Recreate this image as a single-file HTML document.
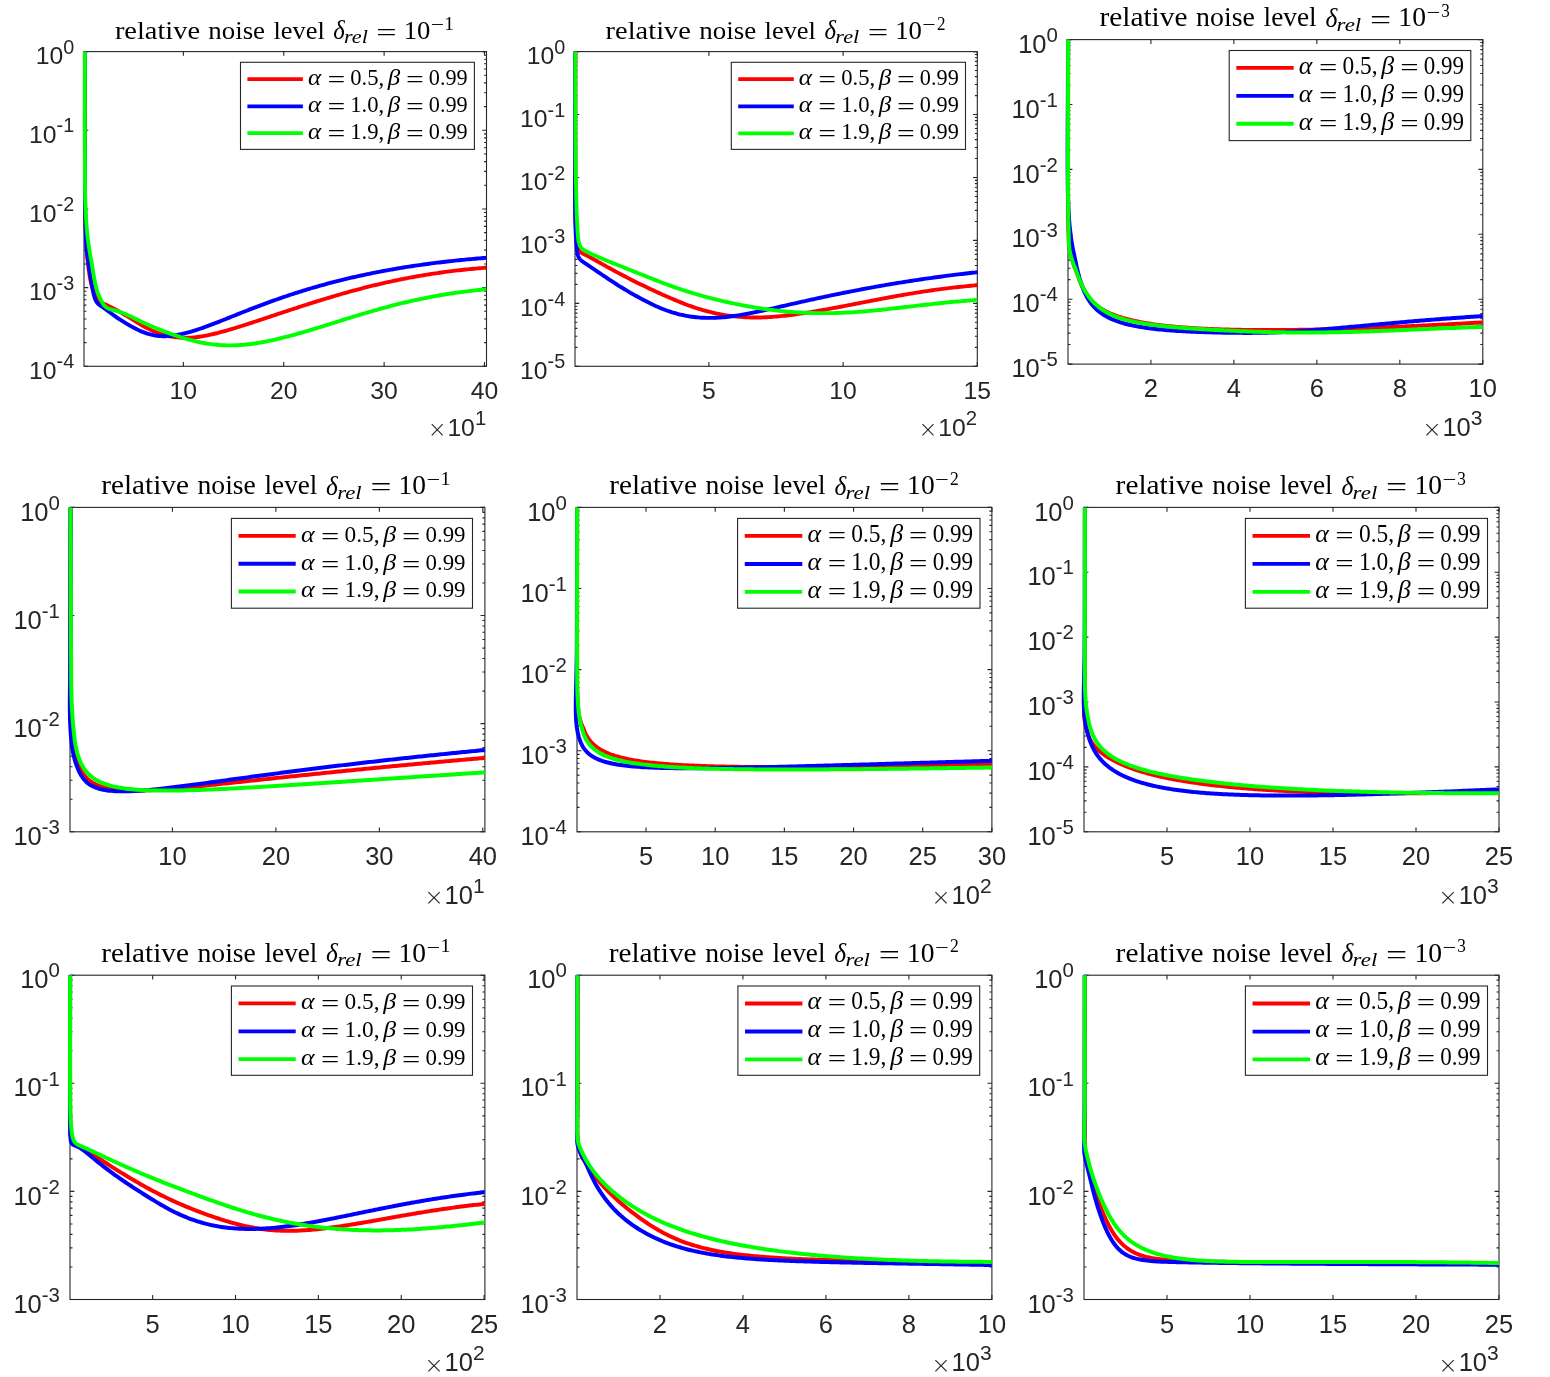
<!DOCTYPE html><html><head><meta charset="utf-8"><style>html,body{margin:0;padding:0;background:#fff;width:1550px;height:1377px;overflow:hidden}svg{display:block}.tk{font-family:"Liberation Sans",sans-serif;fill:#262626}.tt{font-family:"Liberation Serif",serif;fill:#000}.it{font-style:italic}.tx{font-family:"DejaVu Sans",sans-serif;font-weight:200}</style></head><body>
<svg width="1550" height="1377" viewBox="0 0 1550 1377">
<rect width="1550" height="1377" fill="#fff"/>
<g><rect x="84" y="51.6" width="402.5" height="314.7" fill="none" stroke="#262626" stroke-width="1.1"/><path d="M183.37 366.3v-4.27M183.37 51.6v4.27M283.74 366.3v-4.27M283.74 51.6v4.27M384.12 366.3v-4.27M384.12 51.6v4.27M484.49 366.3v-4.27M484.49 51.6v4.27M84 51.6h4.27M486.5 51.6h-4.27M84 106.59h2.42M486.5 106.59h-2.42M84 92.74h2.42M486.5 92.74h-2.42M84 82.91h2.42M486.5 82.91h-2.42M84 75.28h2.42M486.5 75.28h-2.42M84 69.05h2.42M486.5 69.05h-2.42M84 63.79h2.42M486.5 63.79h-2.42M84 59.22h2.42M486.5 59.22h-2.42M84 55.2h2.42M486.5 55.2h-2.42M84 130.28h4.27M486.5 130.28h-4.27M84 185.27h2.42M486.5 185.27h-2.42M84 171.41h2.42M486.5 171.41h-2.42M84 161.58h2.42M486.5 161.58h-2.42M84 153.96h2.42M486.5 153.96h-2.42M84 147.73h2.42M486.5 147.73h-2.42M84 142.46h2.42M486.5 142.46h-2.42M84 137.9h2.42M486.5 137.9h-2.42M84 133.87h2.42M486.5 133.87h-2.42M84 208.95h4.27M486.5 208.95h-4.27M84 263.94h2.42M486.5 263.94h-2.42M84 250.09h2.42M486.5 250.09h-2.42M84 240.26h2.42M486.5 240.26h-2.42M84 232.63h2.42M486.5 232.63h-2.42M84 226.4h2.42M486.5 226.4h-2.42M84 221.14h2.42M486.5 221.14h-2.42M84 216.57h2.42M486.5 216.57h-2.42M84 212.55h2.42M486.5 212.55h-2.42M84 287.62h4.27M486.5 287.62h-4.27M84 342.62h2.42M486.5 342.62h-2.42M84 328.76h2.42M486.5 328.76h-2.42M84 318.93h2.42M486.5 318.93h-2.42M84 311.31h2.42M486.5 311.31h-2.42M84 305.08h2.42M486.5 305.08h-2.42M84 299.81h2.42M486.5 299.81h-2.42M84 295.25h2.42M486.5 295.25h-2.42M84 291.22h2.42M486.5 291.22h-2.42M84 366.3h4.27M486.5 366.3h-4.27" stroke="#262626" stroke-width="1.1" fill="none"/><path d="M84.9 51.6L84.9 55.72L84.9 59.88L84.9 64.07L84.9 68.28L84.89 72.52L84.89 76.77L84.89 81.03L84.88 85.3L84.88 89.56L84.88 93.83L84.88 98.08L84.87 102.31L84.87 106.53L84.87 110.72L84.87 114.87L84.87 118.99L84.87 123.07L84.87 127.1L84.87 131.08L84.88 135L84.88 138.86L84.88 142.65L84.89 146.36L84.9 150L84.91 154.46L84.91 158.86L84.92 163.2L84.92 167.48L84.92 171.69L84.92 175.84L84.93 179.91L84.94 183.93L84.95 187.87L84.97 191.74L85 195.54L85.03 199.27L85.08 202.92L85.13 206.5L85.2 210L85.31 214.87L85.43 219.58L85.56 224.14L85.71 228.55L85.88 232.83L86.06 236.99L86.27 241.04L86.5 245L86.82 249.97L87.16 254.72L87.55 259.29L87.99 263.71L88.5 268L89.13 272.55L89.82 276.96L90.61 281.15L91.5 285L92 286.49L92.5 288.09L93 289.67L93.5 291.17L94 292.57L94.5 293.85L95 295.03L95.5 296.08L96 297.04L96.5 297.89L97 298.65L97.5 299.32L98 299.91L98.5 300.43L99 300.87L99.5 301.27L100 301.62L100.5 301.94L101 302.23L101.5 302.5L102 302.77L102.5 303.02L103 303.27L103.5 303.51L104 303.75L104.5 303.99L105 304.23L105.5 304.47L106 304.71L106.5 304.95L107 305.19L107.5 305.43L108 305.67L108.5 305.91L109 306.16L109.5 306.4L110 306.65L110.5 306.9L111 307.15L111.5 307.41L113.5 308.44L115.5 309.51L117.5 310.6L119.5 311.73L121.5 312.87L123.5 314.04L125.5 315.23L127.5 316.44L129.5 317.66L131.5 318.89L133.5 320.14L135.5 321.39L137.5 322.64L139.5 323.86L141.5 325.05L143.5 326.21L145.5 327.32L147.5 328.38L149.5 329.38L151.5 330.34L153.5 331.23L155.5 332.06L157.5 332.84L159.5 333.55L161.5 334.21L163.5 334.81L165.5 335.35L167.5 335.83L169.5 336.26L171.5 336.63L173.5 336.95L175.5 337.21L177.5 337.43L179.5 337.59L181.5 337.7L183.5 337.77L185.5 337.79L187.5 337.76L189.5 337.69L191.5 337.58L193.5 337.42L195.5 337.23L197.5 336.99L199.5 336.72L201.5 336.41L203.5 336.07L205.5 335.71L207.5 335.31L209.5 334.89L211.5 334.45L213.5 333.99L215.5 333.51L217.5 333.01L219.5 332.49L221.5 331.96L223.5 331.41L225.5 330.85L227.5 330.28L229.5 329.69L231.5 329.1L233.5 328.5L235.5 327.89L237.5 327.27L239.5 326.65L241.5 326.02L243.5 325.38L245.5 324.74L247.5 324.09L249.5 323.44L251.5 322.79L253.5 322.13L255.5 321.47L257.5 320.81L259.5 320.15L261.5 319.48L263.5 318.82L265.5 318.15L267.5 317.49L269.5 316.82L271.5 316.15L273.5 315.48L275.5 314.82L277.5 314.15L279.5 313.49L281.5 312.82L283.5 312.16L285.5 311.5L287.5 310.84L289.5 310.18L291.5 309.52L293.5 308.87L295.5 308.22L297.5 307.57L299.5 306.92L301.5 306.27L303.5 305.63L305.5 304.99L307.5 304.35L309.5 303.72L311.5 303.08L313.5 302.45L315.5 301.83L317.5 301.2L319.5 300.58L321.5 299.96L323.5 299.35L325.5 298.74L327.5 298.13L329.5 297.53L331.5 296.93L333.5 296.33L335.5 295.74L337.5 295.16L339.5 294.58L341.5 294L343.5 293.43L345.5 292.86L347.5 292.3L349.5 291.74L351.5 291.19L353.5 290.64L355.5 290.1L357.5 289.56L359.5 289.03L361.5 288.51L363.5 287.99L365.5 287.48L367.5 286.97L369.5 286.47L371.5 285.97L373.5 285.48L375.5 285L377.5 284.52L379.5 284.05L381.5 283.59L383.5 283.13L385.5 282.67L387.5 282.23L389.5 281.79L391.5 281.35L393.5 280.92L395.5 280.5L397.5 280.08L399.5 279.67L401.5 279.27L403.5 278.87L405.5 278.48L407.5 278.09L409.5 277.71L411.5 277.34L413.5 276.97L415.5 276.61L417.5 276.26L419.5 275.91L421.5 275.57L423.5 275.23L425.5 274.9L427.5 274.58L429.5 274.26L431.5 273.95L433.5 273.64L435.5 273.34L437.5 273.05L439.5 272.76L441.5 272.48L443.5 272.2L445.5 271.93L447.5 271.67L449.5 271.41L451.5 271.16L453.5 270.91L455.5 270.67L457.5 270.44L459.5 270.21L461.5 269.98L463.5 269.77L465.5 269.55L467.5 269.35L469.5 269.15L471.5 268.95L473.5 268.76L475.5 268.58L477.5 268.4L479.5 268.23L481.5 268.06L483.5 267.9L485.5 267.74L486.3 267.68" fill="none" stroke="#ff0000" stroke-width="3.88" stroke-linejoin="round"/><path d="M84.9 51.6L84.9 55.73L84.9 59.91L84.9 64.13L84.9 68.38L84.9 72.67L84.9 76.97L84.9 81.29L84.89 85.62L84.89 89.95L84.89 94.27L84.89 98.58L84.89 102.86L84.89 107.12L84.89 111.34L84.89 115.52L84.89 119.64L84.89 123.71L84.89 127.72L84.89 131.65L84.89 135.51L84.89 139.28L84.89 142.96L84.9 146.53L84.9 150L84.9 154.79L84.9 159.45L84.9 163.98L84.9 168.38L84.9 172.67L84.9 176.84L84.9 180.92L84.91 184.9L84.92 188.79L84.94 192.6L84.96 196.33L85 200L85.06 204.75L85.12 209.35L85.19 213.79L85.27 218.08L85.37 222.21L85.48 226.18L85.6 230L85.76 234.78L85.93 239.18L86.16 243.49L86.5 248L86.92 252.25L87.44 256.62L88.02 261.05L88.65 265.49L89.3 269.9L89.8 272.06L90.3 275.07L90.8 278.36L91.3 281.65L91.8 284.79L92.3 287.7L92.8 290.35L93.3 292.72L93.8 294.81L94.3 296.64L94.8 298.2L95.3 299.53L95.8 300.63L96.3 301.54L96.8 302.3L97.3 302.95L97.8 303.51L98.3 304L98.8 304.44L99.3 304.83L99.8 305.2L100.3 305.56L100.8 305.9L101.3 306.23L101.8 306.56L102.3 306.9L102.8 307.24L103.3 307.59L103.8 307.95L104.3 308.31L104.8 308.67L105.3 309.04L105.8 309.41L106.3 309.79L106.8 310.16L107.3 310.54L107.8 310.91L108.3 311.29L108.8 311.66L109.3 312.04L111.3 313.52L113.3 314.99L115.3 316.41L117.3 317.8L119.3 319.15L121.3 320.46L123.3 321.73L125.3 322.95L127.3 324.14L129.3 325.29L131.3 326.41L133.3 327.48L135.3 328.53L137.3 329.53L139.3 330.47L141.3 331.35L143.3 332.17L145.3 332.91L147.3 333.58L149.3 334.17L151.3 334.69L153.3 335.13L155.3 335.49L157.3 335.78L159.3 335.99L161.3 336.13L163.3 336.19L165.3 336.19L167.3 336.11L169.3 335.98L171.3 335.79L173.3 335.54L175.3 335.25L177.3 334.91L179.3 334.52L181.3 334.1L183.3 333.65L185.3 333.16L187.3 332.64L189.3 332.09L191.3 331.52L193.3 330.92L195.3 330.29L197.3 329.65L199.3 328.99L201.3 328.31L203.3 327.61L205.3 326.9L207.3 326.17L209.3 325.43L211.3 324.68L213.3 323.92L215.3 323.15L217.3 322.37L219.3 321.59L221.3 320.8L223.3 320L225.3 319.21L227.3 318.41L229.3 317.61L231.3 316.81L233.3 316.01L235.3 315.21L237.3 314.41L239.3 313.62L241.3 312.82L243.3 312.03L245.3 311.24L247.3 310.45L249.3 309.67L251.3 308.89L253.3 308.12L255.3 307.35L257.3 306.59L259.3 305.83L261.3 305.07L263.3 304.33L265.3 303.58L267.3 302.85L269.3 302.11L271.3 301.39L273.3 300.67L275.3 299.96L277.3 299.25L279.3 298.55L281.3 297.86L283.3 297.17L285.3 296.49L287.3 295.82L289.3 295.15L291.3 294.49L293.3 293.84L295.3 293.19L297.3 292.55L299.3 291.91L301.3 291.29L303.3 290.67L305.3 290.05L307.3 289.45L309.3 288.84L311.3 288.25L313.3 287.66L315.3 287.08L317.3 286.51L319.3 285.94L321.3 285.38L323.3 284.82L325.3 284.28L327.3 283.73L329.3 283.2L331.3 282.67L333.3 282.15L335.3 281.63L337.3 281.12L339.3 280.62L341.3 280.12L343.3 279.63L345.3 279.14L347.3 278.66L349.3 278.19L351.3 277.72L353.3 277.26L355.3 276.81L357.3 276.36L359.3 275.91L361.3 275.48L363.3 275.04L365.3 274.62L367.3 274.2L369.3 273.78L371.3 273.37L373.3 272.97L375.3 272.57L377.3 272.18L379.3 271.79L381.3 271.4L383.3 271.03L385.3 270.66L387.3 270.29L389.3 269.93L391.3 269.57L393.3 269.22L395.3 268.87L397.3 268.53L399.3 268.19L401.3 267.86L403.3 267.54L405.3 267.21L407.3 266.9L409.3 266.59L411.3 266.28L413.3 265.97L415.3 265.68L417.3 265.38L419.3 265.09L421.3 264.81L423.3 264.53L425.3 264.25L427.3 263.98L429.3 263.72L431.3 263.45L433.3 263.19L435.3 262.94L437.3 262.69L439.3 262.45L441.3 262.2L443.3 261.97L445.3 261.73L447.3 261.5L449.3 261.28L451.3 261.06L453.3 260.84L455.3 260.63L457.3 260.42L459.3 260.21L461.3 260.01L463.3 259.81L465.3 259.62L467.3 259.43L469.3 259.24L471.3 259.06L473.3 258.88L475.3 258.7L477.3 258.53L479.3 258.36L481.3 258.2L483.3 258.03L485.3 257.88L486.3 257.8" fill="none" stroke="#0000ff" stroke-width="3.88" stroke-linejoin="round"/><path d="M84.9 51.6L84.9 55.72L84.9 59.89L84.89 64.1L84.89 68.33L84.89 72.6L84.88 76.88L84.88 81.17L84.87 85.47L84.87 89.77L84.86 94.06L84.86 98.34L84.85 102.6L84.85 106.84L84.85 111.05L84.84 115.21L84.84 119.34L84.84 123.41L84.85 127.43L84.85 131.38L84.86 135.27L84.86 139.08L84.87 142.81L84.89 146.45L84.9 150L84.92 154.75L84.93 159.4L84.93 163.95L84.94 168.4L84.94 172.76L84.95 177.02L84.97 181.19L85 185.28L85.04 189.28L85.1 193.2L85.17 197.04L85.27 200.81L85.4 204.5L85.59 209.03L85.79 213.42L86.02 217.67L86.28 221.79L86.56 225.8L86.87 229.69L87.22 233.49L87.6 237.2L88.17 241.85L88.8 246.25L89.48 250.5L90.19 254.71L90.9 259L91.4 261.27L91.9 264.2L92.4 267.36L92.9 270.54L93.4 273.63L93.9 276.55L94.4 279.28L94.9 281.81L95.4 284.14L95.9 286.27L96.4 288.21L96.9 289.97L97.4 291.56L97.9 292.98L98.4 294.29L98.9 295.5L99.4 296.65L99.9 297.76L100.4 298.85L100.9 299.92L101.4 300.94L101.9 301.9L102.4 302.8L102.9 303.63L103.4 304.38L103.9 305.05L104.4 305.65L104.9 306.17L105.4 306.63L105.9 307.04L106.4 307.41L106.9 307.73L107.4 308.02L107.9 308.29L108.4 308.52L108.9 308.74L109.4 308.93L109.9 309.11L110.4 309.28L110.9 309.44L112.9 309.99L114.9 310.49L116.9 311L118.9 311.57L120.9 312.21L122.9 312.95L124.9 313.78L126.9 314.68L128.9 315.63L130.9 316.61L132.9 317.59L134.9 318.57L136.9 319.54L138.9 320.5L140.9 321.45L142.9 322.39L144.9 323.31L146.9 324.21L148.9 325.1L150.9 325.97L152.9 326.83L154.9 327.68L156.9 328.5L158.9 329.31L160.9 330.11L162.9 330.89L164.9 331.66L166.9 332.41L168.9 333.14L170.9 333.87L172.9 334.58L174.9 335.27L176.9 335.95L178.9 336.62L180.9 337.27L182.9 337.89L184.9 338.5L186.9 339.09L188.9 339.65L190.9 340.19L192.9 340.7L194.9 341.19L196.9 341.65L198.9 342.08L200.9 342.49L202.9 342.87L204.9 343.23L206.9 343.56L208.9 343.86L210.9 344.13L212.9 344.38L214.9 344.6L216.9 344.79L218.9 344.96L220.9 345.09L222.9 345.2L224.9 345.29L226.9 345.34L228.9 345.37L230.9 345.38L232.9 345.35L234.9 345.31L236.9 345.23L238.9 345.13L240.9 345.01L242.9 344.86L244.9 344.68L246.9 344.49L248.9 344.26L250.9 344.02L252.9 343.75L254.9 343.46L256.9 343.15L258.9 342.83L260.9 342.48L262.9 342.12L264.9 341.74L266.9 341.34L268.9 340.93L270.9 340.51L272.9 340.07L274.9 339.62L276.9 339.16L278.9 338.69L280.9 338.2L282.9 337.71L284.9 337.2L286.9 336.69L288.9 336.16L290.9 335.63L292.9 335.09L294.9 334.54L296.9 333.98L298.9 333.42L300.9 332.85L302.9 332.28L304.9 331.7L306.9 331.11L308.9 330.52L310.9 329.92L312.9 329.32L314.9 328.71L316.9 328.1L318.9 327.49L320.9 326.87L322.9 326.25L324.9 325.63L326.9 325L328.9 324.37L330.9 323.74L332.9 323.12L334.9 322.49L336.9 321.86L338.9 321.23L340.9 320.6L342.9 319.97L344.9 319.34L346.9 318.72L348.9 318.1L350.9 317.48L352.9 316.86L354.9 316.25L356.9 315.64L358.9 315.04L360.9 314.43L362.9 313.84L364.9 313.24L366.9 312.65L368.9 312.07L370.9 311.49L372.9 310.91L374.9 310.34L376.9 309.78L378.9 309.22L380.9 308.67L382.9 308.12L384.9 307.58L386.9 307.04L388.9 306.51L390.9 305.99L392.9 305.47L394.9 304.96L396.9 304.46L398.9 303.96L400.9 303.47L402.9 302.98L404.9 302.51L406.9 302.04L408.9 301.57L410.9 301.12L412.9 300.67L414.9 300.23L416.9 299.79L418.9 299.36L420.9 298.94L422.9 298.53L424.9 298.12L426.9 297.73L428.9 297.33L430.9 296.95L432.9 296.57L434.9 296.2L436.9 295.84L438.9 295.49L440.9 295.14L442.9 294.8L444.9 294.47L446.9 294.15L448.9 293.83L450.9 293.52L452.9 293.22L454.9 292.93L456.9 292.64L458.9 292.36L460.9 292.09L462.9 291.83L464.9 291.57L466.9 291.32L468.9 291.08L470.9 290.85L472.9 290.62L474.9 290.4L476.9 290.19L478.9 289.99L480.9 289.79L482.9 289.6L484.9 289.42L486.3 289.3" fill="none" stroke="#00ff00" stroke-width="3.88" stroke-linejoin="round"/><text class="tk" x="183.37" y="398.6" font-size="24.73" text-anchor="middle">10</text><text class="tk" x="283.74" y="398.6" font-size="24.73" text-anchor="middle">20</text><text class="tk" x="384.12" y="398.6" font-size="24.73" text-anchor="middle">30</text><text class="tk" x="484.49" y="398.6" font-size="24.73" text-anchor="middle">40</text><text class="tk" x="74.2" y="64.31" font-size="24.73" text-anchor="end">10<tspan font-size="19.79" dy="-10.57">0</tspan></text><text class="tk" x="74.2" y="142.98" font-size="24.73" text-anchor="end">10<tspan font-size="19.79" dy="-10.57">-1</tspan></text><text class="tk" x="74.2" y="221.66" font-size="24.73" text-anchor="end">10<tspan font-size="19.79" dy="-10.57">-2</tspan></text><text class="tk" x="74.2" y="300.33" font-size="24.73" text-anchor="end">10<tspan font-size="19.79" dy="-10.57">-3</tspan></text><text class="tk" x="74.2" y="379.01" font-size="24.73" text-anchor="end">10<tspan font-size="19.79" dy="-10.57">-4</tspan></text><text class="tk tx" x="427.69" y="437.21" font-size="22.7" textLength="18.97" lengthAdjust="spacingAndGlyphs">×</text><text class="tk" x="486.21" y="436.04" font-size="24.73" text-anchor="end">10<tspan font-size="20.37" dy="-10.67">1</tspan></text><text class="tt" x="114.93" y="38.8" font-size="25.8" textLength="85.05" lengthAdjust="spacingAndGlyphs">relative</text><text class="tt" x="208.36" y="38.8" font-size="25.8" textLength="56.67" lengthAdjust="spacingAndGlyphs">noise</text><text class="tt" x="273.47" y="38.8" font-size="25.8" textLength="51.25" lengthAdjust="spacingAndGlyphs">level</text><text class="tt it" x="333.26" y="39.4" font-size="26.5" textLength="11.47" lengthAdjust="spacingAndGlyphs">δ</text><text class="tt it" x="344.01" y="43.2" font-size="18.8" textLength="23.81" lengthAdjust="spacingAndGlyphs">rel</text><text class="tt" x="376.39" y="41" font-size="25.8" textLength="20.4" lengthAdjust="spacingAndGlyphs">=</text><text class="tt" x="403.7" y="38.8" font-size="25.8" textLength="26.67" lengthAdjust="spacingAndGlyphs">10</text><text class="tt" x="430.82" y="31.3" font-size="19.1" textLength="13.32" lengthAdjust="spacingAndGlyphs">−</text><text class="tt" x="444.25" y="29.8" font-size="19.1" textLength="9.71" lengthAdjust="spacingAndGlyphs">1</text><rect x="240.5" y="62.3" width="233.9" height="87.1" fill="#fff" stroke="#262626" stroke-width="1.1"/><path d="M247.4 79.2H302.9" stroke="#ff0000" stroke-width="3.7"/><text class="tt it" x="307.95" y="84.9" font-size="23.4" textLength="13.18" lengthAdjust="spacingAndGlyphs">α</text><text class="tt" x="327.43" y="86.9" font-size="23.4" textLength="17.76" lengthAdjust="spacingAndGlyphs">=</text><text class="tt" x="350.19" y="84.9" font-size="23.4" textLength="33.96" lengthAdjust="spacingAndGlyphs">0.5,</text><text class="tt it" x="387.8" y="84.9" font-size="23.4" textLength="12.45" lengthAdjust="spacingAndGlyphs">β</text><text class="tt" x="406.03" y="86.9" font-size="23.4" textLength="17.76" lengthAdjust="spacingAndGlyphs">=</text><text class="tt" x="428.81" y="84.9" font-size="23.4" textLength="38.88" lengthAdjust="spacingAndGlyphs">0.99</text><path d="M247.4 106.3H302.9" stroke="#0000ff" stroke-width="3.7"/><text class="tt it" x="307.95" y="112" font-size="23.4" textLength="13.18" lengthAdjust="spacingAndGlyphs">α</text><text class="tt" x="327.43" y="114" font-size="23.4" textLength="17.76" lengthAdjust="spacingAndGlyphs">=</text><text class="tt" x="350.19" y="112" font-size="23.4" textLength="33.96" lengthAdjust="spacingAndGlyphs">1.0,</text><text class="tt it" x="387.8" y="112" font-size="23.4" textLength="12.45" lengthAdjust="spacingAndGlyphs">β</text><text class="tt" x="406.03" y="114" font-size="23.4" textLength="17.76" lengthAdjust="spacingAndGlyphs">=</text><text class="tt" x="428.81" y="112" font-size="23.4" textLength="38.88" lengthAdjust="spacingAndGlyphs">0.99</text><path d="M247.4 133.2H302.9" stroke="#00ff00" stroke-width="3.7"/><text class="tt it" x="307.95" y="138.9" font-size="23.4" textLength="13.18" lengthAdjust="spacingAndGlyphs">α</text><text class="tt" x="327.43" y="140.9" font-size="23.4" textLength="17.76" lengthAdjust="spacingAndGlyphs">=</text><text class="tt" x="350.19" y="138.9" font-size="23.4" textLength="33.96" lengthAdjust="spacingAndGlyphs">1.9,</text><text class="tt it" x="387.8" y="138.9" font-size="23.4" textLength="12.45" lengthAdjust="spacingAndGlyphs">β</text><text class="tt" x="406.03" y="140.9" font-size="23.4" textLength="17.76" lengthAdjust="spacingAndGlyphs">=</text><text class="tt" x="428.81" y="138.9" font-size="23.4" textLength="38.88" lengthAdjust="spacingAndGlyphs">0.99</text></g>
<g><rect x="575" y="51.6" width="402.3" height="314.7" fill="none" stroke="#262626" stroke-width="1.1"/><path d="M708.92 366.3v-4.27M708.92 51.6v4.27M843.11 366.3v-4.27M843.11 51.6v4.27M977.3 366.3v-4.27M977.3 51.6v4.27M575 51.6h4.27M977.3 51.6h-4.27M575 95.59h2.42M977.3 95.59h-2.42M575 84.51h2.42M977.3 84.51h-2.42M575 76.65h2.42M977.3 76.65h-2.42M575 70.55h2.42M977.3 70.55h-2.42M575 65.56h2.42M977.3 65.56h-2.42M575 61.35h2.42M977.3 61.35h-2.42M575 57.7h2.42M977.3 57.7h-2.42M575 54.48h2.42M977.3 54.48h-2.42M575 114.54h4.27M977.3 114.54h-4.27M575 158.53h2.42M977.3 158.53h-2.42M575 147.45h2.42M977.3 147.45h-2.42M575 139.59h2.42M977.3 139.59h-2.42M575 133.49h2.42M977.3 133.49h-2.42M575 128.5h2.42M977.3 128.5h-2.42M575 124.29h2.42M977.3 124.29h-2.42M575 120.64h2.42M977.3 120.64h-2.42M575 117.42h2.42M977.3 117.42h-2.42M575 177.48h4.27M977.3 177.48h-4.27M575 221.47h2.42M977.3 221.47h-2.42M575 210.39h2.42M977.3 210.39h-2.42M575 202.53h2.42M977.3 202.53h-2.42M575 196.43h2.42M977.3 196.43h-2.42M575 191.44h2.42M977.3 191.44h-2.42M575 187.23h2.42M977.3 187.23h-2.42M575 183.58h2.42M977.3 183.58h-2.42M575 180.36h2.42M977.3 180.36h-2.42M575 240.42h4.27M977.3 240.42h-4.27M575 284.41h2.42M977.3 284.41h-2.42M575 273.33h2.42M977.3 273.33h-2.42M575 265.47h2.42M977.3 265.47h-2.42M575 259.37h2.42M977.3 259.37h-2.42M575 254.38h2.42M977.3 254.38h-2.42M575 250.17h2.42M977.3 250.17h-2.42M575 246.52h2.42M977.3 246.52h-2.42M575 243.3h2.42M977.3 243.3h-2.42M575 303.36h4.27M977.3 303.36h-4.27M575 347.35h2.42M977.3 347.35h-2.42M575 336.27h2.42M977.3 336.27h-2.42M575 328.41h2.42M977.3 328.41h-2.42M575 322.31h2.42M977.3 322.31h-2.42M575 317.32h2.42M977.3 317.32h-2.42M575 313.11h2.42M977.3 313.11h-2.42M575 309.46h2.42M977.3 309.46h-2.42M575 306.24h2.42M977.3 306.24h-2.42M575 366.3h4.27M977.3 366.3h-4.27" stroke="#262626" stroke-width="1.1" fill="none"/><path d="M575.3 51.6L575.3 55.72L575.3 59.88L575.3 64.07L575.3 68.28L575.29 72.52L575.29 76.77L575.29 81.03L575.28 85.3L575.28 89.56L575.28 93.83L575.28 98.08L575.27 102.31L575.27 106.53L575.27 110.72L575.27 114.87L575.27 118.99L575.27 123.07L575.27 127.1L575.27 131.08L575.28 135L575.28 138.86L575.28 142.65L575.29 146.36L575.3 150L575.31 154.48L575.32 158.91L575.32 163.31L575.33 167.65L575.33 171.93L575.33 176.15L575.34 180.29L575.35 184.36L575.37 188.34L575.39 192.22L575.41 196.01L575.45 199.68L575.49 203.25L575.54 206.69L575.6 210L575.69 214.66L575.76 219.11L575.85 223.35L575.96 227.36L576.11 231.15L576.32 234.7L576.6 238L576.93 242.67L577.39 246.78L578.7 250.2L579.2 250.95L579.7 251.51L580.2 251.97L580.7 252.35L581.2 252.68L581.7 252.98L582.2 253.27L582.7 253.54L583.2 253.8L583.7 254.06L584.2 254.31L584.7 254.57L585.2 254.82L585.7 255.07L586.2 255.33L586.7 255.59L587.2 255.84L587.7 256.1L588.2 256.36L588.7 256.63L589.2 256.89L589.7 257.15L590.2 257.42L590.7 257.69L591.2 257.96L591.7 258.23L592.2 258.5L592.7 258.78L593.2 259.05L593.7 259.33L594.2 259.6L594.7 259.88L595.2 260.16L595.7 260.43L596.2 260.71L596.7 260.99L597.2 261.27L597.7 261.55L598.2 261.83L598.7 262.11L600.7 263.23L602.7 264.35L604.7 265.47L606.7 266.59L608.7 267.7L610.7 268.8L612.7 269.9L614.7 270.99L616.7 272.08L618.7 273.15L620.7 274.22L622.7 275.27L624.7 276.32L626.7 277.36L628.7 278.39L630.7 279.42L632.7 280.43L634.7 281.43L636.7 282.43L638.7 283.42L640.7 284.4L642.7 285.37L644.7 286.33L646.7 287.29L648.7 288.24L650.7 289.18L652.7 290.11L654.7 291.03L656.7 291.95L658.7 292.86L660.7 293.76L662.7 294.66L664.7 295.54L666.7 296.43L668.7 297.3L670.7 298.17L672.7 299.03L674.7 299.88L676.7 300.72L678.7 301.55L680.7 302.37L682.7 303.17L684.7 303.95L686.7 304.71L688.7 305.45L690.7 306.18L692.7 306.88L694.7 307.56L696.7 308.22L698.7 308.86L700.7 309.47L702.7 310.07L704.7 310.63L706.7 311.18L708.7 311.7L710.7 312.2L712.7 312.68L714.7 313.13L716.7 313.56L718.7 313.96L720.7 314.35L722.7 314.71L724.7 315.04L726.7 315.36L728.7 315.65L730.7 315.92L732.7 316.17L734.7 316.39L736.7 316.6L738.7 316.78L740.7 316.94L742.7 317.08L744.7 317.2L746.7 317.3L748.7 317.38L750.7 317.44L752.7 317.48L754.7 317.49L756.7 317.49L758.7 317.47L760.7 317.44L762.7 317.38L764.7 317.3L766.7 317.21L768.7 317.1L770.7 316.98L772.7 316.84L774.7 316.68L776.7 316.51L778.7 316.33L780.7 316.14L782.7 315.93L784.7 315.71L786.7 315.48L788.7 315.24L790.7 314.99L792.7 314.74L794.7 314.47L796.7 314.19L798.7 313.91L800.7 313.62L802.7 313.32L804.7 313.02L806.7 312.71L808.7 312.39L810.7 312.07L812.7 311.74L814.7 311.4L816.7 311.06L818.7 310.72L820.7 310.37L822.7 310.02L824.7 309.67L826.7 309.31L828.7 308.95L830.7 308.58L832.7 308.21L834.7 307.84L836.7 307.47L838.7 307.09L840.7 306.72L842.7 306.34L844.7 305.96L846.7 305.57L848.7 305.19L850.7 304.8L852.7 304.41L854.7 304.03L856.7 303.64L858.7 303.25L860.7 302.86L862.7 302.47L864.7 302.08L866.7 301.69L868.7 301.3L870.7 300.91L872.7 300.52L874.7 300.14L876.7 299.75L878.7 299.37L880.7 298.99L882.7 298.61L884.7 298.23L886.7 297.86L888.7 297.49L890.7 297.12L892.7 296.75L894.7 296.39L896.7 296.03L898.7 295.68L900.7 295.32L902.7 294.97L904.7 294.63L906.7 294.29L908.7 293.95L910.7 293.62L912.7 293.29L914.7 292.96L916.7 292.64L918.7 292.32L920.7 292.01L922.7 291.7L924.7 291.4L926.7 291.1L928.7 290.8L930.7 290.51L932.7 290.23L934.7 289.95L936.7 289.67L938.7 289.4L940.7 289.14L942.7 288.88L944.7 288.62L946.7 288.37L948.7 288.13L950.7 287.89L952.7 287.66L954.7 287.43L956.7 287.2L958.7 286.98L960.7 286.77L962.7 286.56L964.7 286.36L966.7 286.16L968.7 285.97L970.7 285.79L972.7 285.61L974.7 285.43L976.7 285.26L977.5 285.19" fill="none" stroke="#ff0000" stroke-width="3.88" stroke-linejoin="round"/><path d="M575.2 51.6L575.2 55.71L575.2 59.85L575.2 64.01L575.2 68.19L575.2 72.39L575.2 76.59L575.2 80.8L575.2 85.02L575.2 89.23L575.2 93.45L575.2 97.65L575.2 101.84L575.2 106.02L575.2 110.18L575.2 114.32L575.2 118.44L575.2 122.52L575.2 126.58L575.2 130.59L575.2 134.57L575.2 138.5L575.2 142.39L575.2 146.22L575.2 150L575.2 154.49L575.18 159.01L575.17 163.55L575.14 168.09L575.12 172.61L575.09 177.1L575.07 181.55L575.05 185.94L575.03 190.24L575.01 194.46L575 198.56L575.01 202.54L575.02 206.38L575.04 210.06L575.08 213.56L575.13 216.88L575.2 220L575.36 225.55L575.56 230.51L575.79 235.02L576.07 239.2L576.4 243.2L576.76 248.01L577.2 252.39L578.1 256L578.6 257.15L579.1 258.02L579.6 258.73L580.1 259.32L580.6 259.83L581.1 260.29L581.6 260.72L582.1 261.12L582.6 261.5L583.1 261.87L583.6 262.22L584.1 262.57L584.6 262.92L585.1 263.26L585.6 263.6L586.1 263.94L586.6 264.27L587.1 264.61L587.6 264.95L588.1 265.28L588.6 265.62L589.1 265.95L589.6 266.29L590.1 266.63L590.6 266.96L591.1 267.3L591.6 267.64L592.1 267.98L592.6 268.32L593.1 268.66L593.6 268.99L594.1 269.33L594.6 269.67L595.1 270.01L595.6 270.35L596.1 270.69L596.6 271.03L597.1 271.37L597.6 271.71L598.1 272.05L600.1 273.41L602.1 274.76L604.1 276.11L606.1 277.45L608.1 278.78L610.1 280.1L612.1 281.41L614.1 282.71L616.1 284L618.1 285.27L620.1 286.53L622.1 287.76L624.1 288.99L626.1 290.19L628.1 291.38L630.1 292.55L632.1 293.7L634.1 294.83L636.1 295.95L638.1 297.06L640.1 298.14L642.1 299.21L644.1 300.27L646.1 301.31L648.1 302.33L650.1 303.33L652.1 304.31L654.1 305.26L656.1 306.18L658.1 307.07L660.1 307.92L662.1 308.74L664.1 309.53L666.1 310.28L668.1 310.99L670.1 311.67L672.1 312.32L674.1 312.92L676.1 313.49L678.1 314.02L680.1 314.52L682.1 314.98L684.1 315.41L686.1 315.8L688.1 316.15L690.1 316.48L692.1 316.76L694.1 317.02L696.1 317.24L698.1 317.43L700.1 317.59L702.1 317.72L704.1 317.81L706.1 317.88L708.1 317.92L710.1 317.93L712.1 317.9L714.1 317.86L716.1 317.78L718.1 317.68L720.1 317.55L722.1 317.39L724.1 317.21L726.1 317.01L728.1 316.78L730.1 316.54L732.1 316.27L734.1 315.99L736.1 315.69L738.1 315.37L740.1 315.04L742.1 314.7L744.1 314.34L746.1 313.98L748.1 313.6L750.1 313.21L752.1 312.82L754.1 312.41L756.1 312L758.1 311.59L760.1 311.16L762.1 310.73L764.1 310.3L766.1 309.86L768.1 309.42L770.1 308.98L772.1 308.53L774.1 308.08L776.1 307.63L778.1 307.18L780.1 306.72L782.1 306.26L784.1 305.81L786.1 305.35L788.1 304.89L790.1 304.44L792.1 303.98L794.1 303.53L796.1 303.07L798.1 302.62L800.1 302.17L802.1 301.72L804.1 301.27L806.1 300.83L808.1 300.38L810.1 299.94L812.1 299.5L814.1 299.06L816.1 298.63L818.1 298.19L820.1 297.76L822.1 297.33L824.1 296.9L826.1 296.48L828.1 296.06L830.1 295.64L832.1 295.22L834.1 294.81L836.1 294.4L838.1 293.99L840.1 293.58L842.1 293.17L844.1 292.77L846.1 292.37L848.1 291.98L850.1 291.58L852.1 291.19L854.1 290.8L856.1 290.42L858.1 290.03L860.1 289.65L862.1 289.28L864.1 288.9L866.1 288.53L868.1 288.16L870.1 287.79L872.1 287.43L874.1 287.06L876.1 286.71L878.1 286.35L880.1 286L882.1 285.65L884.1 285.3L886.1 284.96L888.1 284.61L890.1 284.27L892.1 283.94L894.1 283.61L896.1 283.28L898.1 282.95L900.1 282.62L902.1 282.3L904.1 281.98L906.1 281.67L908.1 281.35L910.1 281.04L912.1 280.74L914.1 280.43L916.1 280.13L918.1 279.83L920.1 279.53L922.1 279.24L924.1 278.95L926.1 278.66L928.1 278.38L930.1 278.09L932.1 277.81L934.1 277.54L936.1 277.26L938.1 276.99L940.1 276.72L942.1 276.46L944.1 276.2L946.1 275.93L948.1 275.68L950.1 275.42L952.1 275.17L954.1 274.92L956.1 274.67L958.1 274.43L960.1 274.19L962.1 273.95L964.1 273.71L966.1 273.48L968.1 273.25L970.1 273.02L972.1 272.79L974.1 272.57L976.1 272.35L977.5 272.2" fill="none" stroke="#0000ff" stroke-width="3.88" stroke-linejoin="round"/><path d="M575.3 51.6L575.31 55.73L575.32 59.91L575.33 64.13L575.34 68.38L575.35 72.67L575.36 76.97L575.36 81.29L575.37 85.62L575.38 89.95L575.38 94.27L575.39 98.58L575.4 102.86L575.41 107.12L575.42 111.34L575.43 115.52L575.44 119.64L575.45 123.71L575.47 127.72L575.49 131.65L575.5 135.51L575.52 139.28L575.55 142.96L575.57 146.53L575.6 150L575.64 154.83L575.69 159.56L575.73 164.21L575.78 168.74L575.84 173.16L575.89 177.46L575.95 181.61L576.01 185.62L576.08 189.48L576.15 193.16L576.22 196.68L576.3 200L576.42 204.6L576.54 208.72L576.67 212.53L576.83 216.23L577 220L577.21 224.6L577.44 229.23L577.72 233.58L578.1 237.4L578.62 241.56L579.6 245L580.1 246.06L580.6 246.88L581.1 247.55L581.6 248.11L582.1 248.6L582.6 249.03L583.1 249.42L583.6 249.78L584.1 250.12L584.6 250.43L585.1 250.73L585.6 251.02L586.1 251.3L586.6 251.57L587.1 251.83L587.6 252.09L588.1 252.34L588.6 252.59L589.1 252.83L589.6 253.07L590.1 253.31L590.6 253.55L591.1 253.79L591.6 254.02L592.1 254.25L592.6 254.48L593.1 254.71L593.6 254.93L594.1 255.16L594.6 255.38L595.1 255.61L595.6 255.83L596.1 256.05L596.6 256.27L597.1 256.49L597.6 256.71L598.1 256.93L598.6 257.15L599.1 257.37L599.6 257.58L601.6 258.44L603.6 259.29L605.6 260.13L607.6 260.95L609.6 261.77L611.6 262.58L613.6 263.39L615.6 264.19L617.6 264.98L619.6 265.77L621.6 266.57L623.6 267.36L625.6 268.16L627.6 268.95L629.6 269.75L631.6 270.54L633.6 271.34L635.6 272.14L637.6 272.94L639.6 273.74L641.6 274.55L643.6 275.35L645.6 276.15L647.6 276.96L649.6 277.76L651.6 278.56L653.6 279.35L655.6 280.14L657.6 280.92L659.6 281.69L661.6 282.46L663.6 283.22L665.6 283.96L667.6 284.7L669.6 285.43L671.6 286.15L673.6 286.86L675.6 287.56L677.6 288.25L679.6 288.92L681.6 289.59L683.6 290.25L685.6 290.89L687.6 291.53L689.6 292.15L691.6 292.77L693.6 293.37L695.6 293.97L697.6 294.55L699.6 295.13L701.6 295.69L703.6 296.25L705.6 296.79L707.6 297.33L709.6 297.85L711.6 298.37L713.6 298.88L715.6 299.37L717.6 299.86L719.6 300.34L721.6 300.82L723.6 301.28L725.6 301.74L727.6 302.18L729.6 302.62L731.6 303.05L733.6 303.47L735.6 303.89L737.6 304.3L739.6 304.7L741.6 305.09L743.6 305.47L745.6 305.85L747.6 306.22L749.6 306.58L751.6 306.93L753.6 307.27L755.6 307.6L757.6 307.93L759.6 308.24L761.6 308.55L763.6 308.85L765.6 309.13L767.6 309.41L769.6 309.68L771.6 309.93L773.6 310.18L775.6 310.42L777.6 310.65L779.6 310.86L781.6 311.07L783.6 311.27L785.6 311.46L787.6 311.63L789.6 311.8L791.6 311.96L793.6 312.11L795.6 312.25L797.6 312.38L799.6 312.49L801.6 312.6L803.6 312.7L805.6 312.79L807.6 312.87L809.6 312.94L811.6 313L813.6 313.06L815.6 313.1L817.6 313.13L819.6 313.16L821.6 313.17L823.6 313.18L825.6 313.17L827.6 313.16L829.6 313.14L831.6 313.11L833.6 313.07L835.6 313.02L837.6 312.96L839.6 312.9L841.6 312.82L843.6 312.74L845.6 312.65L847.6 312.55L849.6 312.44L851.6 312.33L853.6 312.21L855.6 312.07L857.6 311.93L859.6 311.79L861.6 311.63L863.6 311.47L865.6 311.3L867.6 311.12L869.6 310.94L871.6 310.75L873.6 310.56L875.6 310.36L877.6 310.16L879.6 309.95L881.6 309.74L883.6 309.53L885.6 309.31L887.6 309.1L889.6 308.87L891.6 308.65L893.6 308.42L895.6 308.2L897.6 307.97L899.6 307.74L901.6 307.51L903.6 307.28L905.6 307.05L907.6 306.81L909.6 306.58L911.6 306.35L913.6 306.12L915.6 305.89L917.6 305.66L919.6 305.44L921.6 305.21L923.6 304.98L925.6 304.76L927.6 304.54L929.6 304.32L931.6 304.1L933.6 303.88L935.6 303.67L937.6 303.46L939.6 303.25L941.6 303.04L943.6 302.84L945.6 302.64L947.6 302.44L949.6 302.24L951.6 302.05L953.6 301.86L955.6 301.68L957.6 301.5L959.6 301.32L961.6 301.15L963.6 300.98L965.6 300.81L967.6 300.65L969.6 300.49L971.6 300.33L973.6 300.18L975.6 300.03L977.5 299.9" fill="none" stroke="#00ff00" stroke-width="3.88" stroke-linejoin="round"/><text class="tk" x="708.92" y="398.6" font-size="24.73" text-anchor="middle">5</text><text class="tk" x="843.11" y="398.6" font-size="24.73" text-anchor="middle">10</text><text class="tk" x="977.3" y="398.6" font-size="24.73" text-anchor="middle">15</text><text class="tk" x="565.2" y="64.31" font-size="24.73" text-anchor="end">10<tspan font-size="19.79" dy="-10.57">0</tspan></text><text class="tk" x="565.2" y="127.25" font-size="24.73" text-anchor="end">10<tspan font-size="19.79" dy="-10.57">-1</tspan></text><text class="tk" x="565.2" y="190.19" font-size="24.73" text-anchor="end">10<tspan font-size="19.79" dy="-10.57">-2</tspan></text><text class="tk" x="565.2" y="253.13" font-size="24.73" text-anchor="end">10<tspan font-size="19.79" dy="-10.57">-3</tspan></text><text class="tk" x="565.2" y="316.07" font-size="24.73" text-anchor="end">10<tspan font-size="19.79" dy="-10.57">-4</tspan></text><text class="tk" x="565.2" y="379.01" font-size="24.73" text-anchor="end">10<tspan font-size="19.79" dy="-10.57">-5</tspan></text><text class="tk tx" x="918.49" y="437.21" font-size="22.7" textLength="18.97" lengthAdjust="spacingAndGlyphs">×</text><text class="tk" x="977.01" y="436.04" font-size="24.73" text-anchor="end">10<tspan font-size="20.37" dy="-10.67">2</tspan></text><text class="tt" x="605.63" y="38.8" font-size="25.87" textLength="85.28" lengthAdjust="spacingAndGlyphs">relative</text><text class="tt" x="699.31" y="38.8" font-size="25.87" textLength="56.82" lengthAdjust="spacingAndGlyphs">noise</text><text class="tt" x="764.59" y="38.8" font-size="25.87" textLength="51.38" lengthAdjust="spacingAndGlyphs">level</text><text class="tt it" x="824.54" y="39.4" font-size="26.57" textLength="11.5" lengthAdjust="spacingAndGlyphs">δ</text><text class="tt it" x="835.32" y="43.21" font-size="18.85" textLength="23.88" lengthAdjust="spacingAndGlyphs">rel</text><text class="tt" x="867.79" y="41.01" font-size="25.87" textLength="20.46" lengthAdjust="spacingAndGlyphs">=</text><text class="tt" x="895.17" y="38.8" font-size="25.87" textLength="26.74" lengthAdjust="spacingAndGlyphs">10</text><text class="tt" x="922.36" y="31.28" font-size="19.15" textLength="13.36" lengthAdjust="spacingAndGlyphs">−</text><text class="tt" x="936.9" y="29.78" font-size="19.15" textLength="8.52" lengthAdjust="spacingAndGlyphs">2</text><rect x="731.3" y="62.3" width="234.2" height="87.1" fill="#fff" stroke="#262626" stroke-width="1.1"/><path d="M738.21 79.22H793.78" stroke="#ff0000" stroke-width="3.7"/><text class="tt it" x="798.83" y="84.93" font-size="23.43" textLength="13.19" lengthAdjust="spacingAndGlyphs">α</text><text class="tt" x="818.34" y="86.93" font-size="23.43" textLength="17.78" lengthAdjust="spacingAndGlyphs">=</text><text class="tt" x="841.13" y="84.93" font-size="23.43" textLength="34.01" lengthAdjust="spacingAndGlyphs">0.5,</text><text class="tt it" x="878.79" y="84.93" font-size="23.43" textLength="12.47" lengthAdjust="spacingAndGlyphs">β</text><text class="tt" x="897.04" y="86.93" font-size="23.43" textLength="17.78" lengthAdjust="spacingAndGlyphs">=</text><text class="tt" x="919.85" y="84.93" font-size="23.43" textLength="38.93" lengthAdjust="spacingAndGlyphs">0.99</text><path d="M738.21 106.36H793.78" stroke="#0000ff" stroke-width="3.7"/><text class="tt it" x="798.83" y="112.06" font-size="23.43" textLength="13.19" lengthAdjust="spacingAndGlyphs">α</text><text class="tt" x="818.34" y="114.07" font-size="23.43" textLength="17.78" lengthAdjust="spacingAndGlyphs">=</text><text class="tt" x="841.13" y="112.06" font-size="23.43" textLength="34.01" lengthAdjust="spacingAndGlyphs">1.0,</text><text class="tt it" x="878.79" y="112.06" font-size="23.43" textLength="12.47" lengthAdjust="spacingAndGlyphs">β</text><text class="tt" x="897.04" y="114.07" font-size="23.43" textLength="17.78" lengthAdjust="spacingAndGlyphs">=</text><text class="tt" x="919.85" y="112.06" font-size="23.43" textLength="38.93" lengthAdjust="spacingAndGlyphs">0.99</text><path d="M738.21 133.29H793.78" stroke="#00ff00" stroke-width="3.7"/><text class="tt it" x="798.83" y="139" font-size="23.43" textLength="13.19" lengthAdjust="spacingAndGlyphs">α</text><text class="tt" x="818.34" y="141" font-size="23.43" textLength="17.78" lengthAdjust="spacingAndGlyphs">=</text><text class="tt" x="841.13" y="139" font-size="23.43" textLength="34.01" lengthAdjust="spacingAndGlyphs">1.9,</text><text class="tt it" x="878.79" y="139" font-size="23.43" textLength="12.47" lengthAdjust="spacingAndGlyphs">β</text><text class="tt" x="897.04" y="141" font-size="23.43" textLength="17.78" lengthAdjust="spacingAndGlyphs">=</text><text class="tt" x="919.85" y="139" font-size="23.43" textLength="38.93" lengthAdjust="spacingAndGlyphs">0.99</text></g>
<g><rect x="1068" y="39.6" width="414.8" height="324.5" fill="none" stroke="#262626" stroke-width="1.1"/><path d="M1150.93 364.1v-4.4M1150.93 39.6v4.4M1233.9 364.1v-4.4M1233.9 39.6v4.4M1316.86 364.1v-4.4M1316.86 39.6v4.4M1399.83 364.1v-4.4M1399.83 39.6v4.4M1482.8 364.1v-4.4M1482.8 39.6v4.4M1068 39.6h4.4M1482.8 39.6h-4.4M1068 84.96h2.5M1482.8 84.96h-2.5M1068 73.53h2.5M1482.8 73.53h-2.5M1068 65.43h2.5M1482.8 65.43h-2.5M1068 59.14h2.5M1482.8 59.14h-2.5M1068 54h2.5M1482.8 54h-2.5M1068 49.65h2.5M1482.8 49.65h-2.5M1068 45.89h2.5M1482.8 45.89h-2.5M1068 42.57h2.5M1482.8 42.57h-2.5M1068 104.5h4.4M1482.8 104.5h-4.4M1068 149.86h2.5M1482.8 149.86h-2.5M1068 138.43h2.5M1482.8 138.43h-2.5M1068 130.33h2.5M1482.8 130.33h-2.5M1068 124.04h2.5M1482.8 124.04h-2.5M1068 118.9h2.5M1482.8 118.9h-2.5M1068 114.55h2.5M1482.8 114.55h-2.5M1068 110.79h2.5M1482.8 110.79h-2.5M1068 107.47h2.5M1482.8 107.47h-2.5M1068 169.4h4.4M1482.8 169.4h-4.4M1068 214.76h2.5M1482.8 214.76h-2.5M1068 203.33h2.5M1482.8 203.33h-2.5M1068 195.23h2.5M1482.8 195.23h-2.5M1068 188.94h2.5M1482.8 188.94h-2.5M1068 183.8h2.5M1482.8 183.8h-2.5M1068 179.45h2.5M1482.8 179.45h-2.5M1068 175.69h2.5M1482.8 175.69h-2.5M1068 172.37h2.5M1482.8 172.37h-2.5M1068 234.3h4.4M1482.8 234.3h-4.4M1068 279.66h2.5M1482.8 279.66h-2.5M1068 268.23h2.5M1482.8 268.23h-2.5M1068 260.13h2.5M1482.8 260.13h-2.5M1068 253.84h2.5M1482.8 253.84h-2.5M1068 248.7h2.5M1482.8 248.7h-2.5M1068 244.35h2.5M1482.8 244.35h-2.5M1068 240.59h2.5M1482.8 240.59h-2.5M1068 237.27h2.5M1482.8 237.27h-2.5M1068 299.2h4.4M1482.8 299.2h-4.4M1068 344.56h2.5M1482.8 344.56h-2.5M1068 333.13h2.5M1482.8 333.13h-2.5M1068 325.03h2.5M1482.8 325.03h-2.5M1068 318.74h2.5M1482.8 318.74h-2.5M1068 313.6h2.5M1482.8 313.6h-2.5M1068 309.25h2.5M1482.8 309.25h-2.5M1068 305.49h2.5M1482.8 305.49h-2.5M1068 302.17h2.5M1482.8 302.17h-2.5M1068 364.1h4.4M1482.8 364.1h-4.4" stroke="#262626" stroke-width="1.1" fill="none"/><path d="M1068.1 39.6L1068.1 43.65L1068.1 47.77L1068.1 51.95L1068.09 56.19L1068.09 60.49L1068.09 64.83L1068.08 69.22L1068.08 73.64L1068.08 78.1L1068.07 82.58L1068.07 87.07L1068.06 91.59L1068.06 96.1L1068.05 100.63L1068.05 105.14L1068.04 109.65L1068.04 114.14L1068.03 118.61L1068.03 123.06L1068.02 127.47L1068.02 131.84L1068.02 136.17L1068.01 140.45L1068.01 144.67L1068.01 148.84L1068.01 152.93L1068.01 156.96L1068.01 160.9L1068.01 164.76L1068.01 168.53L1068.02 172.2L1068.02 175.77L1068.03 179.24L1068.03 182.59L1068.04 185.82L1068.05 188.93L1068.06 191.91L1068.07 194.75L1068.09 197.45L1068.1 200L1068.13 205.22L1068.14 209.9L1068.16 214.12L1068.18 218L1068.22 221.63L1068.28 225.1L1068.37 228.53L1068.5 232L1068.67 236.35L1068.84 240.49L1069.08 244.46L1069.44 248.28L1070 252L1071.25 257.23L1072.83 262.19L1074.5 267L1075 267.97L1075.5 269.19L1076 270.52L1076.5 271.91L1077 273.31L1077.5 274.69L1078 276.06L1078.5 277.39L1079 278.69L1079.5 279.95L1080 281.17L1080.5 282.35L1081 283.49L1081.5 284.6L1082 285.66L1082.5 286.7L1083 287.7L1083.5 288.66L1084 289.6L1084.5 290.51L1085 291.39L1085.5 292.24L1086 293.07L1086.5 293.87L1087 294.64L1087.5 295.39L1088 296.12L1088.5 296.82L1089 297.5L1089.5 298.16L1090 298.79L1090.5 299.4L1091 300L1091.5 300.57L1092 301.12L1092.5 301.65L1093 302.17L1093.5 302.66L1094 303.14L1094.5 303.61L1096.5 305.33L1098.5 306.86L1100.5 308.23L1102.5 309.47L1104.5 310.6L1106.5 311.64L1108.5 312.6L1110.5 313.49L1112.5 314.32L1114.5 315.1L1116.5 315.83L1118.5 316.52L1120.5 317.17L1122.5 317.79L1124.5 318.37L1126.5 318.92L1128.5 319.45L1130.5 319.95L1132.5 320.43L1134.5 320.88L1136.5 321.32L1138.5 321.73L1140.5 322.12L1142.5 322.5L1144.5 322.86L1146.5 323.2L1148.5 323.53L1150.5 323.84L1152.5 324.14L1154.5 324.43L1156.5 324.71L1158.5 324.97L1160.5 325.22L1162.5 325.46L1164.5 325.69L1166.5 325.92L1168.5 326.13L1170.5 326.33L1172.5 326.53L1174.5 326.72L1176.5 326.9L1178.5 327.07L1180.5 327.23L1182.5 327.39L1184.5 327.54L1186.5 327.69L1188.5 327.83L1190.5 327.96L1192.5 328.09L1194.5 328.21L1196.5 328.33L1198.5 328.44L1200.5 328.55L1202.5 328.65L1204.5 328.75L1206.5 328.84L1208.5 328.93L1210.5 329.01L1212.5 329.1L1214.5 329.17L1216.5 329.25L1218.5 329.32L1220.5 329.38L1222.5 329.44L1224.5 329.5L1226.5 329.56L1228.5 329.61L1230.5 329.66L1232.5 329.71L1234.5 329.75L1236.5 329.8L1238.5 329.83L1240.5 329.87L1242.5 329.9L1244.5 329.93L1246.5 329.96L1248.5 329.99L1250.5 330.01L1252.5 330.03L1254.5 330.05L1256.5 330.06L1258.5 330.07L1260.5 330.08L1262.5 330.09L1264.5 330.1L1266.5 330.1L1268.5 330.1L1270.5 330.1L1272.5 330.1L1274.5 330.09L1276.5 330.08L1278.5 330.08L1280.5 330.06L1282.5 330.05L1284.5 330.03L1286.5 330.02L1288.5 330L1290.5 329.98L1292.5 329.95L1294.5 329.93L1296.5 329.9L1298.5 329.87L1300.5 329.84L1302.5 329.81L1304.5 329.78L1306.5 329.74L1308.5 329.71L1310.5 329.67L1312.5 329.63L1314.5 329.59L1316.5 329.55L1318.5 329.5L1320.5 329.46L1322.5 329.41L1324.5 329.36L1326.5 329.31L1328.5 329.26L1330.5 329.21L1332.5 329.15L1334.5 329.1L1336.5 329.04L1338.5 328.98L1340.5 328.92L1342.5 328.86L1344.5 328.8L1346.5 328.74L1348.5 328.67L1350.5 328.61L1352.5 328.54L1354.5 328.47L1356.5 328.41L1358.5 328.34L1360.5 328.27L1362.5 328.19L1364.5 328.12L1366.5 328.05L1368.5 327.97L1370.5 327.9L1372.5 327.82L1374.5 327.74L1376.5 327.66L1378.5 327.58L1380.5 327.5L1382.5 327.42L1384.5 327.34L1386.5 327.25L1388.5 327.17L1390.5 327.09L1392.5 327L1394.5 326.91L1396.5 326.82L1398.5 326.74L1400.5 326.65L1402.5 326.56L1404.5 326.47L1406.5 326.37L1408.5 326.28L1410.5 326.19L1412.5 326.09L1414.5 326L1416.5 325.9L1418.5 325.81L1420.5 325.71L1422.5 325.61L1424.5 325.52L1426.5 325.42L1428.5 325.32L1430.5 325.22L1432.5 325.12L1434.5 325.01L1436.5 324.91L1438.5 324.81L1440.5 324.71L1442.5 324.6L1444.5 324.5L1446.5 324.39L1448.5 324.29L1450.5 324.18L1452.5 324.07L1454.5 323.97L1456.5 323.86L1458.5 323.75L1460.5 323.64L1462.5 323.53L1464.5 323.42L1466.5 323.31L1468.5 323.2L1470.5 323.09L1472.5 322.98L1474.5 322.86L1476.5 322.75L1478.5 322.64L1480.5 322.52L1482.5 322.41L1482.7 322.4" fill="none" stroke="#ff0000" stroke-width="4" stroke-linejoin="round"/><path d="M1068.1 39.6L1068.1 43.65L1068.09 47.77L1068.08 51.96L1068.07 56.21L1068.06 60.51L1068.04 64.87L1068.02 69.26L1068 73.7L1067.97 78.16L1067.95 82.65L1067.93 87.17L1067.9 91.69L1067.87 96.22L1067.85 100.76L1067.82 105.29L1067.79 109.81L1067.77 114.32L1067.74 118.8L1067.72 123.25L1067.7 127.68L1067.68 132.06L1067.67 136.4L1067.65 140.69L1067.64 144.91L1067.63 149.08L1067.63 153.18L1067.63 157.2L1067.63 161.14L1067.64 165L1067.65 168.76L1067.67 172.43L1067.69 175.99L1067.72 179.44L1067.75 182.77L1067.79 185.98L1067.84 189.06L1067.9 192.01L1067.96 194.82L1068.02 197.49L1068.1 200L1068.3 205.67L1068.53 210.65L1068.77 215.08L1069.04 219.13L1069.35 222.95L1069.7 226.68L1070.1 230.5L1070.62 234.85L1071.19 238.98L1071.82 242.97L1072.49 246.88L1073.2 250.8L1073.7 252.68L1074.2 254.93L1074.7 257.33L1075.2 259.76L1075.7 262.18L1076.2 264.54L1076.7 266.82L1077.2 269.02L1077.7 271.13L1078.2 273.15L1078.7 275.08L1079.2 276.92L1079.7 278.68L1080.2 280.36L1080.7 281.96L1081.2 283.49L1081.7 284.96L1082.2 286.36L1082.7 287.7L1083.2 288.98L1083.7 290.2L1084.2 291.37L1084.7 292.5L1085.2 293.57L1085.7 294.6L1086.2 295.59L1086.7 296.54L1087.2 297.45L1087.7 298.32L1088.2 299.16L1088.7 299.96L1089.2 300.73L1089.7 301.48L1090.2 302.19L1090.7 302.88L1091.2 303.54L1091.7 304.18L1092.2 304.8L1092.7 305.4L1093.2 305.98L1095.2 308.11L1097.2 309.99L1099.2 311.66L1101.2 313.17L1103.2 314.52L1105.2 315.75L1107.2 316.87L1109.2 317.89L1111.2 318.83L1113.2 319.7L1115.2 320.49L1117.2 321.23L1119.2 321.92L1121.2 322.56L1123.2 323.15L1125.2 323.71L1127.2 324.23L1129.2 324.71L1131.2 325.17L1133.2 325.6L1135.2 326L1137.2 326.38L1139.2 326.74L1141.2 327.08L1143.2 327.4L1145.2 327.7L1147.2 327.99L1149.2 328.26L1151.2 328.51L1153.2 328.76L1155.2 328.99L1157.2 329.21L1159.2 329.41L1161.2 329.61L1163.2 329.8L1165.2 329.98L1167.2 330.15L1169.2 330.31L1171.2 330.46L1173.2 330.61L1175.2 330.75L1177.2 330.88L1179.2 331L1181.2 331.12L1183.2 331.24L1185.2 331.35L1187.2 331.45L1189.2 331.55L1191.2 331.64L1193.2 331.73L1195.2 331.81L1197.2 331.89L1199.2 331.97L1201.2 332.04L1203.2 332.11L1205.2 332.18L1207.2 332.24L1209.2 332.3L1211.2 332.35L1213.2 332.41L1215.2 332.46L1217.2 332.5L1219.2 332.55L1221.2 332.59L1223.2 332.63L1225.2 332.67L1227.2 332.7L1229.2 332.74L1231.2 332.77L1233.2 332.8L1235.2 332.82L1237.2 332.84L1239.2 332.86L1241.2 332.87L1243.2 332.88L1245.2 332.89L1247.2 332.89L1249.2 332.89L1251.2 332.88L1253.2 332.87L1255.2 332.85L1257.2 332.83L1259.2 332.8L1261.2 332.77L1263.2 332.73L1265.2 332.69L1267.2 332.64L1269.2 332.59L1271.2 332.53L1273.2 332.47L1275.2 332.4L1277.2 332.32L1279.2 332.24L1281.2 332.15L1283.2 332.06L1285.2 331.96L1287.2 331.86L1289.2 331.75L1291.2 331.64L1293.2 331.52L1295.2 331.4L1297.2 331.27L1299.2 331.14L1301.2 331.01L1303.2 330.87L1305.2 330.73L1307.2 330.58L1309.2 330.44L1311.2 330.29L1313.2 330.13L1315.2 329.98L1317.2 329.82L1319.2 329.66L1321.2 329.49L1323.2 329.33L1325.2 329.16L1327.2 328.99L1329.2 328.82L1331.2 328.65L1333.2 328.47L1335.2 328.3L1337.2 328.12L1339.2 327.94L1341.2 327.76L1343.2 327.58L1345.2 327.4L1347.2 327.22L1349.2 327.04L1351.2 326.86L1353.2 326.67L1355.2 326.49L1357.2 326.31L1359.2 326.12L1361.2 325.94L1363.2 325.75L1365.2 325.57L1367.2 325.39L1369.2 325.2L1371.2 325.02L1373.2 324.83L1375.2 324.65L1377.2 324.47L1379.2 324.28L1381.2 324.1L1383.2 323.92L1385.2 323.73L1387.2 323.55L1389.2 323.37L1391.2 323.19L1393.2 323.01L1395.2 322.83L1397.2 322.66L1399.2 322.48L1401.2 322.3L1403.2 322.13L1405.2 321.95L1407.2 321.78L1409.2 321.61L1411.2 321.43L1413.2 321.26L1415.2 321.09L1417.2 320.93L1419.2 320.76L1421.2 320.59L1423.2 320.43L1425.2 320.26L1427.2 320.1L1429.2 319.94L1431.2 319.78L1433.2 319.62L1435.2 319.46L1437.2 319.3L1439.2 319.15L1441.2 318.99L1443.2 318.84L1445.2 318.69L1447.2 318.54L1449.2 318.39L1451.2 318.24L1453.2 318.09L1455.2 317.95L1457.2 317.81L1459.2 317.66L1461.2 317.52L1463.2 317.38L1465.2 317.25L1467.2 317.11L1469.2 316.97L1471.2 316.84L1473.2 316.71L1475.2 316.58L1477.2 316.45L1479.2 316.32L1481.2 316.19L1482.7 316.1" fill="none" stroke="#0000ff" stroke-width="4" stroke-linejoin="round"/><path d="M1068.1 39.6L1068.1 43.62L1068.1 47.64L1068.1 51.66L1068.1 55.68L1068.1 59.7L1068.1 63.73L1068.1 67.75L1068.1 71.77L1068.1 75.79L1068.1 79.81L1068.1 83.83L1068.1 87.85L1068.1 91.87L1068.1 95.89L1068.1 99.91L1068.1 103.93L1068.1 107.95L1068.1 111.97L1068.1 115.98L1068.1 120L1068.1 124.05L1068.1 128.18L1068.09 132.37L1068.08 136.62L1068.08 140.9L1068.07 145.21L1068.06 149.52L1068.05 153.83L1068.04 158.12L1068.04 162.38L1068.03 166.59L1068.03 170.73L1068.03 174.81L1068.03 178.79L1068.03 182.67L1068.04 186.43L1068.05 190.05L1068.06 193.53L1068.08 196.85L1068.1 200L1068.14 205.17L1068.19 209.95L1068.25 214.41L1068.31 218.62L1068.39 222.66L1068.48 226.59L1068.6 230.5L1068.69 234.88L1068.75 239.07L1068.85 243.11L1069.11 247.01L1069.6 250.8L1070.84 256.14L1072.47 261.19L1074.2 266.1L1074.7 267.03L1075.2 268.23L1075.7 269.56L1076.2 270.95L1076.7 272.36L1077.2 273.76L1077.7 275.13L1078.2 276.48L1078.7 277.79L1079.2 279.05L1079.7 280.28L1080.2 281.47L1080.7 282.62L1081.2 283.73L1081.7 284.8L1082.2 285.83L1082.7 286.83L1083.2 287.8L1083.7 288.73L1084.2 289.63L1084.7 290.51L1085.2 291.35L1085.7 292.17L1086.2 292.96L1086.7 293.73L1087.2 294.48L1087.7 295.2L1088.2 295.9L1088.7 296.59L1089.2 297.25L1089.7 297.89L1090.2 298.51L1090.7 299.12L1091.2 299.71L1091.7 300.29L1092.2 300.85L1092.7 301.39L1093.2 301.92L1093.7 302.44L1094.2 302.94L1096.2 304.83L1098.2 306.55L1100.2 308.11L1102.2 309.53L1104.2 310.83L1106.2 312.02L1108.2 313.12L1110.2 314.13L1112.2 315.06L1114.2 315.92L1116.2 316.71L1118.2 317.45L1120.2 318.13L1122.2 318.77L1124.2 319.36L1126.2 319.91L1128.2 320.42L1130.2 320.91L1132.2 321.37L1134.2 321.8L1136.2 322.2L1138.2 322.59L1140.2 322.95L1142.2 323.3L1144.2 323.63L1146.2 323.94L1148.2 324.24L1150.2 324.52L1152.2 324.8L1154.2 325.06L1156.2 325.31L1158.2 325.55L1160.2 325.78L1162.2 326L1164.2 326.22L1166.2 326.42L1168.2 326.62L1170.2 326.81L1172.2 327L1174.2 327.18L1176.2 327.35L1178.2 327.52L1180.2 327.68L1182.2 327.84L1184.2 328L1186.2 328.15L1188.2 328.29L1190.2 328.44L1192.2 328.57L1194.2 328.71L1196.2 328.84L1198.2 328.97L1200.2 329.09L1202.2 329.22L1204.2 329.33L1206.2 329.45L1208.2 329.57L1210.2 329.68L1212.2 329.79L1214.2 329.9L1216.2 330L1218.2 330.11L1220.2 330.21L1222.2 330.31L1224.2 330.4L1226.2 330.5L1228.2 330.6L1230.2 330.69L1232.2 330.78L1234.2 330.87L1236.2 330.96L1238.2 331.04L1240.2 331.13L1242.2 331.21L1244.2 331.29L1246.2 331.37L1248.2 331.44L1250.2 331.51L1252.2 331.58L1254.2 331.65L1256.2 331.72L1258.2 331.78L1260.2 331.84L1262.2 331.9L1264.2 331.95L1266.2 332.01L1268.2 332.06L1270.2 332.1L1272.2 332.15L1274.2 332.19L1276.2 332.23L1278.2 332.27L1280.2 332.3L1282.2 332.33L1284.2 332.36L1286.2 332.39L1288.2 332.41L1290.2 332.44L1292.2 332.45L1294.2 332.47L1296.2 332.48L1298.2 332.5L1300.2 332.5L1302.2 332.51L1304.2 332.51L1306.2 332.51L1308.2 332.51L1310.2 332.51L1312.2 332.5L1314.2 332.49L1316.2 332.48L1318.2 332.47L1320.2 332.45L1322.2 332.43L1324.2 332.41L1326.2 332.39L1328.2 332.36L1330.2 332.34L1332.2 332.31L1334.2 332.27L1336.2 332.24L1338.2 332.2L1340.2 332.16L1342.2 332.12L1344.2 332.08L1346.2 332.03L1348.2 331.99L1350.2 331.94L1352.2 331.88L1354.2 331.83L1356.2 331.77L1358.2 331.72L1360.2 331.66L1362.2 331.59L1364.2 331.53L1366.2 331.46L1368.2 331.39L1370.2 331.32L1372.2 331.25L1374.2 331.18L1376.2 331.11L1378.2 331.03L1380.2 330.95L1382.2 330.87L1384.2 330.8L1386.2 330.71L1388.2 330.63L1390.2 330.55L1392.2 330.47L1394.2 330.39L1396.2 330.3L1398.2 330.22L1400.2 330.13L1402.2 330.05L1404.2 329.96L1406.2 329.88L1408.2 329.79L1410.2 329.7L1412.2 329.62L1414.2 329.53L1416.2 329.45L1418.2 329.36L1420.2 329.28L1422.2 329.19L1424.2 329.11L1426.2 329.02L1428.2 328.94L1430.2 328.85L1432.2 328.77L1434.2 328.69L1436.2 328.6L1438.2 328.52L1440.2 328.44L1442.2 328.36L1444.2 328.28L1446.2 328.2L1448.2 328.12L1450.2 328.04L1452.2 327.96L1454.2 327.89L1456.2 327.81L1458.2 327.74L1460.2 327.66L1462.2 327.59L1464.2 327.52L1466.2 327.44L1468.2 327.37L1470.2 327.3L1472.2 327.24L1474.2 327.17L1476.2 327.1L1478.2 327.04L1480.2 326.97L1482.2 326.91L1482.7 326.89" fill="none" stroke="#00ff00" stroke-width="4" stroke-linejoin="round"/><text class="tk" x="1150.93" y="397.4" font-size="25.5" text-anchor="middle">2</text><text class="tk" x="1233.9" y="397.4" font-size="25.5" text-anchor="middle">4</text><text class="tk" x="1316.86" y="397.4" font-size="25.5" text-anchor="middle">6</text><text class="tk" x="1399.83" y="397.4" font-size="25.5" text-anchor="middle">8</text><text class="tk" x="1482.8" y="397.4" font-size="25.5" text-anchor="middle">10</text><text class="tk" x="1057.9" y="52.7" font-size="25.5" text-anchor="end">10<tspan font-size="20.4" dy="-10.9">0</tspan></text><text class="tk" x="1057.9" y="117.6" font-size="25.5" text-anchor="end">10<tspan font-size="20.4" dy="-10.9">-1</tspan></text><text class="tk" x="1057.9" y="182.5" font-size="25.5" text-anchor="end">10<tspan font-size="20.4" dy="-10.9">-2</tspan></text><text class="tk" x="1057.9" y="247.4" font-size="25.5" text-anchor="end">10<tspan font-size="20.4" dy="-10.9">-3</tspan></text><text class="tk" x="1057.9" y="312.3" font-size="25.5" text-anchor="end">10<tspan font-size="20.4" dy="-10.9">-4</tspan></text><text class="tk" x="1057.9" y="377.2" font-size="25.5" text-anchor="end">10<tspan font-size="20.4" dy="-10.9">-5</tspan></text><text class="tk tx" x="1422.17" y="437.2" font-size="23.4" textLength="19.55" lengthAdjust="spacingAndGlyphs">×</text><text class="tk" x="1482.5" y="436" font-size="25.5" text-anchor="end">10<tspan font-size="21" dy="-11">3</tspan></text><text class="tt" x="1099.41" y="26.3" font-size="26.71" textLength="88.05" lengthAdjust="spacingAndGlyphs">relative</text><text class="tt" x="1196.14" y="26.3" font-size="26.71" textLength="58.67" lengthAdjust="spacingAndGlyphs">noise</text><text class="tt" x="1263.55" y="26.3" font-size="26.71" textLength="53.05" lengthAdjust="spacingAndGlyphs">level</text><text class="tt it" x="1325.44" y="26.92" font-size="27.43" textLength="11.87" lengthAdjust="spacingAndGlyphs">δ</text><text class="tt it" x="1336.57" y="30.86" font-size="19.46" textLength="24.65" lengthAdjust="spacingAndGlyphs">rel</text><text class="tt" x="1370.1" y="28.58" font-size="26.71" textLength="21.12" lengthAdjust="spacingAndGlyphs">=</text><text class="tt" x="1398.37" y="26.3" font-size="26.71" textLength="27.61" lengthAdjust="spacingAndGlyphs">10</text><text class="tt" x="1426.44" y="18.54" font-size="19.77" textLength="13.79" lengthAdjust="spacingAndGlyphs">−</text><text class="tt" x="1441.3" y="16.98" font-size="19.77" textLength="8.59" lengthAdjust="spacingAndGlyphs">3</text><rect x="1229.2" y="50.5" width="241.6" height="90.1" fill="#fff" stroke="#262626" stroke-width="1.1"/><path d="M1236.33 67.96H1293.65" stroke="#ff0000" stroke-width="3.82"/><text class="tt it" x="1298.87" y="73.84" font-size="24.17" textLength="13.61" lengthAdjust="spacingAndGlyphs">α</text><text class="tt" x="1318.99" y="75.91" font-size="24.17" textLength="18.35" lengthAdjust="spacingAndGlyphs">=</text><text class="tt" x="1342.51" y="73.84" font-size="24.17" textLength="35.08" lengthAdjust="spacingAndGlyphs">0.5,</text><text class="tt it" x="1381.35" y="73.84" font-size="24.17" textLength="12.86" lengthAdjust="spacingAndGlyphs">β</text><text class="tt" x="1400.17" y="75.91" font-size="24.17" textLength="18.35" lengthAdjust="spacingAndGlyphs">=</text><text class="tt" x="1423.71" y="73.84" font-size="24.17" textLength="40.16" lengthAdjust="spacingAndGlyphs">0.99</text><path d="M1236.33 95.95H1293.65" stroke="#0000ff" stroke-width="3.82"/><text class="tt it" x="1298.87" y="101.84" font-size="24.17" textLength="13.61" lengthAdjust="spacingAndGlyphs">α</text><text class="tt" x="1318.99" y="103.9" font-size="24.17" textLength="18.35" lengthAdjust="spacingAndGlyphs">=</text><text class="tt" x="1342.51" y="101.84" font-size="24.17" textLength="35.08" lengthAdjust="spacingAndGlyphs">1.0,</text><text class="tt it" x="1381.35" y="101.84" font-size="24.17" textLength="12.86" lengthAdjust="spacingAndGlyphs">β</text><text class="tt" x="1400.17" y="103.9" font-size="24.17" textLength="18.35" lengthAdjust="spacingAndGlyphs">=</text><text class="tt" x="1423.71" y="101.84" font-size="24.17" textLength="40.16" lengthAdjust="spacingAndGlyphs">0.99</text><path d="M1236.33 123.73H1293.65" stroke="#00ff00" stroke-width="3.82"/><text class="tt it" x="1298.87" y="129.62" font-size="24.17" textLength="13.61" lengthAdjust="spacingAndGlyphs">α</text><text class="tt" x="1318.99" y="131.69" font-size="24.17" textLength="18.35" lengthAdjust="spacingAndGlyphs">=</text><text class="tt" x="1342.51" y="129.62" font-size="24.17" textLength="35.08" lengthAdjust="spacingAndGlyphs">1.9,</text><text class="tt it" x="1381.35" y="129.62" font-size="24.17" textLength="12.86" lengthAdjust="spacingAndGlyphs">β</text><text class="tt" x="1400.17" y="131.69" font-size="24.17" textLength="18.35" lengthAdjust="spacingAndGlyphs">=</text><text class="tt" x="1423.71" y="129.62" font-size="24.17" textLength="40.16" lengthAdjust="spacingAndGlyphs">0.99</text></g>
<g><rect x="70" y="507.4" width="414.9" height="324.4" fill="none" stroke="#262626" stroke-width="1.1"/><path d="M172.43 831.8v-4.4M172.43 507.4v4.4M275.9 831.8v-4.4M275.9 507.4v4.4M379.36 831.8v-4.4M379.36 507.4v4.4M482.83 831.8v-4.4M482.83 507.4v4.4M70 507.4h4.4M484.9 507.4h-4.4M70 582.98h2.5M484.9 582.98h-2.5M70 563.94h2.5M484.9 563.94h-2.5M70 550.43h2.5M484.9 550.43h-2.5M70 539.95h2.5M484.9 539.95h-2.5M70 531.39h2.5M484.9 531.39h-2.5M70 524.15h2.5M484.9 524.15h-2.5M70 517.88h2.5M484.9 517.88h-2.5M70 512.35h2.5M484.9 512.35h-2.5M70 615.53h4.4M484.9 615.53h-4.4M70 691.12h2.5M484.9 691.12h-2.5M70 672.07h2.5M484.9 672.07h-2.5M70 658.56h2.5M484.9 658.56h-2.5M70 648.08h2.5M484.9 648.08h-2.5M70 639.52h2.5M484.9 639.52h-2.5M70 632.28h2.5M484.9 632.28h-2.5M70 626.01h2.5M484.9 626.01h-2.5M70 620.48h2.5M484.9 620.48h-2.5M70 723.67h4.4M484.9 723.67h-4.4M70 799.25h2.5M484.9 799.25h-2.5M70 780.21h2.5M484.9 780.21h-2.5M70 766.7h2.5M484.9 766.7h-2.5M70 756.22h2.5M484.9 756.22h-2.5M70 747.66h2.5M484.9 747.66h-2.5M70 740.42h2.5M484.9 740.42h-2.5M70 734.15h2.5M484.9 734.15h-2.5M70 728.61h2.5M484.9 728.61h-2.5M70 831.8h4.4M484.9 831.8h-4.4" stroke="#262626" stroke-width="1.1" fill="none"/><path d="M70.5 507.4L70.5 511.49L70.49 515.63L70.49 519.79L70.48 523.99L70.48 528.21L70.47 532.46L70.47 536.72L70.46 541.01L70.45 545.3L70.45 549.61L70.44 553.92L70.44 558.23L70.43 562.54L70.42 566.85L70.42 571.15L70.41 575.44L70.4 579.71L70.4 583.96L70.39 588.19L70.39 592.4L70.38 596.57L70.38 600.72L70.38 604.83L70.37 608.89L70.37 612.92L70.37 616.89L70.37 620.82L70.37 624.69L70.37 628.51L70.37 632.26L70.38 635.95L70.38 639.58L70.39 643.13L70.39 646.6L70.4 650L70.41 654.81L70.41 659.56L70.4 664.23L70.39 668.83L70.37 673.36L70.36 677.8L70.35 682.15L70.34 686.42L70.34 690.59L70.35 694.66L70.37 698.62L70.39 702.48L70.44 706.22L70.5 709.85L70.58 713.36L70.68 716.75L70.8 720L71.01 724.78L71.23 729.31L71.48 733.57L71.76 737.58L72.1 741.33L72.51 744.8L73 748L74.37 753.97L76 759L76.5 760.21L77 761.47L77.5 762.74L78 763.97L78.5 765.16L79 766.3L79.5 767.38L80 768.4L80.5 769.38L81 770.3L81.5 771.17L82 772.01L82.5 772.79L83 773.54L83.5 774.25L84 774.93L84.5 775.57L85 776.18L85.5 776.77L86 777.32L86.5 777.85L87 778.36L87.5 778.84L88 779.3L88.5 779.74L89 780.16L89.5 780.57L90 780.96L90.5 781.33L91 781.68L91.5 782.02L92 782.35L92.5 782.67L93 782.97L93.5 783.26L94 783.54L94.5 783.81L95 784.07L95.5 784.32L96 784.57L98 785.45L100 786.22L102 786.88L104 787.46L106 787.97L108 788.41L110 788.79L112 789.12L114 789.41L116 789.66L118 789.87L120 790.04L122 790.19L124 790.31L126 790.4L128 790.48L130 790.53L132 790.56L134 790.57L136 790.56L138 790.54L140 790.51L142 790.46L144 790.4L146 790.33L148 790.25L150 790.16L152 790.06L154 789.95L156 789.83L158 789.71L160 789.58L162 789.44L164 789.3L166 789.15L168 789L170 788.84L172 788.68L174 788.52L176 788.35L178 788.17L180 788L182 787.82L184 787.64L186 787.45L188 787.27L190 787.08L192 786.88L194 786.69L196 786.5L198 786.3L200 786.1L202 785.9L204 785.7L206 785.5L208 785.29L210 785.09L212 784.88L214 784.67L216 784.46L218 784.25L220 784.04L222 783.83L224 783.62L226 783.41L228 783.2L230 782.99L232 782.77L234 782.56L236 782.35L238 782.13L240 781.92L242 781.7L244 781.49L246 781.28L248 781.06L250 780.85L252 780.63L254 780.42L256 780.2L258 779.99L260 779.77L262 779.56L264 779.34L266 779.13L268 778.92L270 778.7L272 778.49L274 778.27L276 778.06L278 777.85L280 777.63L282 777.42L284 777.21L286 777L288 776.79L290 776.57L292 776.36L294 776.15L296 775.94L298 775.73L300 775.52L302 775.31L304 775.1L306 774.89L308 774.68L310 774.48L312 774.27L314 774.06L316 773.85L318 773.65L320 773.44L322 773.24L324 773.03L326 772.82L328 772.62L330 772.42L332 772.21L334 772.01L336 771.81L338 771.6L340 771.4L342 771.2L344 771L346 770.8L348 770.6L350 770.4L352 770.2L354 770L356 769.8L358 769.6L360 769.4L362 769.21L364 769.01L366 768.81L368 768.62L370 768.42L372 768.23L374 768.03L376 767.84L378 767.64L380 767.45L382 767.26L384 767.06L386 766.87L388 766.68L390 766.49L392 766.3L394 766.11L396 765.92L398 765.73L400 765.54L402 765.35L404 765.16L406 764.97L408 764.78L410 764.6L412 764.41L414 764.22L416 764.04L418 763.85L420 763.67L422 763.48L424 763.3L426 763.12L428 762.93L430 762.75L432 762.57L434 762.39L436 762.2L438 762.02L440 761.84L442 761.66L444 761.48L446 761.3L448 761.12L450 760.94L452 760.77L454 760.59L456 760.41L458 760.23L460 760.06L462 759.88L464 759.7L466 759.53L468 759.35L470 759.18L472 759L474 758.83L476 758.66L478 758.48L480 758.31L482 758.14L484 757.97L484.8 757.9" fill="none" stroke="#ff0000" stroke-width="4" stroke-linejoin="round"/><path d="M70.5 507.4L70.49 511.49L70.49 515.62L70.48 519.79L70.48 523.98L70.47 528.2L70.47 532.45L70.46 536.71L70.46 540.99L70.45 545.28L70.45 549.58L70.44 553.88L70.44 558.19L70.43 562.5L70.42 566.8L70.42 571.1L70.41 575.38L70.41 579.65L70.4 583.9L70.4 588.13L70.39 592.33L70.39 596.5L70.38 600.65L70.38 604.75L70.37 608.82L70.36 612.84L70.36 616.82L70.35 620.75L70.35 624.63L70.34 628.45L70.33 632.21L70.33 635.91L70.32 639.54L70.31 643.1L70.31 646.59L70.3 650L70.28 654.87L70.25 659.69L70.21 664.45L70.16 669.15L70.11 673.77L70.05 678.31L70 682.77L69.95 687.12L69.91 691.38L69.87 695.54L69.85 699.57L69.84 703.49L69.84 707.27L69.87 710.93L69.92 714.43L70 717.8L70.1 721L70.32 726.05L70.57 730.66L70.86 734.92L71.21 738.9L71.62 742.7L72.1 746.4L72.94 751.84L73.93 756.84L75.2 761.6L75.7 762.91L76.2 764.28L76.7 765.64L77.2 766.97L77.7 768.24L78.2 769.44L78.7 770.59L79.2 771.67L79.7 772.69L80.2 773.65L80.7 774.55L81.2 775.41L81.7 776.22L82.2 776.98L82.7 777.7L83.2 778.38L83.7 779.03L84.2 779.64L84.7 780.22L85.2 780.76L85.7 781.28L86.2 781.77L86.7 782.24L87.2 782.68L87.7 783.1L88.2 783.49L88.7 783.87L89.2 784.23L89.7 784.57L90.2 784.89L90.7 785.2L91.2 785.5L91.7 785.78L92.2 786.05L92.7 786.31L93.2 786.55L93.7 786.79L94.2 787.01L94.7 787.22L95.2 787.43L97.2 788.16L99.2 788.78L101.2 789.3L103.2 789.73L105.2 790.09L107.2 790.4L109.2 790.65L111.2 790.85L113.2 791.01L115.2 791.13L117.2 791.23L119.2 791.29L121.2 791.32L123.2 791.33L125.2 791.32L127.2 791.28L129.2 791.23L131.2 791.16L133.2 791.07L135.2 790.97L137.2 790.86L139.2 790.73L141.2 790.6L143.2 790.45L145.2 790.29L147.2 790.12L149.2 789.94L151.2 789.76L153.2 789.57L155.2 789.37L157.2 789.17L159.2 788.96L161.2 788.74L163.2 788.52L165.2 788.29L167.2 788.06L169.2 787.83L171.2 787.59L173.2 787.34L175.2 787.1L177.2 786.85L179.2 786.59L181.2 786.34L183.2 786.08L185.2 785.82L187.2 785.56L189.2 785.3L191.2 785.03L193.2 784.76L195.2 784.49L197.2 784.23L199.2 783.95L201.2 783.68L203.2 783.41L205.2 783.14L207.2 782.86L209.2 782.59L211.2 782.32L213.2 782.04L215.2 781.77L217.2 781.49L219.2 781.22L221.2 780.94L223.2 780.67L225.2 780.39L227.2 780.12L229.2 779.84L231.2 779.57L233.2 779.29L235.2 779.02L237.2 778.74L239.2 778.47L241.2 778.2L243.2 777.93L245.2 777.65L247.2 777.38L249.2 777.11L251.2 776.84L253.2 776.57L255.2 776.3L257.2 776.03L259.2 775.76L261.2 775.5L263.2 775.23L265.2 774.96L267.2 774.7L269.2 774.43L271.2 774.17L273.2 773.9L275.2 773.64L277.2 773.38L279.2 773.12L281.2 772.85L283.2 772.59L285.2 772.33L287.2 772.07L289.2 771.82L291.2 771.56L293.2 771.3L295.2 771.05L297.2 770.79L299.2 770.54L301.2 770.28L303.2 770.03L305.2 769.78L307.2 769.53L309.2 769.28L311.2 769.03L313.2 768.78L315.2 768.53L317.2 768.28L319.2 768.03L321.2 767.79L323.2 767.54L325.2 767.3L327.2 767.05L329.2 766.81L331.2 766.57L333.2 766.32L335.2 766.08L337.2 765.84L339.2 765.6L341.2 765.37L343.2 765.13L345.2 764.89L347.2 764.65L349.2 764.42L351.2 764.18L353.2 763.95L355.2 763.71L357.2 763.48L359.2 763.25L361.2 763.02L363.2 762.79L365.2 762.56L367.2 762.33L369.2 762.1L371.2 761.87L373.2 761.64L375.2 761.42L377.2 761.19L379.2 760.97L381.2 760.74L383.2 760.52L385.2 760.3L387.2 760.07L389.2 759.85L391.2 759.63L393.2 759.41L395.2 759.19L397.2 758.97L399.2 758.75L401.2 758.54L403.2 758.32L405.2 758.1L407.2 757.89L409.2 757.67L411.2 757.46L413.2 757.25L415.2 757.03L417.2 756.82L419.2 756.61L421.2 756.4L423.2 756.19L425.2 755.98L427.2 755.77L429.2 755.56L431.2 755.35L433.2 755.14L435.2 754.94L437.2 754.73L439.2 754.53L441.2 754.32L443.2 754.12L445.2 753.91L447.2 753.71L449.2 753.51L451.2 753.31L453.2 753.1L455.2 752.9L457.2 752.7L459.2 752.5L461.2 752.3L463.2 752.11L465.2 751.91L467.2 751.71L469.2 751.51L471.2 751.32L473.2 751.12L475.2 750.93L477.2 750.73L479.2 750.54L481.2 750.34L483.2 750.15L484.8 750" fill="none" stroke="#0000ff" stroke-width="4" stroke-linejoin="round"/><path d="M70.5 507.4L70.51 511.44L70.53 515.52L70.54 519.63L70.55 523.75L70.56 527.9L70.58 532.06L70.59 536.23L70.6 540.4L70.61 544.57L70.63 548.73L70.64 552.88L70.65 557.02L70.66 561.13L70.68 565.22L70.69 569.27L70.7 573.29L70.72 577.27L70.73 581.2L70.74 585.08L70.76 588.91L70.77 592.67L70.79 596.37L70.8 600L70.82 604.4L70.83 608.74L70.85 613.02L70.87 617.23L70.88 621.39L70.9 625.49L70.92 629.53L70.93 633.52L70.95 637.46L70.97 641.34L70.99 645.17L71.02 648.95L71.04 652.68L71.07 656.36L71.1 660L71.13 664.42L71.15 668.74L71.17 672.98L71.18 677.13L71.21 681.22L71.24 685.23L71.29 689.18L71.36 693.07L71.47 696.91L71.6 700.7L71.81 705.35L72.05 709.96L72.32 714.49L72.62 718.91L72.96 723.17L73.31 727.25L73.7 731.1L74.22 735.83L74.76 740.22L75.4 744.37L76.2 748.4L76.7 750.56L77.2 752.53L77.7 754.32L78.2 755.97L78.7 757.48L79.2 758.88L79.7 760.18L80.2 761.39L80.7 762.53L81.2 763.59L81.7 764.59L82.2 765.53L82.7 766.41L83.2 767.25L83.7 768.05L84.2 768.81L84.7 769.53L85.2 770.21L85.7 770.87L86.2 771.49L86.7 772.09L87.2 772.66L87.7 773.21L88.2 773.73L88.7 774.24L89.2 774.72L89.7 775.19L90.2 775.64L90.7 776.07L91.2 776.48L91.7 776.89L92.2 777.27L92.7 777.65L93.2 778.01L93.7 778.36L94.2 778.7L94.7 779.03L95.2 779.35L95.7 779.65L96.2 779.95L98.2 781.05L100.2 782.03L102.2 782.91L104.2 783.69L106.2 784.4L108.2 785.03L110.2 785.61L112.2 786.13L114.2 786.6L116.2 787.03L118.2 787.42L120.2 787.77L122.2 788.09L124.2 788.39L126.2 788.65L128.2 788.89L130.2 789.11L132.2 789.31L134.2 789.49L136.2 789.65L138.2 789.8L140.2 789.93L142.2 790.04L144.2 790.15L146.2 790.24L148.2 790.31L150.2 790.38L152.2 790.44L154.2 790.49L156.2 790.53L158.2 790.56L160.2 790.58L162.2 790.6L164.2 790.61L166.2 790.61L168.2 790.6L170.2 790.59L172.2 790.58L174.2 790.56L176.2 790.53L178.2 790.5L180.2 790.46L182.2 790.42L184.2 790.38L186.2 790.33L188.2 790.28L190.2 790.23L192.2 790.17L194.2 790.11L196.2 790.04L198.2 789.97L200.2 789.9L202.2 789.83L204.2 789.75L206.2 789.68L208.2 789.6L210.2 789.51L212.2 789.43L214.2 789.34L216.2 789.25L218.2 789.16L220.2 789.07L222.2 788.97L224.2 788.88L226.2 788.78L228.2 788.68L230.2 788.58L232.2 788.48L234.2 788.38L236.2 788.27L238.2 788.17L240.2 788.06L242.2 787.95L244.2 787.84L246.2 787.73L248.2 787.62L250.2 787.51L252.2 787.39L254.2 787.28L256.2 787.17L258.2 787.05L260.2 786.93L262.2 786.82L264.2 786.7L266.2 786.58L268.2 786.46L270.2 786.34L272.2 786.22L274.2 786.1L276.2 785.98L278.2 785.85L280.2 785.73L282.2 785.61L284.2 785.48L286.2 785.36L288.2 785.24L290.2 785.11L292.2 784.98L294.2 784.86L296.2 784.73L298.2 784.61L300.2 784.48L302.2 784.35L304.2 784.22L306.2 784.1L308.2 783.97L310.2 783.84L312.2 783.71L314.2 783.58L316.2 783.45L318.2 783.32L320.2 783.19L322.2 783.06L324.2 782.93L326.2 782.8L328.2 782.67L330.2 782.54L332.2 782.41L334.2 782.28L336.2 782.15L338.2 782.02L340.2 781.89L342.2 781.76L344.2 781.63L346.2 781.49L348.2 781.36L350.2 781.23L352.2 781.1L354.2 780.97L356.2 780.83L358.2 780.7L360.2 780.57L362.2 780.44L364.2 780.31L366.2 780.17L368.2 780.04L370.2 779.91L372.2 779.78L374.2 779.65L376.2 779.51L378.2 779.38L380.2 779.25L382.2 779.12L384.2 778.98L386.2 778.85L388.2 778.72L390.2 778.59L392.2 778.46L394.2 778.32L396.2 778.19L398.2 778.06L400.2 777.93L402.2 777.79L404.2 777.66L406.2 777.53L408.2 777.4L410.2 777.27L412.2 777.13L414.2 777L416.2 776.87L418.2 776.74L420.2 776.61L422.2 776.48L424.2 776.34L426.2 776.21L428.2 776.08L430.2 775.95L432.2 775.82L434.2 775.69L436.2 775.56L438.2 775.43L440.2 775.3L442.2 775.16L444.2 775.03L446.2 774.9L448.2 774.77L450.2 774.64L452.2 774.51L454.2 774.38L456.2 774.25L458.2 774.12L460.2 773.99L462.2 773.86L464.2 773.73L466.2 773.6L468.2 773.47L470.2 773.34L472.2 773.21L474.2 773.08L476.2 772.95L478.2 772.82L480.2 772.7L482.2 772.57L484.2 772.44L484.8 772.4" fill="none" stroke="#00ff00" stroke-width="4" stroke-linejoin="round"/><text class="tk" x="172.43" y="865.1" font-size="25.5" text-anchor="middle">10</text><text class="tk" x="275.9" y="865.1" font-size="25.5" text-anchor="middle">20</text><text class="tk" x="379.36" y="865.1" font-size="25.5" text-anchor="middle">30</text><text class="tk" x="482.83" y="865.1" font-size="25.5" text-anchor="middle">40</text><text class="tk" x="59.9" y="520.5" font-size="25.5" text-anchor="end">10<tspan font-size="20.4" dy="-10.9">0</tspan></text><text class="tk" x="59.9" y="628.63" font-size="25.5" text-anchor="end">10<tspan font-size="20.4" dy="-10.9">-1</tspan></text><text class="tk" x="59.9" y="736.77" font-size="25.5" text-anchor="end">10<tspan font-size="20.4" dy="-10.9">-2</tspan></text><text class="tk" x="59.9" y="844.9" font-size="25.5" text-anchor="end">10<tspan font-size="20.4" dy="-10.9">-3</tspan></text><text class="tk tx" x="424.27" y="904.9" font-size="23.4" textLength="19.55" lengthAdjust="spacingAndGlyphs">×</text><text class="tk" x="484.6" y="903.7" font-size="25.5" text-anchor="end">10<tspan font-size="21" dy="-11">1</tspan></text><text class="tt" x="101.32" y="494.1" font-size="26.56" textLength="87.57" lengthAdjust="spacingAndGlyphs">relative</text><text class="tt" x="197.52" y="494.1" font-size="26.56" textLength="58.35" lengthAdjust="spacingAndGlyphs">noise</text><text class="tt" x="264.56" y="494.1" font-size="26.56" textLength="52.76" lengthAdjust="spacingAndGlyphs">level</text><text class="tt it" x="326.12" y="494.72" font-size="27.29" textLength="11.81" lengthAdjust="spacingAndGlyphs">δ</text><text class="tt it" x="337.19" y="498.63" font-size="19.36" textLength="24.52" lengthAdjust="spacingAndGlyphs">rel</text><text class="tt" x="370.53" y="496.37" font-size="26.56" textLength="21.01" lengthAdjust="spacingAndGlyphs">=</text><text class="tt" x="398.64" y="494.1" font-size="26.56" textLength="27.46" lengthAdjust="spacingAndGlyphs">10</text><text class="tt" x="426.57" y="486.38" font-size="19.67" textLength="13.72" lengthAdjust="spacingAndGlyphs">−</text><text class="tt" x="440.4" y="484.83" font-size="19.67" textLength="10" lengthAdjust="spacingAndGlyphs">1</text><rect x="231.4" y="518.4" width="241.1" height="89.8" fill="#fff" stroke="#262626" stroke-width="1.1"/><path d="M238.51 535.82H295.72" stroke="#ff0000" stroke-width="3.81"/><text class="tt it" x="300.92" y="541.7" font-size="24.12" textLength="13.58" lengthAdjust="spacingAndGlyphs">α</text><text class="tt" x="321" y="543.76" font-size="24.12" textLength="18.31" lengthAdjust="spacingAndGlyphs">=</text><text class="tt" x="344.47" y="541.7" font-size="24.12" textLength="35.01" lengthAdjust="spacingAndGlyphs">0.5,</text><text class="tt it" x="383.23" y="541.7" font-size="24.12" textLength="12.84" lengthAdjust="spacingAndGlyphs">β</text><text class="tt" x="402.02" y="543.76" font-size="24.12" textLength="18.31" lengthAdjust="spacingAndGlyphs">=</text><text class="tt" x="425.51" y="541.7" font-size="24.12" textLength="40.07" lengthAdjust="spacingAndGlyphs">0.99</text><path d="M238.51 563.75H295.72" stroke="#0000ff" stroke-width="3.81"/><text class="tt it" x="300.92" y="569.63" font-size="24.12" textLength="13.58" lengthAdjust="spacingAndGlyphs">α</text><text class="tt" x="321" y="571.69" font-size="24.12" textLength="18.31" lengthAdjust="spacingAndGlyphs">=</text><text class="tt" x="344.47" y="569.63" font-size="24.12" textLength="35.01" lengthAdjust="spacingAndGlyphs">1.0,</text><text class="tt it" x="383.23" y="569.63" font-size="24.12" textLength="12.84" lengthAdjust="spacingAndGlyphs">β</text><text class="tt" x="402.02" y="571.69" font-size="24.12" textLength="18.31" lengthAdjust="spacingAndGlyphs">=</text><text class="tt" x="425.51" y="569.63" font-size="24.12" textLength="40.07" lengthAdjust="spacingAndGlyphs">0.99</text><path d="M238.51 591.48H295.72" stroke="#00ff00" stroke-width="3.81"/><text class="tt it" x="300.92" y="597.36" font-size="24.12" textLength="13.58" lengthAdjust="spacingAndGlyphs">α</text><text class="tt" x="321" y="599.42" font-size="24.12" textLength="18.31" lengthAdjust="spacingAndGlyphs">=</text><text class="tt" x="344.47" y="597.36" font-size="24.12" textLength="35.01" lengthAdjust="spacingAndGlyphs">1.9,</text><text class="tt it" x="383.23" y="597.36" font-size="24.12" textLength="12.84" lengthAdjust="spacingAndGlyphs">β</text><text class="tt" x="402.02" y="599.42" font-size="24.12" textLength="18.31" lengthAdjust="spacingAndGlyphs">=</text><text class="tt" x="425.51" y="597.36" font-size="24.12" textLength="40.07" lengthAdjust="spacingAndGlyphs">0.99</text></g>
<g><rect x="577" y="507.4" width="414.9" height="324.4" fill="none" stroke="#262626" stroke-width="1.1"/><path d="M646.03 831.8v-4.4M646.03 507.4v4.4M715.21 831.8v-4.4M715.21 507.4v4.4M784.38 831.8v-4.4M784.38 507.4v4.4M853.55 831.8v-4.4M853.55 507.4v4.4M922.73 831.8v-4.4M922.73 507.4v4.4M991.9 831.8v-4.4M991.9 507.4v4.4M577 507.4h4.4M991.9 507.4h-4.4M577 564.09h2.5M991.9 564.09h-2.5M577 549.81h2.5M991.9 549.81h-2.5M577 539.67h2.5M991.9 539.67h-2.5M577 531.81h2.5M991.9 531.81h-2.5M577 525.39h2.5M991.9 525.39h-2.5M577 519.96h2.5M991.9 519.96h-2.5M577 515.26h2.5M991.9 515.26h-2.5M577 511.11h2.5M991.9 511.11h-2.5M577 588.5h4.4M991.9 588.5h-4.4M577 645.19h2.5M991.9 645.19h-2.5M577 630.91h2.5M991.9 630.91h-2.5M577 620.77h2.5M991.9 620.77h-2.5M577 612.91h2.5M991.9 612.91h-2.5M577 606.49h2.5M991.9 606.49h-2.5M577 601.06h2.5M991.9 601.06h-2.5M577 596.36h2.5M991.9 596.36h-2.5M577 592.21h2.5M991.9 592.21h-2.5M577 669.6h4.4M991.9 669.6h-4.4M577 726.29h2.5M991.9 726.29h-2.5M577 712.01h2.5M991.9 712.01h-2.5M577 701.87h2.5M991.9 701.87h-2.5M577 694.01h2.5M991.9 694.01h-2.5M577 687.59h2.5M991.9 687.59h-2.5M577 682.16h2.5M991.9 682.16h-2.5M577 677.46h2.5M991.9 677.46h-2.5M577 673.31h2.5M991.9 673.31h-2.5M577 750.7h4.4M991.9 750.7h-4.4M577 807.39h2.5M991.9 807.39h-2.5M577 793.11h2.5M991.9 793.11h-2.5M577 782.97h2.5M991.9 782.97h-2.5M577 775.11h2.5M991.9 775.11h-2.5M577 768.69h2.5M991.9 768.69h-2.5M577 763.26h2.5M991.9 763.26h-2.5M577 758.56h2.5M991.9 758.56h-2.5M577 754.41h2.5M991.9 754.41h-2.5M577 831.8h4.4M991.9 831.8h-4.4" stroke="#262626" stroke-width="1.1" fill="none"/><path d="M577.1 507.4L577.1 511.5L577.1 515.66L577.1 519.87L577.1 524.12L577.09 528.41L577.09 532.74L577.09 537.09L577.08 541.47L577.08 545.86L577.08 550.27L577.07 554.69L577.07 559.11L577.06 563.53L577.06 567.95L577.06 572.35L577.05 576.73L577.05 581.1L577.05 585.43L577.04 589.73L577.04 594L577.04 598.22L577.04 602.4L577.04 606.52L577.04 610.58L577.04 614.58L577.04 618.52L577.04 622.37L577.05 626.16L577.05 629.85L577.06 633.46L577.06 636.98L577.07 640.39L577.08 643.71L577.09 646.91L577.1 650L577.11 655.14L577.11 660.11L577.09 664.89L577.08 669.49L577.06 673.92L577.05 678.17L577.06 682.24L577.09 686.14L577.14 689.86L577.22 693.41L577.34 696.79L577.5 700L577.83 705.27L578.22 709.92L578.74 714.11L579.5 718L581.15 723.21L583.2 728L583.7 729.36L584.2 730.62L584.7 731.8L585.2 732.9L585.7 733.93L586.2 734.89L586.7 735.79L587.2 736.64L587.7 737.45L588.2 738.21L588.7 738.93L589.2 739.61L589.7 740.27L590.2 740.89L590.7 741.49L591.2 742.06L591.7 742.6L592.2 743.12L592.7 743.63L593.2 744.11L593.7 744.58L594.2 745.03L594.7 745.46L595.2 745.88L595.7 746.28L596.2 746.67L596.7 747.05L597.2 747.42L597.7 747.77L598.2 748.12L598.7 748.45L599.2 748.78L599.7 749.1L600.2 749.4L600.7 749.7L601.2 749.99L601.7 750.28L602.2 750.55L602.7 750.82L603.2 751.08L605.2 752.07L607.2 752.97L609.2 753.79L611.2 754.55L613.2 755.24L615.2 755.89L617.2 756.49L619.2 757.05L621.2 757.57L623.2 758.06L625.2 758.52L627.2 758.95L629.2 759.36L631.2 759.74L633.2 760.1L635.2 760.45L637.2 760.77L639.2 761.08L641.2 761.37L643.2 761.64L645.2 761.91L647.2 762.16L649.2 762.39L651.2 762.62L653.2 762.84L655.2 763.04L657.2 763.24L659.2 763.43L661.2 763.61L663.2 763.78L665.2 763.94L667.2 764.1L669.2 764.25L671.2 764.39L673.2 764.53L675.2 764.66L677.2 764.79L679.2 764.91L681.2 765.02L683.2 765.13L685.2 765.24L687.2 765.34L689.2 765.44L691.2 765.53L693.2 765.62L695.2 765.7L697.2 765.79L699.2 765.86L701.2 765.94L703.2 766.01L705.2 766.08L707.2 766.15L709.2 766.21L711.2 766.27L713.2 766.33L715.2 766.38L717.2 766.43L719.2 766.48L721.2 766.53L723.2 766.57L725.2 766.62L727.2 766.66L729.2 766.7L731.2 766.73L733.2 766.77L735.2 766.8L737.2 766.83L739.2 766.86L741.2 766.89L743.2 766.91L745.2 766.93L747.2 766.96L749.2 766.98L751.2 767L753.2 767.01L755.2 767.03L757.2 767.05L759.2 767.06L761.2 767.07L763.2 767.08L765.2 767.09L767.2 767.1L769.2 767.11L771.2 767.12L773.2 767.12L775.2 767.12L777.2 767.13L779.2 767.13L781.2 767.13L783.2 767.13L785.2 767.13L787.2 767.13L789.2 767.12L791.2 767.12L793.2 767.12L795.2 767.11L797.2 767.1L799.2 767.1L801.2 767.09L803.2 767.08L805.2 767.07L807.2 767.06L809.2 767.05L811.2 767.04L813.2 767.03L815.2 767.01L817.2 767L819.2 766.99L821.2 766.97L823.2 766.95L825.2 766.94L827.2 766.92L829.2 766.9L831.2 766.89L833.2 766.87L835.2 766.85L837.2 766.83L839.2 766.81L841.2 766.79L843.2 766.77L845.2 766.75L847.2 766.72L849.2 766.7L851.2 766.68L853.2 766.66L855.2 766.63L857.2 766.61L859.2 766.58L861.2 766.56L863.2 766.53L865.2 766.51L867.2 766.48L869.2 766.45L871.2 766.43L873.2 766.4L875.2 766.37L877.2 766.34L879.2 766.32L881.2 766.29L883.2 766.26L885.2 766.23L887.2 766.2L889.2 766.17L891.2 766.14L893.2 766.11L895.2 766.08L897.2 766.05L899.2 766.01L901.2 765.98L903.2 765.95L905.2 765.92L907.2 765.89L909.2 765.85L911.2 765.82L913.2 765.79L915.2 765.75L917.2 765.72L919.2 765.68L921.2 765.65L923.2 765.62L925.2 765.58L927.2 765.55L929.2 765.51L931.2 765.48L933.2 765.44L935.2 765.4L937.2 765.37L939.2 765.33L941.2 765.29L943.2 765.26L945.2 765.22L947.2 765.18L949.2 765.15L951.2 765.11L953.2 765.07L955.2 765.03L957.2 765L959.2 764.96L961.2 764.92L963.2 764.88L965.2 764.84L967.2 764.81L969.2 764.77L971.2 764.73L973.2 764.69L975.2 764.65L977.2 764.61L979.2 764.57L981.2 764.53L983.2 764.49L985.2 764.45L987.2 764.41L989.2 764.37L991.2 764.33L991.9 764.32" fill="none" stroke="#ff0000" stroke-width="4" stroke-linejoin="round"/><path d="M577.1 507.4L577.09 511.49L577.08 515.62L577.08 519.79L577.07 523.98L577.06 528.2L577.06 532.45L577.05 536.71L577.04 540.99L577.04 545.28L577.03 549.58L577.03 553.88L577.02 558.19L577.02 562.5L577.01 566.8L577.01 571.1L577 575.38L576.99 579.65L576.99 583.9L576.98 588.13L576.97 592.33L576.97 596.5L576.96 600.65L576.95 604.75L576.94 608.82L576.93 612.85L576.92 616.82L576.91 620.75L576.9 624.63L576.89 628.45L576.88 632.21L576.86 635.91L576.85 639.54L576.83 643.1L576.82 646.59L576.8 650L576.76 654.9L576.69 659.79L576.61 664.65L576.51 669.48L576.39 674.25L576.28 678.94L576.16 683.54L576.05 688.04L575.96 692.41L575.87 696.65L575.81 700.72L575.78 704.63L575.78 708.35L575.82 711.86L575.89 715.15L576.02 718.2L576.2 721L576.82 727.22L577.65 732.16L578.8 736.7L579.3 738.43L579.8 739.95L580.3 741.32L580.8 742.56L581.3 743.68L581.8 744.71L582.3 745.66L582.8 746.54L583.3 747.35L583.8 748.11L584.3 748.83L584.8 749.5L585.3 750.13L585.8 750.72L586.3 751.28L586.8 751.82L587.3 752.32L587.8 752.8L588.3 753.26L588.8 753.7L589.3 754.12L589.8 754.52L590.3 754.9L590.8 755.27L591.3 755.62L591.8 755.96L592.3 756.29L592.8 756.6L593.3 756.9L593.8 757.2L594.3 757.48L594.8 757.75L595.3 758.01L595.8 758.27L596.3 758.51L596.8 758.75L597.3 758.98L597.8 759.2L598.3 759.42L598.8 759.63L600.8 760.41L602.8 761.1L604.8 761.73L606.8 762.29L608.8 762.8L610.8 763.26L612.8 763.68L614.8 764.07L616.8 764.42L618.8 764.75L620.8 765.04L622.8 765.32L624.8 765.57L626.8 765.8L628.8 766.02L630.8 766.22L632.8 766.4L634.8 766.57L636.8 766.73L638.8 766.87L640.8 767.01L642.8 767.13L644.8 767.24L646.8 767.35L648.8 767.45L650.8 767.54L652.8 767.62L654.8 767.69L656.8 767.76L658.8 767.83L660.8 767.88L662.8 767.93L664.8 767.98L666.8 768.02L668.8 768.06L670.8 768.09L672.8 768.12L674.8 768.15L676.8 768.17L678.8 768.19L680.8 768.2L682.8 768.22L684.8 768.22L686.8 768.23L688.8 768.23L690.8 768.23L692.8 768.23L694.8 768.23L696.8 768.22L698.8 768.21L700.8 768.2L702.8 768.19L704.8 768.18L706.8 768.16L708.8 768.14L710.8 768.12L712.8 768.1L714.8 768.08L716.8 768.05L718.8 768.03L720.8 768L722.8 767.97L724.8 767.94L726.8 767.91L728.8 767.88L730.8 767.85L732.8 767.82L734.8 767.78L736.8 767.75L738.8 767.71L740.8 767.67L742.8 767.63L744.8 767.6L746.8 767.56L748.8 767.52L750.8 767.47L752.8 767.43L754.8 767.39L756.8 767.35L758.8 767.3L760.8 767.26L762.8 767.21L764.8 767.17L766.8 767.12L768.8 767.08L770.8 767.03L772.8 766.98L774.8 766.93L776.8 766.88L778.8 766.84L780.8 766.79L782.8 766.74L784.8 766.69L786.8 766.64L788.8 766.59L790.8 766.53L792.8 766.48L794.8 766.43L796.8 766.38L798.8 766.33L800.8 766.27L802.8 766.22L804.8 766.17L806.8 766.11L808.8 766.06L810.8 766.01L812.8 765.95L814.8 765.9L816.8 765.84L818.8 765.79L820.8 765.73L822.8 765.68L824.8 765.62L826.8 765.57L828.8 765.51L830.8 765.46L832.8 765.4L834.8 765.35L836.8 765.29L838.8 765.23L840.8 765.18L842.8 765.12L844.8 765.06L846.8 765.01L848.8 764.95L850.8 764.89L852.8 764.84L854.8 764.78L856.8 764.72L858.8 764.66L860.8 764.61L862.8 764.55L864.8 764.49L866.8 764.43L868.8 764.38L870.8 764.32L872.8 764.26L874.8 764.2L876.8 764.14L878.8 764.09L880.8 764.03L882.8 763.97L884.8 763.91L886.8 763.85L888.8 763.79L890.8 763.74L892.8 763.68L894.8 763.62L896.8 763.56L898.8 763.5L900.8 763.44L902.8 763.39L904.8 763.33L906.8 763.27L908.8 763.21L910.8 763.15L912.8 763.09L914.8 763.04L916.8 762.98L918.8 762.92L920.8 762.86L922.8 762.8L924.8 762.74L926.8 762.68L928.8 762.63L930.8 762.57L932.8 762.51L934.8 762.45L936.8 762.39L938.8 762.33L940.8 762.27L942.8 762.22L944.8 762.16L946.8 762.1L948.8 762.04L950.8 761.98L952.8 761.92L954.8 761.87L956.8 761.81L958.8 761.75L960.8 761.69L962.8 761.63L964.8 761.57L966.8 761.52L968.8 761.46L970.8 761.4L972.8 761.34L974.8 761.28L976.8 761.23L978.8 761.17L980.8 761.11L982.8 761.05L984.8 760.99L986.8 760.94L988.8 760.88L990.8 760.82L991.9 760.79" fill="none" stroke="#0000ff" stroke-width="4" stroke-linejoin="round"/><path d="M577.1 507.4L577.1 511.44L577.1 515.52L577.1 519.63L577.1 523.75L577.1 527.9L577.1 532.06L577.1 536.23L577.1 540.4L577.1 544.57L577.1 548.73L577.1 552.88L577.1 557.02L577.1 561.13L577.1 565.22L577.1 569.27L577.1 573.29L577.1 577.27L577.1 581.2L577.1 585.08L577.1 588.91L577.1 592.67L577.1 596.37L577.1 600L577.1 604.41L577.1 608.77L577.09 613.09L577.08 617.35L577.08 621.56L577.07 625.71L577.07 629.8L577.06 633.83L577.06 637.79L577.06 641.68L577.06 645.5L577.06 649.24L577.07 652.91L577.08 656.5L577.1 660L577.12 664.87L577.13 669.58L577.13 674.14L577.15 678.56L577.18 682.83L577.24 686.98L577.35 691L577.5 694.9L577.74 699.66L578.02 704.22L578.35 708.57L578.77 712.7L579.3 716.6L580.13 721.29L581.11 725.59L582.3 729.7L582.8 731.4L583.3 732.92L583.8 734.3L584.3 735.55L584.8 736.7L585.3 737.77L585.8 738.76L586.3 739.68L586.8 740.54L587.3 741.35L587.8 742.11L588.3 742.83L588.8 743.51L589.3 744.15L589.8 744.76L590.3 745.35L590.8 745.91L591.3 746.44L591.8 746.95L592.3 747.44L592.8 747.91L593.3 748.36L593.8 748.8L594.3 749.22L594.8 749.62L595.3 750.01L595.8 750.38L596.3 750.75L596.8 751.1L597.3 751.44L597.8 751.77L598.3 752.09L598.8 752.4L599.3 752.7L599.8 752.99L600.3 753.28L600.8 753.55L601.3 753.82L601.8 754.09L602.3 754.34L604.3 755.3L606.3 756.17L608.3 756.96L610.3 757.68L612.3 758.35L614.3 758.97L616.3 759.54L618.3 760.07L620.3 760.56L622.3 761.02L624.3 761.46L626.3 761.86L628.3 762.24L630.3 762.6L632.3 762.94L634.3 763.26L636.3 763.57L638.3 763.85L640.3 764.12L642.3 764.38L644.3 764.63L646.3 764.86L648.3 765.08L650.3 765.29L652.3 765.49L654.3 765.68L656.3 765.86L658.3 766.04L660.3 766.2L662.3 766.36L664.3 766.51L666.3 766.66L668.3 766.8L670.3 766.93L672.3 767.05L674.3 767.18L676.3 767.29L678.3 767.4L680.3 767.51L682.3 767.61L684.3 767.71L686.3 767.8L688.3 767.89L690.3 767.98L692.3 768.06L694.3 768.14L696.3 768.21L698.3 768.28L700.3 768.35L702.3 768.42L704.3 768.48L706.3 768.54L708.3 768.6L710.3 768.66L712.3 768.71L714.3 768.76L716.3 768.81L718.3 768.85L720.3 768.9L722.3 768.94L724.3 768.98L726.3 769.02L728.3 769.05L730.3 769.09L732.3 769.12L734.3 769.15L736.3 769.18L738.3 769.21L740.3 769.24L742.3 769.26L744.3 769.28L746.3 769.31L748.3 769.33L750.3 769.35L752.3 769.36L754.3 769.38L756.3 769.4L758.3 769.41L760.3 769.42L762.3 769.44L764.3 769.45L766.3 769.46L768.3 769.47L770.3 769.48L772.3 769.48L774.3 769.49L776.3 769.49L778.3 769.5L780.3 769.5L782.3 769.51L784.3 769.51L786.3 769.51L788.3 769.51L790.3 769.51L792.3 769.51L794.3 769.51L796.3 769.5L798.3 769.5L800.3 769.5L802.3 769.49L804.3 769.49L806.3 769.48L808.3 769.48L810.3 769.47L812.3 769.46L814.3 769.45L816.3 769.45L818.3 769.44L820.3 769.43L822.3 769.42L824.3 769.41L826.3 769.4L828.3 769.39L830.3 769.37L832.3 769.36L834.3 769.35L836.3 769.33L838.3 769.32L840.3 769.31L842.3 769.29L844.3 769.28L846.3 769.26L848.3 769.25L850.3 769.23L852.3 769.21L854.3 769.2L856.3 769.18L858.3 769.16L860.3 769.15L862.3 769.13L864.3 769.11L866.3 769.09L868.3 769.07L870.3 769.05L872.3 769.03L874.3 769.01L876.3 768.99L878.3 768.97L880.3 768.95L882.3 768.93L884.3 768.91L886.3 768.89L888.3 768.87L890.3 768.84L892.3 768.82L894.3 768.8L896.3 768.78L898.3 768.75L900.3 768.73L902.3 768.71L904.3 768.68L906.3 768.66L908.3 768.64L910.3 768.61L912.3 768.59L914.3 768.56L916.3 768.54L918.3 768.51L920.3 768.49L922.3 768.46L924.3 768.44L926.3 768.41L928.3 768.39L930.3 768.36L932.3 768.33L934.3 768.31L936.3 768.28L938.3 768.25L940.3 768.23L942.3 768.2L944.3 768.17L946.3 768.15L948.3 768.12L950.3 768.09L952.3 768.06L954.3 768.04L956.3 768.01L958.3 767.98L960.3 767.95L962.3 767.92L964.3 767.9L966.3 767.87L968.3 767.84L970.3 767.81L972.3 767.78L974.3 767.75L976.3 767.72L978.3 767.69L980.3 767.66L982.3 767.63L984.3 767.61L986.3 767.58L988.3 767.55L990.3 767.52L991.9 767.49" fill="none" stroke="#00ff00" stroke-width="4" stroke-linejoin="round"/><text class="tk" x="646.03" y="865.1" font-size="25.5" text-anchor="middle">5</text><text class="tk" x="715.21" y="865.1" font-size="25.5" text-anchor="middle">10</text><text class="tk" x="784.38" y="865.1" font-size="25.5" text-anchor="middle">15</text><text class="tk" x="853.55" y="865.1" font-size="25.5" text-anchor="middle">20</text><text class="tk" x="922.73" y="865.1" font-size="25.5" text-anchor="middle">25</text><text class="tk" x="991.9" y="865.1" font-size="25.5" text-anchor="middle">30</text><text class="tk" x="566.9" y="520.5" font-size="25.5" text-anchor="end">10<tspan font-size="20.4" dy="-10.9">0</tspan></text><text class="tk" x="566.9" y="601.6" font-size="25.5" text-anchor="end">10<tspan font-size="20.4" dy="-10.9">-1</tspan></text><text class="tk" x="566.9" y="682.7" font-size="25.5" text-anchor="end">10<tspan font-size="20.4" dy="-10.9">-2</tspan></text><text class="tk" x="566.9" y="763.8" font-size="25.5" text-anchor="end">10<tspan font-size="20.4" dy="-10.9">-3</tspan></text><text class="tk" x="566.9" y="844.9" font-size="25.5" text-anchor="end">10<tspan font-size="20.4" dy="-10.9">-4</tspan></text><text class="tk tx" x="931.27" y="904.9" font-size="23.4" textLength="19.55" lengthAdjust="spacingAndGlyphs">×</text><text class="tk" x="991.6" y="903.7" font-size="25.5" text-anchor="end">10<tspan font-size="21" dy="-11">2</tspan></text><text class="tt" x="609.21" y="494.1" font-size="26.62" textLength="87.75" lengthAdjust="spacingAndGlyphs">relative</text><text class="tt" x="705.61" y="494.1" font-size="26.62" textLength="58.47" lengthAdjust="spacingAndGlyphs">noise</text><text class="tt" x="772.78" y="494.1" font-size="26.62" textLength="52.87" lengthAdjust="spacingAndGlyphs">level</text><text class="tt it" x="834.47" y="494.72" font-size="27.34" textLength="11.83" lengthAdjust="spacingAndGlyphs">δ</text><text class="tt it" x="845.56" y="498.64" font-size="19.4" textLength="24.57" lengthAdjust="spacingAndGlyphs">rel</text><text class="tt" x="878.97" y="496.37" font-size="26.62" textLength="21.05" lengthAdjust="spacingAndGlyphs">=</text><text class="tt" x="907.14" y="494.1" font-size="26.62" textLength="27.51" lengthAdjust="spacingAndGlyphs">10</text><text class="tt" x="935.12" y="486.36" font-size="19.71" textLength="13.74" lengthAdjust="spacingAndGlyphs">−</text><text class="tt" x="950.08" y="484.81" font-size="19.71" textLength="8.77" lengthAdjust="spacingAndGlyphs">2</text><rect x="737.6" y="518.4" width="242.4" height="89.8" fill="#fff" stroke="#262626" stroke-width="1.1"/><path d="M744.75 535.91H802.27" stroke="#ff0000" stroke-width="3.83"/><text class="tt it" x="807.5" y="541.82" font-size="24.25" textLength="13.66" lengthAdjust="spacingAndGlyphs">α</text><text class="tt" x="827.68" y="543.89" font-size="24.25" textLength="18.41" lengthAdjust="spacingAndGlyphs">=</text><text class="tt" x="851.28" y="541.82" font-size="24.25" textLength="35.2" lengthAdjust="spacingAndGlyphs">0.5,</text><text class="tt it" x="890.25" y="541.82" font-size="24.25" textLength="12.91" lengthAdjust="spacingAndGlyphs">β</text><text class="tt" x="909.14" y="543.89" font-size="24.25" textLength="18.41" lengthAdjust="spacingAndGlyphs">=</text><text class="tt" x="932.75" y="541.82" font-size="24.25" textLength="40.29" lengthAdjust="spacingAndGlyphs">0.99</text><path d="M744.75 564H802.27" stroke="#0000ff" stroke-width="3.83"/><text class="tt it" x="807.5" y="569.91" font-size="24.25" textLength="13.66" lengthAdjust="spacingAndGlyphs">α</text><text class="tt" x="827.68" y="571.98" font-size="24.25" textLength="18.41" lengthAdjust="spacingAndGlyphs">=</text><text class="tt" x="851.28" y="569.91" font-size="24.25" textLength="35.2" lengthAdjust="spacingAndGlyphs">1.0,</text><text class="tt it" x="890.25" y="569.91" font-size="24.25" textLength="12.91" lengthAdjust="spacingAndGlyphs">β</text><text class="tt" x="909.14" y="571.98" font-size="24.25" textLength="18.41" lengthAdjust="spacingAndGlyphs">=</text><text class="tt" x="932.75" y="569.91" font-size="24.25" textLength="40.29" lengthAdjust="spacingAndGlyphs">0.99</text><path d="M744.75 591.88H802.27" stroke="#00ff00" stroke-width="3.83"/><text class="tt it" x="807.5" y="597.78" font-size="24.25" textLength="13.66" lengthAdjust="spacingAndGlyphs">α</text><text class="tt" x="827.68" y="599.86" font-size="24.25" textLength="18.41" lengthAdjust="spacingAndGlyphs">=</text><text class="tt" x="851.28" y="597.78" font-size="24.25" textLength="35.2" lengthAdjust="spacingAndGlyphs">1.9,</text><text class="tt it" x="890.25" y="597.78" font-size="24.25" textLength="12.91" lengthAdjust="spacingAndGlyphs">β</text><text class="tt" x="909.14" y="599.86" font-size="24.25" textLength="18.41" lengthAdjust="spacingAndGlyphs">=</text><text class="tt" x="932.75" y="597.78" font-size="24.25" textLength="40.29" lengthAdjust="spacingAndGlyphs">0.99</text></g>
<g><rect x="1084" y="507.4" width="415" height="324.4" fill="none" stroke="#262626" stroke-width="1.1"/><path d="M1166.99 831.8v-4.4M1166.99 507.4v4.4M1249.99 831.8v-4.4M1249.99 507.4v4.4M1332.99 831.8v-4.4M1332.99 507.4v4.4M1416 831.8v-4.4M1416 507.4v4.4M1499 831.8v-4.4M1499 507.4v4.4M1084 507.4h4.4M1499 507.4h-4.4M1084 552.75h2.5M1499 552.75h-2.5M1084 541.32h2.5M1499 541.32h-2.5M1084 533.22h2.5M1499 533.22h-2.5M1084 526.93h2.5M1499 526.93h-2.5M1084 521.79h2.5M1499 521.79h-2.5M1084 517.45h2.5M1499 517.45h-2.5M1084 513.69h2.5M1499 513.69h-2.5M1084 510.37h2.5M1499 510.37h-2.5M1084 572.28h4.4M1499 572.28h-4.4M1084 617.63h2.5M1499 617.63h-2.5M1084 606.2h2.5M1499 606.2h-2.5M1084 598.1h2.5M1499 598.1h-2.5M1084 591.81h2.5M1499 591.81h-2.5M1084 586.67h2.5M1499 586.67h-2.5M1084 582.33h2.5M1499 582.33h-2.5M1084 578.57h2.5M1499 578.57h-2.5M1084 575.25h2.5M1499 575.25h-2.5M1084 637.16h4.4M1499 637.16h-4.4M1084 682.51h2.5M1499 682.51h-2.5M1084 671.08h2.5M1499 671.08h-2.5M1084 662.98h2.5M1499 662.98h-2.5M1084 656.69h2.5M1499 656.69h-2.5M1084 651.55h2.5M1499 651.55h-2.5M1084 647.21h2.5M1499 647.21h-2.5M1084 643.45h2.5M1499 643.45h-2.5M1084 640.13h2.5M1499 640.13h-2.5M1084 702.04h4.4M1499 702.04h-4.4M1084 747.39h2.5M1499 747.39h-2.5M1084 735.96h2.5M1499 735.96h-2.5M1084 727.86h2.5M1499 727.86h-2.5M1084 721.57h2.5M1499 721.57h-2.5M1084 716.43h2.5M1499 716.43h-2.5M1084 712.09h2.5M1499 712.09h-2.5M1084 708.33h2.5M1499 708.33h-2.5M1084 705.01h2.5M1499 705.01h-2.5M1084 766.92h4.4M1499 766.92h-4.4M1084 812.27h2.5M1499 812.27h-2.5M1084 800.84h2.5M1499 800.84h-2.5M1084 792.74h2.5M1499 792.74h-2.5M1084 786.45h2.5M1499 786.45h-2.5M1084 781.31h2.5M1499 781.31h-2.5M1084 776.97h2.5M1499 776.97h-2.5M1084 773.21h2.5M1499 773.21h-2.5M1084 769.89h2.5M1499 769.89h-2.5M1084 831.8h4.4M1499 831.8h-4.4" stroke="#262626" stroke-width="1.1" fill="none"/><path d="M1084.9 507.4L1084.9 511.5L1084.9 515.66L1084.9 519.87L1084.9 524.12L1084.91 528.41L1084.91 532.74L1084.91 537.09L1084.92 541.47L1084.92 545.86L1084.92 550.27L1084.93 554.69L1084.93 559.11L1084.94 563.53L1084.94 567.95L1084.94 572.35L1084.95 576.73L1084.95 581.1L1084.95 585.43L1084.96 589.73L1084.96 594L1084.96 598.22L1084.96 602.4L1084.96 606.52L1084.96 610.58L1084.96 614.58L1084.96 618.52L1084.96 622.37L1084.95 626.16L1084.95 629.85L1084.94 633.46L1084.94 636.98L1084.93 640.39L1084.92 643.71L1084.91 646.91L1084.9 650L1084.88 655.15L1084.86 660.14L1084.83 664.95L1084.8 669.6L1084.77 674.06L1084.74 678.34L1084.71 682.44L1084.67 686.35L1084.63 690.06L1084.59 693.58L1084.55 696.89L1084.5 700L1084.25 705.98L1083.98 710.97L1084.1 715.9L1084.73 721.06L1085.73 726.17L1087.1 731.1L1087.6 732.95L1088.1 734.53L1088.6 735.93L1089.1 737.18L1089.6 738.31L1090.1 739.34L1090.6 740.29L1091.1 741.18L1091.6 742.01L1092.1 742.8L1092.6 743.54L1093.1 744.24L1093.6 744.9L1094.1 745.54L1094.6 746.15L1095.1 746.74L1095.6 747.3L1096.1 747.85L1096.6 748.37L1097.1 748.88L1097.6 749.37L1098.1 749.85L1098.6 750.31L1099.1 750.76L1099.6 751.2L1100.1 751.63L1100.6 752.04L1101.1 752.45L1101.6 752.85L1102.1 753.24L1102.6 753.62L1103.1 753.99L1103.6 754.35L1104.1 754.71L1104.6 755.06L1105.1 755.41L1105.6 755.74L1106.1 756.08L1106.6 756.4L1107.1 756.72L1109.1 757.96L1111.1 759.11L1113.1 760.21L1115.1 761.25L1117.1 762.25L1119.1 763.2L1121.1 764.11L1123.1 764.98L1125.1 765.82L1127.1 766.63L1129.1 767.41L1131.1 768.15L1133.1 768.87L1135.1 769.56L1137.1 770.23L1139.1 770.88L1141.1 771.5L1143.1 772.1L1145.1 772.68L1147.1 773.25L1149.1 773.79L1151.1 774.32L1153.1 774.83L1155.1 775.33L1157.1 775.81L1159.1 776.28L1161.1 776.73L1163.1 777.17L1165.1 777.6L1167.1 778.02L1169.1 778.42L1171.1 778.82L1173.1 779.2L1175.1 779.58L1177.1 779.94L1179.1 780.3L1181.1 780.64L1183.1 780.98L1185.1 781.31L1187.1 781.63L1189.1 781.94L1191.1 782.25L1193.1 782.55L1195.1 782.84L1197.1 783.12L1199.1 783.4L1201.1 783.67L1203.1 783.94L1205.1 784.2L1207.1 784.45L1209.1 784.7L1211.1 784.95L1213.1 785.18L1215.1 785.42L1217.1 785.65L1219.1 785.87L1221.1 786.09L1223.1 786.3L1225.1 786.51L1227.1 786.71L1229.1 786.91L1231.1 787.11L1233.1 787.3L1235.1 787.49L1237.1 787.67L1239.1 787.85L1241.1 788.02L1243.1 788.19L1245.1 788.36L1247.1 788.52L1249.1 788.68L1251.1 788.83L1253.1 788.99L1255.1 789.13L1257.1 789.28L1259.1 789.42L1261.1 789.56L1263.1 789.69L1265.1 789.82L1267.1 789.95L1269.1 790.07L1271.1 790.19L1273.1 790.31L1275.1 790.43L1277.1 790.54L1279.1 790.65L1281.1 790.76L1283.1 790.86L1285.1 790.96L1287.1 791.06L1289.1 791.15L1291.1 791.25L1293.1 791.34L1295.1 791.42L1297.1 791.51L1299.1 791.59L1301.1 791.67L1303.1 791.75L1305.1 791.82L1307.1 791.9L1309.1 791.97L1311.1 792.04L1313.1 792.1L1315.1 792.17L1317.1 792.23L1319.1 792.29L1321.1 792.35L1323.1 792.4L1325.1 792.46L1327.1 792.51L1329.1 792.56L1331.1 792.6L1333.1 792.65L1335.1 792.69L1337.1 792.74L1339.1 792.78L1341.1 792.82L1343.1 792.85L1345.1 792.89L1347.1 792.92L1349.1 792.95L1351.1 792.98L1353.1 793.01L1355.1 793.04L1357.1 793.07L1359.1 793.09L1361.1 793.11L1363.1 793.13L1365.1 793.15L1367.1 793.17L1369.1 793.19L1371.1 793.2L1373.1 793.21L1375.1 793.23L1377.1 793.24L1379.1 793.25L1381.1 793.25L1383.1 793.26L1385.1 793.27L1387.1 793.27L1389.1 793.27L1391.1 793.27L1393.1 793.27L1395.1 793.27L1397.1 793.27L1399.1 793.27L1401.1 793.26L1403.1 793.26L1405.1 793.25L1407.1 793.24L1409.1 793.24L1411.1 793.23L1413.1 793.21L1415.1 793.2L1417.1 793.19L1419.1 793.18L1421.1 793.16L1423.1 793.14L1425.1 793.13L1427.1 793.11L1429.1 793.09L1431.1 793.07L1433.1 793.05L1435.1 793.03L1437.1 793L1439.1 792.98L1441.1 792.95L1443.1 792.93L1445.1 792.9L1447.1 792.88L1449.1 792.85L1451.1 792.82L1453.1 792.79L1455.1 792.76L1457.1 792.73L1459.1 792.69L1461.1 792.66L1463.1 792.63L1465.1 792.59L1467.1 792.56L1469.1 792.52L1471.1 792.48L1473.1 792.45L1475.1 792.41L1477.1 792.37L1479.1 792.33L1481.1 792.29L1483.1 792.25L1485.1 792.2L1487.1 792.16L1489.1 792.12L1491.1 792.07L1493.1 792.03L1495.1 791.98L1497.1 791.94L1498.9 791.9" fill="none" stroke="#ff0000" stroke-width="4" stroke-linejoin="round"/><path d="M1084.9 507.4L1084.89 511.5L1084.88 515.64L1084.88 519.82L1084.87 524.04L1084.86 528.3L1084.86 532.57L1084.85 536.88L1084.84 541.2L1084.84 545.54L1084.83 549.89L1084.82 554.24L1084.82 558.6L1084.81 562.96L1084.81 567.31L1084.8 571.66L1084.79 575.99L1084.79 580.3L1084.78 584.58L1084.78 588.84L1084.77 593.08L1084.76 597.27L1084.75 601.43L1084.74 605.54L1084.74 609.61L1084.73 613.62L1084.72 617.58L1084.71 621.48L1084.7 625.31L1084.68 629.08L1084.67 632.77L1084.66 636.39L1084.65 639.92L1084.63 643.37L1084.62 646.73L1084.6 650L1084.56 654.86L1084.49 659.64L1084.4 664.32L1084.3 668.9L1084.19 673.37L1084.07 677.73L1083.97 681.97L1083.87 686.08L1083.8 690.06L1083.74 693.9L1083.73 697.6L1083.75 701.14L1083.81 704.53L1083.93 707.75L1084.1 710.8L1084.5 715.62L1084.99 719.87L1085.57 723.74L1086.27 727.42L1087.1 731.1L1087.6 733.13L1088.1 735L1088.6 736.73L1089.1 738.34L1089.6 739.84L1090.1 741.24L1090.6 742.56L1091.1 743.81L1091.6 744.98L1092.1 746.1L1092.6 747.16L1093.1 748.17L1093.6 749.14L1094.1 750.06L1094.6 750.94L1095.1 751.79L1095.6 752.6L1096.1 753.39L1096.6 754.14L1097.1 754.87L1097.6 755.57L1098.1 756.25L1098.6 756.91L1099.1 757.55L1099.6 758.17L1100.1 758.77L1100.6 759.35L1101.1 759.92L1101.6 760.47L1102.1 761L1102.6 761.52L1103.1 762.03L1103.6 762.53L1104.1 763.01L1104.6 763.48L1105.1 763.94L1105.6 764.39L1106.1 764.83L1106.6 765.26L1107.1 765.68L1109.1 767.27L1111.1 768.74L1113.1 770.1L1115.1 771.36L1117.1 772.55L1119.1 773.66L1121.1 774.7L1123.1 775.68L1125.1 776.61L1127.1 777.49L1129.1 778.33L1131.1 779.12L1133.1 779.88L1135.1 780.59L1137.1 781.27L1139.1 781.92L1141.1 782.54L1143.1 783.13L1145.1 783.7L1147.1 784.23L1149.1 784.75L1151.1 785.24L1153.1 785.71L1155.1 786.16L1157.1 786.59L1159.1 787L1161.1 787.4L1163.1 787.78L1165.1 788.14L1167.1 788.49L1169.1 788.82L1171.1 789.14L1173.1 789.45L1175.1 789.75L1177.1 790.03L1179.1 790.3L1181.1 790.56L1183.1 790.81L1185.1 791.06L1187.1 791.29L1189.1 791.51L1191.1 791.72L1193.1 791.93L1195.1 792.12L1197.1 792.31L1199.1 792.49L1201.1 792.66L1203.1 792.83L1205.1 792.99L1207.1 793.14L1209.1 793.29L1211.1 793.43L1213.1 793.56L1215.1 793.69L1217.1 793.81L1219.1 793.93L1221.1 794.04L1223.1 794.15L1225.1 794.25L1227.1 794.35L1229.1 794.44L1231.1 794.53L1233.1 794.62L1235.1 794.7L1237.1 794.77L1239.1 794.84L1241.1 794.91L1243.1 794.97L1245.1 795.03L1247.1 795.09L1249.1 795.14L1251.1 795.19L1253.1 795.24L1255.1 795.28L1257.1 795.32L1259.1 795.36L1261.1 795.4L1263.1 795.43L1265.1 795.46L1267.1 795.48L1269.1 795.5L1271.1 795.53L1273.1 795.54L1275.1 795.56L1277.1 795.57L1279.1 795.58L1281.1 795.59L1283.1 795.6L1285.1 795.6L1287.1 795.6L1289.1 795.6L1291.1 795.6L1293.1 795.59L1295.1 795.59L1297.1 795.58L1299.1 795.57L1301.1 795.56L1303.1 795.54L1305.1 795.53L1307.1 795.51L1309.1 795.49L1311.1 795.47L1313.1 795.45L1315.1 795.42L1317.1 795.4L1319.1 795.37L1321.1 795.34L1323.1 795.31L1325.1 795.28L1327.1 795.25L1329.1 795.22L1331.1 795.18L1333.1 795.14L1335.1 795.11L1337.1 795.07L1339.1 795.03L1341.1 794.99L1343.1 794.94L1345.1 794.9L1347.1 794.85L1349.1 794.81L1351.1 794.76L1353.1 794.71L1355.1 794.66L1357.1 794.61L1359.1 794.56L1361.1 794.51L1363.1 794.46L1365.1 794.4L1367.1 794.35L1369.1 794.29L1371.1 794.23L1373.1 794.17L1375.1 794.12L1377.1 794.06L1379.1 794L1381.1 793.93L1383.1 793.87L1385.1 793.81L1387.1 793.75L1389.1 793.68L1391.1 793.62L1393.1 793.55L1395.1 793.48L1397.1 793.42L1399.1 793.35L1401.1 793.28L1403.1 793.21L1405.1 793.14L1407.1 793.07L1409.1 793L1411.1 792.93L1413.1 792.86L1415.1 792.78L1417.1 792.71L1419.1 792.63L1421.1 792.56L1423.1 792.48L1425.1 792.41L1427.1 792.33L1429.1 792.25L1431.1 792.18L1433.1 792.1L1435.1 792.02L1437.1 791.94L1439.1 791.86L1441.1 791.78L1443.1 791.7L1445.1 791.62L1447.1 791.54L1449.1 791.46L1451.1 791.38L1453.1 791.29L1455.1 791.21L1457.1 791.13L1459.1 791.04L1461.1 790.96L1463.1 790.87L1465.1 790.79L1467.1 790.7L1469.1 790.62L1471.1 790.53L1473.1 790.44L1475.1 790.36L1477.1 790.27L1479.1 790.18L1481.1 790.09L1483.1 790.01L1485.1 789.92L1487.1 789.83L1489.1 789.74L1491.1 789.65L1493.1 789.56L1495.1 789.47L1497.1 789.38L1498.9 789.3" fill="none" stroke="#0000ff" stroke-width="4" stroke-linejoin="round"/><path d="M1084.9 507.4L1084.9 511.44L1084.9 515.52L1084.9 519.63L1084.9 523.75L1084.9 527.9L1084.9 532.06L1084.9 536.23L1084.9 540.4L1084.9 544.57L1084.9 548.73L1084.9 552.88L1084.9 557.02L1084.9 561.13L1084.9 565.22L1084.9 569.27L1084.9 573.29L1084.9 577.27L1084.9 581.2L1084.9 585.08L1084.9 588.91L1084.9 592.67L1084.9 596.37L1084.9 600L1084.9 604.42L1084.9 608.8L1084.89 613.15L1084.89 617.45L1084.89 621.71L1084.88 625.9L1084.88 630.03L1084.88 634.09L1084.88 638.07L1084.88 641.97L1084.88 645.78L1084.88 649.49L1084.88 653.11L1084.89 656.61L1084.9 660L1084.91 664.99L1084.9 669.77L1084.9 674.34L1084.91 678.7L1084.93 682.85L1085 686.79L1085.1 690.5L1085.33 696L1085.65 700.91L1086.1 705.7L1086.66 710.16L1087.34 714.51L1088.2 718.9L1088.7 721.46L1089.2 723.7L1089.7 725.7L1090.2 727.49L1090.7 729.12L1091.2 730.62L1091.7 732L1092.2 733.29L1092.7 734.48L1093.2 735.61L1093.7 736.66L1094.2 737.66L1094.7 738.6L1095.2 739.5L1095.7 740.35L1096.2 741.16L1096.7 741.94L1097.2 742.69L1097.7 743.4L1098.2 744.09L1098.7 744.75L1099.2 745.38L1099.7 746L1100.2 746.59L1100.7 747.16L1101.2 747.72L1101.7 748.26L1102.2 748.78L1102.7 749.29L1103.2 749.78L1103.7 750.25L1104.2 750.72L1104.7 751.17L1105.2 751.61L1105.7 752.04L1106.2 752.46L1106.7 752.87L1107.2 753.27L1107.7 753.66L1108.2 754.04L1110.2 755.49L1112.2 756.81L1114.2 758.04L1116.2 759.19L1118.2 760.26L1120.2 761.26L1122.2 762.21L1124.2 763.1L1126.2 763.94L1128.2 764.75L1130.2 765.51L1132.2 766.24L1134.2 766.93L1136.2 767.6L1138.2 768.24L1140.2 768.85L1142.2 769.44L1144.2 770L1146.2 770.55L1148.2 771.08L1150.2 771.58L1152.2 772.08L1154.2 772.55L1156.2 773.01L1158.2 773.46L1160.2 773.9L1162.2 774.32L1164.2 774.73L1166.2 775.12L1168.2 775.51L1170.2 775.89L1172.2 776.26L1174.2 776.61L1176.2 776.96L1178.2 777.3L1180.2 777.64L1182.2 777.96L1184.2 778.28L1186.2 778.59L1188.2 778.89L1190.2 779.19L1192.2 779.48L1194.2 779.76L1196.2 780.04L1198.2 780.32L1200.2 780.58L1202.2 780.85L1204.2 781.1L1206.2 781.36L1208.2 781.6L1210.2 781.85L1212.2 782.09L1214.2 782.32L1216.2 782.55L1218.2 782.78L1220.2 783L1222.2 783.22L1224.2 783.43L1226.2 783.64L1228.2 783.85L1230.2 784.05L1232.2 784.25L1234.2 784.45L1236.2 784.64L1238.2 784.83L1240.2 785.02L1242.2 785.2L1244.2 785.38L1246.2 785.55L1248.2 785.73L1250.2 785.9L1252.2 786.06L1254.2 786.23L1256.2 786.39L1258.2 786.54L1260.2 786.7L1262.2 786.85L1264.2 787L1266.2 787.15L1268.2 787.29L1270.2 787.43L1272.2 787.57L1274.2 787.71L1276.2 787.84L1278.2 787.97L1280.2 788.1L1282.2 788.23L1284.2 788.35L1286.2 788.48L1288.2 788.6L1290.2 788.71L1292.2 788.83L1294.2 788.94L1296.2 789.05L1298.2 789.16L1300.2 789.27L1302.2 789.37L1304.2 789.48L1306.2 789.58L1308.2 789.68L1310.2 789.78L1312.2 789.87L1314.2 789.96L1316.2 790.06L1318.2 790.15L1320.2 790.23L1322.2 790.32L1324.2 790.41L1326.2 790.49L1328.2 790.57L1330.2 790.65L1332.2 790.73L1334.2 790.81L1336.2 790.88L1338.2 790.95L1340.2 791.03L1342.2 791.1L1344.2 791.17L1346.2 791.23L1348.2 791.3L1350.2 791.37L1352.2 791.43L1354.2 791.49L1356.2 791.55L1358.2 791.61L1360.2 791.67L1362.2 791.73L1364.2 791.78L1366.2 791.84L1368.2 791.89L1370.2 791.94L1372.2 791.99L1374.2 792.04L1376.2 792.09L1378.2 792.14L1380.2 792.18L1382.2 792.23L1384.2 792.27L1386.2 792.32L1388.2 792.36L1390.2 792.4L1392.2 792.44L1394.2 792.48L1396.2 792.51L1398.2 792.55L1400.2 792.58L1402.2 792.62L1404.2 792.65L1406.2 792.68L1408.2 792.72L1410.2 792.75L1412.2 792.78L1414.2 792.81L1416.2 792.83L1418.2 792.86L1420.2 792.89L1422.2 792.91L1424.2 792.94L1426.2 792.96L1428.2 792.98L1430.2 793L1432.2 793.02L1434.2 793.04L1436.2 793.06L1438.2 793.08L1440.2 793.1L1442.2 793.12L1444.2 793.13L1446.2 793.15L1448.2 793.16L1450.2 793.18L1452.2 793.19L1454.2 793.2L1456.2 793.22L1458.2 793.23L1460.2 793.24L1462.2 793.25L1464.2 793.26L1466.2 793.26L1468.2 793.27L1470.2 793.28L1472.2 793.29L1474.2 793.29L1476.2 793.3L1478.2 793.3L1480.2 793.3L1482.2 793.31L1484.2 793.31L1486.2 793.31L1488.2 793.31L1490.2 793.32L1492.2 793.32L1494.2 793.32L1496.2 793.31L1498.2 793.31L1498.9 793.31" fill="none" stroke="#00ff00" stroke-width="4" stroke-linejoin="round"/><text class="tk" x="1166.99" y="865.1" font-size="25.5" text-anchor="middle">5</text><text class="tk" x="1249.99" y="865.1" font-size="25.5" text-anchor="middle">10</text><text class="tk" x="1332.99" y="865.1" font-size="25.5" text-anchor="middle">15</text><text class="tk" x="1416" y="865.1" font-size="25.5" text-anchor="middle">20</text><text class="tk" x="1499" y="865.1" font-size="25.5" text-anchor="middle">25</text><text class="tk" x="1073.9" y="520.5" font-size="25.5" text-anchor="end">10<tspan font-size="20.4" dy="-10.9">0</tspan></text><text class="tk" x="1073.9" y="585.38" font-size="25.5" text-anchor="end">10<tspan font-size="20.4" dy="-10.9">-1</tspan></text><text class="tk" x="1073.9" y="650.26" font-size="25.5" text-anchor="end">10<tspan font-size="20.4" dy="-10.9">-2</tspan></text><text class="tk" x="1073.9" y="715.14" font-size="25.5" text-anchor="end">10<tspan font-size="20.4" dy="-10.9">-3</tspan></text><text class="tk" x="1073.9" y="780.02" font-size="25.5" text-anchor="end">10<tspan font-size="20.4" dy="-10.9">-4</tspan></text><text class="tk" x="1073.9" y="844.9" font-size="25.5" text-anchor="end">10<tspan font-size="20.4" dy="-10.9">-5</tspan></text><text class="tk tx" x="1438.37" y="904.9" font-size="23.4" textLength="19.55" lengthAdjust="spacingAndGlyphs">×</text><text class="tk" x="1498.7" y="903.7" font-size="25.5" text-anchor="end">10<tspan font-size="21" dy="-11">3</tspan></text><text class="tt" x="1115.61" y="494.1" font-size="26.69" textLength="88" lengthAdjust="spacingAndGlyphs">relative</text><text class="tt" x="1212.28" y="494.1" font-size="26.69" textLength="58.63" lengthAdjust="spacingAndGlyphs">noise</text><text class="tt" x="1279.65" y="494.1" font-size="26.69" textLength="53.02" lengthAdjust="spacingAndGlyphs">level</text><text class="tt it" x="1341.51" y="494.72" font-size="27.42" textLength="11.86" lengthAdjust="spacingAndGlyphs">δ</text><text class="tt it" x="1352.64" y="498.65" font-size="19.45" textLength="24.64" lengthAdjust="spacingAndGlyphs">rel</text><text class="tt" x="1386.14" y="496.38" font-size="26.69" textLength="21.11" lengthAdjust="spacingAndGlyphs">=</text><text class="tt" x="1414.4" y="494.1" font-size="26.69" textLength="27.59" lengthAdjust="spacingAndGlyphs">10</text><text class="tt" x="1442.46" y="486.34" font-size="19.76" textLength="13.78" lengthAdjust="spacingAndGlyphs">−</text><text class="tt" x="1457.31" y="484.79" font-size="19.76" textLength="8.58" lengthAdjust="spacingAndGlyphs">3</text><rect x="1245.4" y="518.4" width="242.1" height="89.8" fill="#fff" stroke="#262626" stroke-width="1.1"/><path d="M1252.54 535.89H1309.99" stroke="#ff0000" stroke-width="3.83"/><text class="tt it" x="1315.21" y="541.79" font-size="24.22" textLength="13.64" lengthAdjust="spacingAndGlyphs">α</text><text class="tt" x="1335.37" y="543.86" font-size="24.22" textLength="18.38" lengthAdjust="spacingAndGlyphs">=</text><text class="tt" x="1358.94" y="541.79" font-size="24.22" textLength="35.15" lengthAdjust="spacingAndGlyphs">0.5,</text><text class="tt it" x="1397.86" y="541.79" font-size="24.22" textLength="12.89" lengthAdjust="spacingAndGlyphs">β</text><text class="tt" x="1416.73" y="543.86" font-size="24.22" textLength="18.38" lengthAdjust="spacingAndGlyphs">=</text><text class="tt" x="1440.31" y="541.79" font-size="24.22" textLength="40.24" lengthAdjust="spacingAndGlyphs">0.99</text><path d="M1252.54 563.94H1309.99" stroke="#0000ff" stroke-width="3.83"/><text class="tt it" x="1315.21" y="569.84" font-size="24.22" textLength="13.64" lengthAdjust="spacingAndGlyphs">α</text><text class="tt" x="1335.37" y="571.91" font-size="24.22" textLength="18.38" lengthAdjust="spacingAndGlyphs">=</text><text class="tt" x="1358.94" y="569.84" font-size="24.22" textLength="35.15" lengthAdjust="spacingAndGlyphs">1.0,</text><text class="tt it" x="1397.86" y="569.84" font-size="24.22" textLength="12.89" lengthAdjust="spacingAndGlyphs">β</text><text class="tt" x="1416.73" y="571.91" font-size="24.22" textLength="18.38" lengthAdjust="spacingAndGlyphs">=</text><text class="tt" x="1440.31" y="569.84" font-size="24.22" textLength="40.24" lengthAdjust="spacingAndGlyphs">0.99</text><path d="M1252.54 591.79H1309.99" stroke="#00ff00" stroke-width="3.83"/><text class="tt it" x="1315.21" y="597.69" font-size="24.22" textLength="13.64" lengthAdjust="spacingAndGlyphs">α</text><text class="tt" x="1335.37" y="599.76" font-size="24.22" textLength="18.38" lengthAdjust="spacingAndGlyphs">=</text><text class="tt" x="1358.94" y="597.69" font-size="24.22" textLength="35.15" lengthAdjust="spacingAndGlyphs">1.9,</text><text class="tt it" x="1397.86" y="597.69" font-size="24.22" textLength="12.89" lengthAdjust="spacingAndGlyphs">β</text><text class="tt" x="1416.73" y="599.76" font-size="24.22" textLength="18.38" lengthAdjust="spacingAndGlyphs">=</text><text class="tt" x="1440.31" y="597.69" font-size="24.22" textLength="40.24" lengthAdjust="spacingAndGlyphs">0.99</text></g>
<g><rect x="70" y="975.2" width="414.9" height="324.3" fill="none" stroke="#262626" stroke-width="1.1"/><path d="M152.68 1299.5v-4.4M152.68 975.2v4.4M235.53 1299.5v-4.4M235.53 975.2v4.4M318.38 1299.5v-4.4M318.38 975.2v4.4M401.22 1299.5v-4.4M401.22 975.2v4.4M484.07 1299.5v-4.4M484.07 975.2v4.4M70 975.2h4.4M484.9 975.2h-4.4M70 1050.76h2.5M484.9 1050.76h-2.5M70 1031.72h2.5M484.9 1031.72h-2.5M70 1018.22h2.5M484.9 1018.22h-2.5M70 1007.74h2.5M484.9 1007.74h-2.5M70 999.18h2.5M484.9 999.18h-2.5M70 991.94h2.5M484.9 991.94h-2.5M70 985.68h2.5M484.9 985.68h-2.5M70 980.15h2.5M484.9 980.15h-2.5M70 1083.3h4.4M484.9 1083.3h-4.4M70 1158.86h2.5M484.9 1158.86h-2.5M70 1139.82h2.5M484.9 1139.82h-2.5M70 1126.32h2.5M484.9 1126.32h-2.5M70 1115.84h2.5M484.9 1115.84h-2.5M70 1107.28h2.5M484.9 1107.28h-2.5M70 1100.04h2.5M484.9 1100.04h-2.5M70 1093.78h2.5M484.9 1093.78h-2.5M70 1088.25h2.5M484.9 1088.25h-2.5M70 1191.4h4.4M484.9 1191.4h-4.4M70 1266.96h2.5M484.9 1266.96h-2.5M70 1247.92h2.5M484.9 1247.92h-2.5M70 1234.42h2.5M484.9 1234.42h-2.5M70 1223.94h2.5M484.9 1223.94h-2.5M70 1215.38h2.5M484.9 1215.38h-2.5M70 1208.14h2.5M484.9 1208.14h-2.5M70 1201.88h2.5M484.9 1201.88h-2.5M70 1196.35h2.5M484.9 1196.35h-2.5M70 1299.5h4.4M484.9 1299.5h-4.4" stroke="#262626" stroke-width="1.1" fill="none"/><path d="M70.1 975.2L70.1 979.27L70.1 983.4L70.1 987.58L70.1 991.82L70.09 996.09L70.09 1000.4L70.09 1004.73L70.09 1009.07L70.08 1013.42L70.08 1017.76L70.08 1022.1L70.08 1026.41L70.07 1030.69L70.07 1034.94L70.07 1039.15L70.07 1043.3L70.07 1047.39L70.07 1051.41L70.07 1055.34L70.07 1059.2L70.07 1062.95L70.08 1066.6L70.08 1070.14L70.09 1073.56L70.09 1076.85L70.1 1080L70.11 1084.84L70.11 1089.46L70.12 1093.89L70.12 1098.12L70.13 1102.17L70.14 1106.04L70.16 1109.75L70.19 1113.31L70.24 1116.72L70.3 1120L70.34 1125.25L70.34 1130.12L70.49 1134.42L71 1138L72.01 1141.13L73.5 1143.5L74 1144.2L74.5 1144.7L75 1145.08L75.5 1145.39L76 1145.66L76.5 1145.9L77 1146.13L77.5 1146.35L78 1146.57L78.5 1146.78L79 1147L79.5 1147.23L80 1147.46L80.5 1147.69L81 1147.93L81.5 1148.17L82 1148.42L82.5 1148.67L83 1148.93L83.5 1149.19L84 1149.46L84.5 1149.73L85 1150.01L85.5 1150.29L86 1150.57L86.5 1150.86L87 1151.15L87.5 1151.44L88 1151.73L88.5 1152.03L89 1152.33L89.5 1152.63L90 1152.93L90.5 1153.24L91 1153.54L91.5 1153.85L92 1154.16L92.5 1154.47L93 1154.79L93.5 1155.1L95.5 1156.36L97.5 1157.63L99.5 1158.91L101.5 1160.2L103.5 1161.48L105.5 1162.76L107.5 1164.04L109.5 1165.32L111.5 1166.59L113.5 1167.85L115.5 1169.11L117.5 1170.36L119.5 1171.6L121.5 1172.84L123.5 1174.06L125.5 1175.28L127.5 1176.49L129.5 1177.69L131.5 1178.88L133.5 1180.06L135.5 1181.23L137.5 1182.39L139.5 1183.55L141.5 1184.69L143.5 1185.81L145.5 1186.93L147.5 1188.03L149.5 1189.12L151.5 1190.19L153.5 1191.25L155.5 1192.3L157.5 1193.33L159.5 1194.34L161.5 1195.34L163.5 1196.33L165.5 1197.31L167.5 1198.27L169.5 1199.21L171.5 1200.14L173.5 1201.06L175.5 1201.97L177.5 1202.86L179.5 1203.74L181.5 1204.61L183.5 1205.46L185.5 1206.3L187.5 1207.13L189.5 1207.95L191.5 1208.76L193.5 1209.55L195.5 1210.34L197.5 1211.11L199.5 1211.87L201.5 1212.62L203.5 1213.36L205.5 1214.09L207.5 1214.81L209.5 1215.52L211.5 1216.22L213.5 1216.9L215.5 1217.58L217.5 1218.26L219.5 1218.91L221.5 1219.56L223.5 1220.2L225.5 1220.82L227.5 1221.42L229.5 1222.01L231.5 1222.58L233.5 1223.14L235.5 1223.68L237.5 1224.2L239.5 1224.71L241.5 1225.19L243.5 1225.66L245.5 1226.1L247.5 1226.53L249.5 1226.94L251.5 1227.33L253.5 1227.7L255.5 1228.04L257.5 1228.37L259.5 1228.68L261.5 1228.96L263.5 1229.23L265.5 1229.47L267.5 1229.7L269.5 1229.9L271.5 1230.08L273.5 1230.24L275.5 1230.39L277.5 1230.51L279.5 1230.61L281.5 1230.69L283.5 1230.75L285.5 1230.79L287.5 1230.81L289.5 1230.81L291.5 1230.79L293.5 1230.75L295.5 1230.7L297.5 1230.63L299.5 1230.55L301.5 1230.45L303.5 1230.34L305.5 1230.21L307.5 1230.07L309.5 1229.92L311.5 1229.76L313.5 1229.58L315.5 1229.39L317.5 1229.2L319.5 1228.99L321.5 1228.77L323.5 1228.54L325.5 1228.31L327.5 1228.06L329.5 1227.81L331.5 1227.55L333.5 1227.28L335.5 1227.01L337.5 1226.73L339.5 1226.44L341.5 1226.14L343.5 1225.84L345.5 1225.53L347.5 1225.22L349.5 1224.9L351.5 1224.58L353.5 1224.25L355.5 1223.92L357.5 1223.59L359.5 1223.25L361.5 1222.91L363.5 1222.56L365.5 1222.22L367.5 1221.87L369.5 1221.52L371.5 1221.16L373.5 1220.81L375.5 1220.45L377.5 1220.1L379.5 1219.74L381.5 1219.38L383.5 1219.02L385.5 1218.67L387.5 1218.31L389.5 1217.95L391.5 1217.59L393.5 1217.24L395.5 1216.88L397.5 1216.53L399.5 1216.18L401.5 1215.83L403.5 1215.48L405.5 1215.13L407.5 1214.78L409.5 1214.44L411.5 1214.1L413.5 1213.76L415.5 1213.42L417.5 1213.09L419.5 1212.76L421.5 1212.43L423.5 1212.1L425.5 1211.78L427.5 1211.46L429.5 1211.14L431.5 1210.83L433.5 1210.52L435.5 1210.21L437.5 1209.91L439.5 1209.61L441.5 1209.31L443.5 1209.02L445.5 1208.73L447.5 1208.44L449.5 1208.16L451.5 1207.88L453.5 1207.61L455.5 1207.34L457.5 1207.07L459.5 1206.81L461.5 1206.56L463.5 1206.3L465.5 1206.05L467.5 1205.81L469.5 1205.57L471.5 1205.33L473.5 1205.1L475.5 1204.87L477.5 1204.65L479.5 1204.43L481.5 1204.22L483.5 1204.01L484.6 1203.9" fill="none" stroke="#ff0000" stroke-width="4" stroke-linejoin="round"/><path d="M70.1 975.2L70.1 979.27L70.09 983.4L70.09 987.58L70.08 991.82L70.08 996.09L70.07 1000.4L70.07 1004.73L70.07 1009.07L70.06 1013.42L70.06 1017.76L70.05 1022.1L70.05 1026.41L70.04 1030.69L70.04 1034.94L70.03 1039.15L70.03 1043.3L70.03 1047.39L70.02 1051.41L70.02 1055.34L70.01 1059.2L70.01 1062.95L70.01 1066.6L70.01 1070.14L70 1073.56L70 1076.85L70 1080L69.99 1084.84L69.98 1089.46L69.97 1093.89L69.95 1098.12L69.94 1102.17L69.93 1106.04L69.93 1109.75L69.94 1113.31L69.96 1116.72L70 1120L70.06 1125.27L70.12 1130.18L70.25 1134.49L70.5 1138L70.75 1140.66L71.4 1142.7L71.9 1143.59L72.4 1144.17L72.9 1144.56L73.4 1144.85L73.9 1145.07L74.4 1145.27L74.9 1145.46L75.4 1145.65L75.9 1145.84L76.4 1146.04L76.9 1146.25L77.4 1146.48L77.9 1146.72L78.4 1146.98L78.9 1147.25L79.4 1147.54L79.9 1147.83L80.4 1148.15L80.9 1148.47L81.4 1148.8L81.9 1149.15L82.4 1149.51L82.9 1149.87L83.4 1150.24L83.9 1150.62L84.4 1151.01L84.9 1151.39L85.4 1151.79L85.9 1152.18L86.4 1152.58L86.9 1152.99L87.4 1153.39L87.9 1153.8L88.4 1154.2L88.9 1154.61L89.4 1155.02L89.9 1155.43L90.4 1155.85L90.9 1156.26L91.4 1156.67L93.4 1158.31L95.4 1159.95L97.4 1161.58L99.4 1163.19L101.4 1164.78L103.4 1166.35L105.4 1167.9L107.4 1169.42L109.4 1170.93L111.4 1172.41L113.4 1173.88L115.4 1175.32L117.4 1176.74L119.4 1178.14L121.4 1179.52L123.4 1180.89L125.4 1182.25L127.4 1183.59L129.4 1184.92L131.4 1186.24L133.4 1187.55L135.4 1188.84L137.4 1190.13L139.4 1191.41L141.4 1192.69L143.4 1193.95L145.4 1195.21L147.4 1196.46L149.4 1197.7L151.4 1198.94L153.4 1200.17L155.4 1201.39L157.4 1202.59L159.4 1203.78L161.4 1204.95L163.4 1206.09L165.4 1207.22L167.4 1208.31L169.4 1209.39L171.4 1210.43L173.4 1211.45L175.4 1212.44L177.4 1213.4L179.4 1214.33L181.4 1215.22L183.4 1216.09L185.4 1216.93L187.4 1217.74L189.4 1218.52L191.4 1219.26L193.4 1219.98L195.4 1220.66L197.4 1221.32L199.4 1221.95L201.4 1222.54L203.4 1223.11L205.4 1223.64L207.4 1224.15L209.4 1224.63L211.4 1225.08L213.4 1225.5L215.4 1225.89L217.4 1226.26L219.4 1226.6L221.4 1226.92L223.4 1227.2L225.4 1227.47L227.4 1227.71L229.4 1227.93L231.4 1228.12L233.4 1228.3L235.4 1228.45L237.4 1228.58L239.4 1228.69L241.4 1228.78L243.4 1228.85L245.4 1228.9L247.4 1228.94L249.4 1228.95L251.4 1228.95L253.4 1228.93L255.4 1228.89L257.4 1228.84L259.4 1228.77L261.4 1228.69L263.4 1228.59L265.4 1228.48L267.4 1228.35L269.4 1228.21L271.4 1228.05L273.4 1227.88L275.4 1227.7L277.4 1227.5L279.4 1227.29L281.4 1227.07L283.4 1226.83L285.4 1226.59L287.4 1226.33L289.4 1226.06L291.4 1225.79L293.4 1225.5L295.4 1225.2L297.4 1224.9L299.4 1224.58L301.4 1224.26L303.4 1223.93L305.4 1223.59L307.4 1223.25L309.4 1222.9L311.4 1222.55L313.4 1222.19L315.4 1221.82L317.4 1221.45L319.4 1221.08L321.4 1220.7L323.4 1220.32L325.4 1219.93L327.4 1219.54L329.4 1219.15L331.4 1218.76L333.4 1218.36L335.4 1217.96L337.4 1217.56L339.4 1217.15L341.4 1216.75L343.4 1216.34L345.4 1215.93L347.4 1215.52L349.4 1215.11L351.4 1214.7L353.4 1214.29L355.4 1213.88L357.4 1213.47L359.4 1213.05L361.4 1212.64L363.4 1212.23L365.4 1211.82L367.4 1211.41L369.4 1211L371.4 1210.59L373.4 1210.19L375.4 1209.78L377.4 1209.38L379.4 1208.97L381.4 1208.57L383.4 1208.17L385.4 1207.78L387.4 1207.38L389.4 1206.99L391.4 1206.6L393.4 1206.21L395.4 1205.82L397.4 1205.44L399.4 1205.06L401.4 1204.68L403.4 1204.31L405.4 1203.94L407.4 1203.57L409.4 1203.2L411.4 1202.84L413.4 1202.48L415.4 1202.13L417.4 1201.77L419.4 1201.42L421.4 1201.08L423.4 1200.73L425.4 1200.4L427.4 1200.06L429.4 1199.73L431.4 1199.4L433.4 1199.07L435.4 1198.75L437.4 1198.44L439.4 1198.12L441.4 1197.81L443.4 1197.51L445.4 1197.21L447.4 1196.91L449.4 1196.61L451.4 1196.32L453.4 1196.04L455.4 1195.75L457.4 1195.48L459.4 1195.2L461.4 1194.93L463.4 1194.67L465.4 1194.4L467.4 1194.14L469.4 1193.89L471.4 1193.64L473.4 1193.4L475.4 1193.15L477.4 1192.92L479.4 1192.68L481.4 1192.45L483.4 1192.23L484.6 1192.1" fill="none" stroke="#0000ff" stroke-width="4" stroke-linejoin="round"/><path d="M70.1 975.2L70.1 979.27L70.1 983.42L70.09 987.62L70.09 991.89L70.09 996.19L70.08 1000.54L70.08 1004.9L70.07 1009.29L70.07 1013.68L70.06 1018.07L70.05 1022.44L70.05 1026.79L70.05 1031.11L70.04 1035.39L70.04 1039.62L70.04 1043.79L70.03 1047.88L70.04 1051.9L70.04 1055.83L70.04 1059.65L70.04 1063.37L70.05 1066.97L70.06 1070.45L70.07 1073.78L70.08 1076.97L70.1 1080L70.12 1085.34L70.14 1090.32L70.15 1094.99L70.18 1099.37L70.21 1103.52L70.27 1107.46L70.37 1111.24L70.5 1114.9L70.73 1119.84L71 1124.42L71.34 1128.58L71.8 1132.3L72.48 1136.6L73.6 1140.1L74.1 1141.17L74.6 1141.96L75.1 1142.57L75.6 1143.07L76.1 1143.49L76.6 1143.86L77.1 1144.18L77.6 1144.48L78.1 1144.75L78.6 1145.01L79.1 1145.26L79.6 1145.5L80.1 1145.73L80.6 1145.96L81.1 1146.19L81.6 1146.41L82.1 1146.64L82.6 1146.86L83.1 1147.08L83.6 1147.31L84.1 1147.53L84.6 1147.75L85.1 1147.97L85.6 1148.2L86.1 1148.42L86.6 1148.65L87.1 1148.87L87.6 1149.1L88.1 1149.33L88.6 1149.56L89.1 1149.78L89.6 1150.01L90.1 1150.24L90.6 1150.47L91.1 1150.71L91.6 1150.94L92.1 1151.17L92.6 1151.4L93.1 1151.63L93.6 1151.87L95.6 1152.8L97.6 1153.74L99.6 1154.68L101.6 1155.63L103.6 1156.57L105.6 1157.5L107.6 1158.44L109.6 1159.37L111.6 1160.3L113.6 1161.22L115.6 1162.14L117.6 1163.05L119.6 1163.96L121.6 1164.86L123.6 1165.76L125.6 1166.65L127.6 1167.54L129.6 1168.41L131.6 1169.29L133.6 1170.15L135.6 1171.01L137.6 1171.87L139.6 1172.72L141.6 1173.56L143.6 1174.4L145.6 1175.23L147.6 1176.06L149.6 1176.88L151.6 1177.7L153.6 1178.52L155.6 1179.33L157.6 1180.13L159.6 1180.94L161.6 1181.73L163.6 1182.53L165.6 1183.31L167.6 1184.1L169.6 1184.88L171.6 1185.66L173.6 1186.43L175.6 1187.2L177.6 1187.97L179.6 1188.73L181.6 1189.49L183.6 1190.24L185.6 1191L187.6 1191.75L189.6 1192.49L191.6 1193.23L193.6 1193.97L195.6 1194.71L197.6 1195.44L199.6 1196.17L201.6 1196.89L203.6 1197.61L205.6 1198.33L207.6 1199.05L209.6 1199.76L211.6 1200.47L213.6 1201.18L215.6 1201.89L217.6 1202.59L219.6 1203.28L221.6 1203.98L223.6 1204.67L225.6 1205.35L227.6 1206.02L229.6 1206.69L231.6 1207.36L233.6 1208.01L235.6 1208.66L237.6 1209.3L239.6 1209.93L241.6 1210.55L243.6 1211.17L245.6 1211.77L247.6 1212.37L249.6 1212.95L251.6 1213.53L253.6 1214.1L255.6 1214.66L257.6 1215.2L259.6 1215.74L261.6 1216.27L263.6 1216.79L265.6 1217.3L267.6 1217.8L269.6 1218.28L271.6 1218.76L273.6 1219.23L275.6 1219.68L277.6 1220.13L279.6 1220.57L281.6 1221L283.6 1221.41L285.6 1221.82L287.6 1222.21L289.6 1222.6L291.6 1222.98L293.6 1223.34L295.6 1223.7L297.6 1224.04L299.6 1224.38L301.6 1224.71L303.6 1225.02L305.6 1225.33L307.6 1225.62L309.6 1225.91L311.6 1226.19L313.6 1226.46L315.6 1226.72L317.6 1226.97L319.6 1227.21L321.6 1227.44L323.6 1227.66L325.6 1227.87L327.6 1228.07L329.6 1228.27L331.6 1228.45L333.6 1228.63L335.6 1228.8L337.6 1228.95L339.6 1229.1L341.6 1229.25L343.6 1229.38L345.6 1229.5L347.6 1229.62L349.6 1229.73L351.6 1229.83L353.6 1229.92L355.6 1230L357.6 1230.08L359.6 1230.15L361.6 1230.21L363.6 1230.26L365.6 1230.3L367.6 1230.34L369.6 1230.37L371.6 1230.39L373.6 1230.4L375.6 1230.41L377.6 1230.41L379.6 1230.4L381.6 1230.38L383.6 1230.36L385.6 1230.33L387.6 1230.3L389.6 1230.25L391.6 1230.2L393.6 1230.15L395.6 1230.09L397.6 1230.02L399.6 1229.94L401.6 1229.86L403.6 1229.78L405.6 1229.69L407.6 1229.59L409.6 1229.49L411.6 1229.38L413.6 1229.27L415.6 1229.15L417.6 1229.02L419.6 1228.89L421.6 1228.76L423.6 1228.62L425.6 1228.48L427.6 1228.33L429.6 1228.17L431.6 1228.02L433.6 1227.85L435.6 1227.69L437.6 1227.52L439.6 1227.34L441.6 1227.16L443.6 1226.98L445.6 1226.79L447.6 1226.6L449.6 1226.4L451.6 1226.2L453.6 1226L455.6 1225.79L457.6 1225.58L459.6 1225.36L461.6 1225.14L463.6 1224.92L465.6 1224.7L467.6 1224.47L469.6 1224.24L471.6 1224L473.6 1223.76L475.6 1223.52L477.6 1223.27L479.6 1223.02L481.6 1222.77L483.6 1222.52L484.6 1222.39" fill="none" stroke="#00ff00" stroke-width="4" stroke-linejoin="round"/><text class="tk" x="152.68" y="1332.8" font-size="25.5" text-anchor="middle">5</text><text class="tk" x="235.53" y="1332.8" font-size="25.5" text-anchor="middle">10</text><text class="tk" x="318.38" y="1332.8" font-size="25.5" text-anchor="middle">15</text><text class="tk" x="401.22" y="1332.8" font-size="25.5" text-anchor="middle">20</text><text class="tk" x="484.07" y="1332.8" font-size="25.5" text-anchor="middle">25</text><text class="tk" x="59.9" y="988.3" font-size="25.5" text-anchor="end">10<tspan font-size="20.4" dy="-10.9">0</tspan></text><text class="tk" x="59.9" y="1096.4" font-size="25.5" text-anchor="end">10<tspan font-size="20.4" dy="-10.9">-1</tspan></text><text class="tk" x="59.9" y="1204.5" font-size="25.5" text-anchor="end">10<tspan font-size="20.4" dy="-10.9">-2</tspan></text><text class="tk" x="59.9" y="1312.6" font-size="25.5" text-anchor="end">10<tspan font-size="20.4" dy="-10.9">-3</tspan></text><text class="tk tx" x="424.27" y="1372.6" font-size="23.4" textLength="19.55" lengthAdjust="spacingAndGlyphs">×</text><text class="tk" x="484.6" y="1371.4" font-size="25.5" text-anchor="end">10<tspan font-size="21" dy="-11">2</tspan></text><text class="tt" x="101.32" y="961.7" font-size="26.56" textLength="87.57" lengthAdjust="spacingAndGlyphs">relative</text><text class="tt" x="197.52" y="961.7" font-size="26.56" textLength="58.35" lengthAdjust="spacingAndGlyphs">noise</text><text class="tt" x="264.56" y="961.7" font-size="26.56" textLength="52.76" lengthAdjust="spacingAndGlyphs">level</text><text class="tt it" x="326.12" y="962.32" font-size="27.29" textLength="11.81" lengthAdjust="spacingAndGlyphs">δ</text><text class="tt it" x="337.19" y="966.23" font-size="19.36" textLength="24.52" lengthAdjust="spacingAndGlyphs">rel</text><text class="tt" x="370.53" y="963.97" font-size="26.56" textLength="21.01" lengthAdjust="spacingAndGlyphs">=</text><text class="tt" x="398.64" y="961.7" font-size="26.56" textLength="27.46" lengthAdjust="spacingAndGlyphs">10</text><text class="tt" x="426.57" y="953.98" font-size="19.67" textLength="13.72" lengthAdjust="spacingAndGlyphs">−</text><text class="tt" x="440.4" y="952.43" font-size="19.67" textLength="10" lengthAdjust="spacingAndGlyphs">1</text><rect x="231.4" y="986" width="241.1" height="89.3" fill="#fff" stroke="#262626" stroke-width="1.1"/><path d="M238.51 1003.42H295.72" stroke="#ff0000" stroke-width="3.81"/><text class="tt it" x="300.92" y="1009.3" font-size="24.12" textLength="13.58" lengthAdjust="spacingAndGlyphs">α</text><text class="tt" x="321" y="1011.36" font-size="24.12" textLength="18.31" lengthAdjust="spacingAndGlyphs">=</text><text class="tt" x="344.47" y="1009.3" font-size="24.12" textLength="35.01" lengthAdjust="spacingAndGlyphs">0.5,</text><text class="tt it" x="383.23" y="1009.3" font-size="24.12" textLength="12.84" lengthAdjust="spacingAndGlyphs">β</text><text class="tt" x="402.02" y="1011.36" font-size="24.12" textLength="18.31" lengthAdjust="spacingAndGlyphs">=</text><text class="tt" x="425.51" y="1009.3" font-size="24.12" textLength="40.07" lengthAdjust="spacingAndGlyphs">0.99</text><path d="M238.51 1031.35H295.72" stroke="#0000ff" stroke-width="3.81"/><text class="tt it" x="300.92" y="1037.23" font-size="24.12" textLength="13.58" lengthAdjust="spacingAndGlyphs">α</text><text class="tt" x="321" y="1039.29" font-size="24.12" textLength="18.31" lengthAdjust="spacingAndGlyphs">=</text><text class="tt" x="344.47" y="1037.23" font-size="24.12" textLength="35.01" lengthAdjust="spacingAndGlyphs">1.0,</text><text class="tt it" x="383.23" y="1037.23" font-size="24.12" textLength="12.84" lengthAdjust="spacingAndGlyphs">β</text><text class="tt" x="402.02" y="1039.29" font-size="24.12" textLength="18.31" lengthAdjust="spacingAndGlyphs">=</text><text class="tt" x="425.51" y="1037.23" font-size="24.12" textLength="40.07" lengthAdjust="spacingAndGlyphs">0.99</text><path d="M238.51 1059.08H295.72" stroke="#00ff00" stroke-width="3.81"/><text class="tt it" x="300.92" y="1064.96" font-size="24.12" textLength="13.58" lengthAdjust="spacingAndGlyphs">α</text><text class="tt" x="321" y="1067.02" font-size="24.12" textLength="18.31" lengthAdjust="spacingAndGlyphs">=</text><text class="tt" x="344.47" y="1064.96" font-size="24.12" textLength="35.01" lengthAdjust="spacingAndGlyphs">1.9,</text><text class="tt it" x="383.23" y="1064.96" font-size="24.12" textLength="12.84" lengthAdjust="spacingAndGlyphs">β</text><text class="tt" x="402.02" y="1067.02" font-size="24.12" textLength="18.31" lengthAdjust="spacingAndGlyphs">=</text><text class="tt" x="425.51" y="1064.96" font-size="24.12" textLength="40.07" lengthAdjust="spacingAndGlyphs">0.99</text></g>
<g><rect x="577" y="975.2" width="414.9" height="324.3" fill="none" stroke="#262626" stroke-width="1.1"/><path d="M659.95 1299.5v-4.4M659.95 975.2v4.4M742.94 1299.5v-4.4M742.94 975.2v4.4M825.92 1299.5v-4.4M825.92 975.2v4.4M908.91 1299.5v-4.4M908.91 975.2v4.4M991.9 1299.5v-4.4M991.9 975.2v4.4M577 975.2h4.4M991.9 975.2h-4.4M577 1050.76h2.5M991.9 1050.76h-2.5M577 1031.72h2.5M991.9 1031.72h-2.5M577 1018.22h2.5M991.9 1018.22h-2.5M577 1007.74h2.5M991.9 1007.74h-2.5M577 999.18h2.5M991.9 999.18h-2.5M577 991.94h2.5M991.9 991.94h-2.5M577 985.68h2.5M991.9 985.68h-2.5M577 980.15h2.5M991.9 980.15h-2.5M577 1083.3h4.4M991.9 1083.3h-4.4M577 1158.86h2.5M991.9 1158.86h-2.5M577 1139.82h2.5M991.9 1139.82h-2.5M577 1126.32h2.5M991.9 1126.32h-2.5M577 1115.84h2.5M991.9 1115.84h-2.5M577 1107.28h2.5M991.9 1107.28h-2.5M577 1100.04h2.5M991.9 1100.04h-2.5M577 1093.78h2.5M991.9 1093.78h-2.5M577 1088.25h2.5M991.9 1088.25h-2.5M577 1191.4h4.4M991.9 1191.4h-4.4M577 1266.96h2.5M991.9 1266.96h-2.5M577 1247.92h2.5M991.9 1247.92h-2.5M577 1234.42h2.5M991.9 1234.42h-2.5M577 1223.94h2.5M991.9 1223.94h-2.5M577 1215.38h2.5M991.9 1215.38h-2.5M577 1208.14h2.5M991.9 1208.14h-2.5M577 1201.88h2.5M991.9 1201.88h-2.5M577 1196.35h2.5M991.9 1196.35h-2.5M577 1299.5h4.4M991.9 1299.5h-4.4" stroke="#262626" stroke-width="1.1" fill="none"/><path d="M577.4 975.2L577.4 979.26L577.4 983.4L577.4 987.6L577.4 991.85L577.4 996.15L577.4 1000.49L577.4 1004.86L577.4 1009.26L577.4 1013.68L577.4 1018.11L577.4 1022.54L577.4 1026.96L577.4 1031.37L577.4 1035.77L577.4 1040.13L577.4 1044.46L577.4 1048.74L577.4 1052.98L577.4 1057.16L577.4 1061.27L577.4 1065.31L577.4 1069.26L577.4 1073.13L577.4 1076.91L577.4 1080.58L577.4 1084.14L577.4 1087.58L577.4 1090.89L577.4 1094.07L577.4 1097.11L577.4 1100L577.39 1105.07L577.35 1109.89L577.3 1114.43L577.25 1118.71L577.21 1122.72L577.2 1126.46L577.22 1129.92L577.28 1133.1L577.4 1136L577.75 1141.35L578.5 1146L579.56 1150.05L580.95 1154.19L582.6 1158.1L583.1 1158.98L583.6 1159.83L584.1 1160.67L584.6 1161.49L585.1 1162.3L585.6 1163.09L586.1 1163.88L586.6 1164.66L587.1 1165.43L587.6 1166.19L588.1 1166.93L588.6 1167.67L589.1 1168.4L589.6 1169.13L590.1 1169.84L590.6 1170.54L591.1 1171.24L591.6 1171.93L592.1 1172.61L592.6 1173.28L593.1 1173.95L593.6 1174.61L594.1 1175.26L594.6 1175.91L595.1 1176.54L595.6 1177.18L596.1 1177.8L596.6 1178.42L597.1 1179.03L597.6 1179.64L598.1 1180.24L598.6 1180.84L599.1 1181.43L599.6 1182.01L600.1 1182.59L600.6 1183.17L601.1 1183.74L601.6 1184.3L602.1 1184.86L602.6 1185.42L604.6 1187.59L606.6 1189.7L608.6 1191.75L610.6 1193.73L612.6 1195.67L614.6 1197.55L616.6 1199.39L618.6 1201.18L620.6 1202.93L622.6 1204.64L624.6 1206.31L626.6 1207.95L628.6 1209.56L630.6 1211.13L632.6 1212.68L634.6 1214.19L636.6 1215.68L638.6 1217.14L640.6 1218.58L642.6 1220L644.6 1221.38L646.6 1222.74L648.6 1224.07L650.6 1225.36L652.6 1226.63L654.6 1227.86L656.6 1229.05L658.6 1230.21L660.6 1231.34L662.6 1232.43L664.6 1233.49L666.6 1234.52L668.6 1235.51L670.6 1236.47L672.6 1237.4L674.6 1238.29L676.6 1239.15L678.6 1239.99L680.6 1240.79L682.6 1241.56L684.6 1242.3L686.6 1243.02L688.6 1243.7L690.6 1244.36L692.6 1245L694.6 1245.61L696.6 1246.2L698.6 1246.76L700.6 1247.31L702.6 1247.83L704.6 1248.33L706.6 1248.81L708.6 1249.28L710.6 1249.72L712.6 1250.15L714.6 1250.57L716.6 1250.96L718.6 1251.35L720.6 1251.71L722.6 1252.06L724.6 1252.4L726.6 1252.73L728.6 1253.04L730.6 1253.34L732.6 1253.63L734.6 1253.9L736.6 1254.17L738.6 1254.42L740.6 1254.67L742.6 1254.9L744.6 1255.13L746.6 1255.35L748.6 1255.56L750.6 1255.76L752.6 1255.96L754.6 1256.14L756.6 1256.32L758.6 1256.5L760.6 1256.67L762.6 1256.83L764.6 1256.99L766.6 1257.14L768.6 1257.28L770.6 1257.42L772.6 1257.56L774.6 1257.69L776.6 1257.82L778.6 1257.94L780.6 1258.06L782.6 1258.17L784.6 1258.29L786.6 1258.39L788.6 1258.5L790.6 1258.6L792.6 1258.7L794.6 1258.79L796.6 1258.88L798.6 1258.97L800.6 1259.06L802.6 1259.14L804.6 1259.23L806.6 1259.31L808.6 1259.38L810.6 1259.46L812.6 1259.53L814.6 1259.6L816.6 1259.67L818.6 1259.74L820.6 1259.81L822.6 1259.87L824.6 1259.93L826.6 1259.99L828.6 1260.05L830.6 1260.11L832.6 1260.17L834.6 1260.23L836.6 1260.28L838.6 1260.34L840.6 1260.39L842.6 1260.44L844.6 1260.49L846.6 1260.54L848.6 1260.59L850.6 1260.64L852.6 1260.68L854.6 1260.73L856.6 1260.78L858.6 1260.82L860.6 1260.87L862.6 1260.91L864.6 1260.95L866.6 1260.99L868.6 1261.04L870.6 1261.08L872.6 1261.12L874.6 1261.16L876.6 1261.2L878.6 1261.24L880.6 1261.28L882.6 1261.32L884.6 1261.36L886.6 1261.4L888.6 1261.44L890.6 1261.47L892.6 1261.51L894.6 1261.55L896.6 1261.59L898.6 1261.62L900.6 1261.66L902.6 1261.7L904.6 1261.74L906.6 1261.77L908.6 1261.81L910.6 1261.85L912.6 1261.88L914.6 1261.92L916.6 1261.96L918.6 1261.99L920.6 1262.03L922.6 1262.07L924.6 1262.1L926.6 1262.14L928.6 1262.18L930.6 1262.21L932.6 1262.25L934.6 1262.29L936.6 1262.32L938.6 1262.36L940.6 1262.4L942.6 1262.43L944.6 1262.47L946.6 1262.51L948.6 1262.55L950.6 1262.58L952.6 1262.62L954.6 1262.66L956.6 1262.7L958.6 1262.74L960.6 1262.78L962.6 1262.81L964.6 1262.85L966.6 1262.89L968.6 1262.93L970.6 1262.97L972.6 1263.01L974.6 1263.05L976.6 1263.09L978.6 1263.13L980.6 1263.17L982.6 1263.21L984.6 1263.25L986.6 1263.29L988.6 1263.34L990.6 1263.38L991.7 1263.4" fill="none" stroke="#ff0000" stroke-width="4" stroke-linejoin="round"/><path d="M577.4 975.2L577.4 979.26L577.39 983.39L577.39 987.58L577.39 991.83L577.39 996.12L577.38 1000.44L577.38 1004.8L577.38 1009.19L577.37 1013.59L577.37 1018L577.37 1022.41L577.37 1026.82L577.36 1031.22L577.36 1035.59L577.36 1039.94L577.36 1044.26L577.35 1048.53L577.35 1052.76L577.35 1056.93L577.34 1061.04L577.34 1065.08L577.34 1069.04L577.33 1072.91L577.33 1076.7L577.33 1080.38L577.32 1083.96L577.32 1087.42L577.31 1090.77L577.31 1093.98L577.3 1097.06L577.3 1100L577.28 1105.35L577.25 1110.5L577.22 1115.42L577.18 1120.06L577.15 1124.4L577.13 1128.4L577.13 1132.02L577.15 1135.23L577.2 1138L577.22 1141.73L577.6 1145L578.77 1148.96L580.52 1153.35L582.6 1158.1L583.1 1158.19L583.6 1158.7L584.1 1159.47L584.6 1160.41L585.1 1161.45L585.6 1162.56L586.1 1163.71L586.6 1164.87L587.1 1166.05L587.6 1167.22L588.1 1168.39L588.6 1169.55L589.1 1170.69L589.6 1171.82L590.1 1172.93L590.6 1174.02L591.1 1175.09L591.6 1176.15L592.1 1177.18L592.6 1178.2L593.1 1179.2L593.6 1180.18L594.1 1181.14L594.6 1182.09L595.1 1183.01L595.6 1183.93L596.1 1184.82L596.6 1185.7L597.1 1186.56L597.6 1187.41L598.1 1188.25L598.6 1189.07L599.1 1189.88L599.6 1190.67L600.1 1191.45L600.6 1192.22L601.1 1192.98L601.6 1193.72L602.1 1194.45L602.6 1195.17L604.6 1197.95L606.6 1200.57L608.6 1203.05L610.6 1205.4L612.6 1207.63L614.6 1209.75L616.6 1211.77L618.6 1213.69L620.6 1215.53L622.6 1217.28L624.6 1218.96L626.6 1220.57L628.6 1222.11L630.6 1223.59L632.6 1225.02L634.6 1226.39L636.6 1227.71L638.6 1228.98L640.6 1230.21L642.6 1231.39L644.6 1232.53L646.6 1233.64L648.6 1234.71L650.6 1235.74L652.6 1236.74L654.6 1237.71L656.6 1238.64L658.6 1239.54L660.6 1240.41L662.6 1241.24L664.6 1242.05L666.6 1242.83L668.6 1243.58L670.6 1244.31L672.6 1245L674.6 1245.67L676.6 1246.32L678.6 1246.94L680.6 1247.54L682.6 1248.11L684.6 1248.67L686.6 1249.2L688.6 1249.71L690.6 1250.2L692.6 1250.67L694.6 1251.12L696.6 1251.56L698.6 1251.98L700.6 1252.38L702.6 1252.77L704.6 1253.14L706.6 1253.5L708.6 1253.85L710.6 1254.18L712.6 1254.5L714.6 1254.8L716.6 1255.1L718.6 1255.38L720.6 1255.66L722.6 1255.92L724.6 1256.17L726.6 1256.42L728.6 1256.65L730.6 1256.87L732.6 1257.09L734.6 1257.3L736.6 1257.5L738.6 1257.69L740.6 1257.88L742.6 1258.06L744.6 1258.23L746.6 1258.39L748.6 1258.55L750.6 1258.71L752.6 1258.86L754.6 1259L756.6 1259.14L758.6 1259.27L760.6 1259.4L762.6 1259.53L764.6 1259.65L766.6 1259.77L768.6 1259.88L770.6 1259.99L772.6 1260.1L774.6 1260.2L776.6 1260.3L778.6 1260.4L780.6 1260.49L782.6 1260.58L784.6 1260.67L786.6 1260.76L788.6 1260.84L790.6 1260.92L792.6 1261L794.6 1261.08L796.6 1261.15L798.6 1261.22L800.6 1261.29L802.6 1261.36L804.6 1261.43L806.6 1261.49L808.6 1261.56L810.6 1261.62L812.6 1261.68L814.6 1261.74L816.6 1261.79L818.6 1261.85L820.6 1261.9L822.6 1261.96L824.6 1262.01L826.6 1262.06L828.6 1262.11L830.6 1262.16L832.6 1262.21L834.6 1262.26L836.6 1262.3L838.6 1262.35L840.6 1262.4L842.6 1262.44L844.6 1262.48L846.6 1262.53L848.6 1262.57L850.6 1262.61L852.6 1262.65L854.6 1262.69L856.6 1262.73L858.6 1262.77L860.6 1262.81L862.6 1262.85L864.6 1262.88L866.6 1262.92L868.6 1262.96L870.6 1262.99L872.6 1263.03L874.6 1263.07L876.6 1263.1L878.6 1263.14L880.6 1263.17L882.6 1263.21L884.6 1263.24L886.6 1263.27L888.6 1263.31L890.6 1263.34L892.6 1263.37L894.6 1263.41L896.6 1263.44L898.6 1263.47L900.6 1263.51L902.6 1263.54L904.6 1263.57L906.6 1263.6L908.6 1263.64L910.6 1263.67L912.6 1263.7L914.6 1263.73L916.6 1263.77L918.6 1263.8L920.6 1263.83L922.6 1263.86L924.6 1263.89L926.6 1263.93L928.6 1263.96L930.6 1263.99L932.6 1264.02L934.6 1264.05L936.6 1264.09L938.6 1264.12L940.6 1264.15L942.6 1264.18L944.6 1264.21L946.6 1264.25L948.6 1264.28L950.6 1264.31L952.6 1264.34L954.6 1264.38L956.6 1264.41L958.6 1264.44L960.6 1264.47L962.6 1264.51L964.6 1264.54L966.6 1264.57L968.6 1264.61L970.6 1264.64L972.6 1264.67L974.6 1264.71L976.6 1264.74L978.6 1264.77L980.6 1264.81L982.6 1264.84L984.6 1264.88L986.6 1264.91L988.6 1264.95L990.6 1264.98L991.7 1265" fill="none" stroke="#0000ff" stroke-width="4" stroke-linejoin="round"/><path d="M577.4 975.2L577.4 979.26L577.4 983.4L577.4 987.6L577.4 991.86L577.4 996.17L577.4 1000.52L577.4 1004.9L577.4 1009.31L577.4 1013.73L577.4 1018.17L577.4 1022.61L577.4 1027.04L577.4 1031.46L577.4 1035.86L577.4 1040.24L577.4 1044.57L577.4 1048.86L577.4 1053.1L577.4 1057.28L577.4 1061.4L577.4 1065.44L577.4 1069.39L577.4 1073.26L577.4 1077.03L577.4 1080.69L577.4 1084.23L577.4 1087.66L577.4 1090.96L577.4 1094.12L577.4 1097.14L577.4 1100L577.38 1105.55L577.33 1110.77L577.27 1115.65L577.21 1120.2L577.18 1124.41L577.18 1128.26L577.25 1131.76L577.4 1134.9L577.75 1139.78L578.6 1144.1L579.1 1145.37L579.6 1146.62L580.1 1147.83L580.6 1149.02L581.1 1150.16L581.6 1151.28L582.1 1152.36L582.6 1153.41L583.1 1154.44L583.6 1155.43L584.1 1156.41L584.6 1157.35L585.1 1158.28L585.6 1159.18L586.1 1160.06L586.6 1160.92L587.1 1161.76L587.6 1162.59L588.1 1163.4L588.6 1164.19L589.1 1164.97L589.6 1165.73L590.1 1166.48L590.6 1167.21L591.1 1167.93L591.6 1168.64L592.1 1169.34L592.6 1170.03L593.1 1170.71L593.6 1171.37L594.1 1172.03L594.6 1172.67L595.1 1173.31L595.6 1173.94L596.1 1174.55L596.6 1175.16L597.1 1175.77L597.6 1176.36L598.1 1176.95L598.6 1177.53L600.6 1179.77L602.6 1181.91L604.6 1183.96L606.6 1185.93L608.6 1187.82L610.6 1189.64L612.6 1191.4L614.6 1193.09L616.6 1194.74L618.6 1196.34L620.6 1197.89L622.6 1199.39L624.6 1200.86L626.6 1202.28L628.6 1203.67L630.6 1205.02L632.6 1206.33L634.6 1207.61L636.6 1208.86L638.6 1210.07L640.6 1211.24L642.6 1212.39L644.6 1213.51L646.6 1214.59L648.6 1215.65L650.6 1216.68L652.6 1217.69L654.6 1218.67L656.6 1219.62L658.6 1220.56L660.6 1221.46L662.6 1222.35L664.6 1223.22L666.6 1224.06L668.6 1224.88L670.6 1225.69L672.6 1226.47L674.6 1227.24L676.6 1227.99L678.6 1228.72L680.6 1229.44L682.6 1230.14L684.6 1230.82L686.6 1231.49L688.6 1232.14L690.6 1232.78L692.6 1233.41L694.6 1234.02L696.6 1234.62L698.6 1235.21L700.6 1235.78L702.6 1236.34L704.6 1236.89L706.6 1237.43L708.6 1237.96L710.6 1238.48L712.6 1238.98L714.6 1239.48L716.6 1239.96L718.6 1240.44L720.6 1240.9L722.6 1241.36L724.6 1241.81L726.6 1242.25L728.6 1242.68L730.6 1243.1L732.6 1243.52L734.6 1243.92L736.6 1244.32L738.6 1244.71L740.6 1245.09L742.6 1245.47L744.6 1245.83L746.6 1246.2L748.6 1246.55L750.6 1246.9L752.6 1247.24L754.6 1247.57L756.6 1247.9L758.6 1248.22L760.6 1248.53L762.6 1248.84L764.6 1249.15L766.6 1249.44L768.6 1249.74L770.6 1250.02L772.6 1250.3L774.6 1250.58L776.6 1250.85L778.6 1251.11L780.6 1251.37L782.6 1251.63L784.6 1251.88L786.6 1252.12L788.6 1252.36L790.6 1252.6L792.6 1252.83L794.6 1253.06L796.6 1253.28L798.6 1253.5L800.6 1253.72L802.6 1253.93L804.6 1254.13L806.6 1254.34L808.6 1254.53L810.6 1254.73L812.6 1254.92L814.6 1255.11L816.6 1255.29L818.6 1255.47L820.6 1255.65L822.6 1255.82L824.6 1255.99L826.6 1256.15L828.6 1256.32L830.6 1256.48L832.6 1256.63L834.6 1256.78L836.6 1256.93L838.6 1257.08L840.6 1257.22L842.6 1257.37L844.6 1257.5L846.6 1257.64L848.6 1257.77L850.6 1257.9L852.6 1258.03L854.6 1258.15L856.6 1258.27L858.6 1258.39L860.6 1258.51L862.6 1258.62L864.6 1258.73L866.6 1258.84L868.6 1258.95L870.6 1259.05L872.6 1259.15L874.6 1259.25L876.6 1259.35L878.6 1259.44L880.6 1259.53L882.6 1259.62L884.6 1259.71L886.6 1259.8L888.6 1259.88L890.6 1259.96L892.6 1260.04L894.6 1260.12L896.6 1260.2L898.6 1260.27L900.6 1260.34L902.6 1260.41L904.6 1260.48L906.6 1260.54L908.6 1260.61L910.6 1260.67L912.6 1260.73L914.6 1260.79L916.6 1260.85L918.6 1260.9L920.6 1260.95L922.6 1261.01L924.6 1261.06L926.6 1261.11L928.6 1261.15L930.6 1261.2L932.6 1261.24L934.6 1261.28L936.6 1261.32L938.6 1261.36L940.6 1261.4L942.6 1261.44L944.6 1261.47L946.6 1261.5L948.6 1261.54L950.6 1261.57L952.6 1261.59L954.6 1261.62L956.6 1261.65L958.6 1261.67L960.6 1261.7L962.6 1261.72L964.6 1261.74L966.6 1261.76L968.6 1261.78L970.6 1261.79L972.6 1261.81L974.6 1261.83L976.6 1261.84L978.6 1261.85L980.6 1261.86L982.6 1261.87L984.6 1261.88L986.6 1261.89L988.6 1261.89L990.6 1261.9L991.7 1261.9" fill="none" stroke="#00ff00" stroke-width="4" stroke-linejoin="round"/><text class="tk" x="659.95" y="1332.8" font-size="25.5" text-anchor="middle">2</text><text class="tk" x="742.94" y="1332.8" font-size="25.5" text-anchor="middle">4</text><text class="tk" x="825.92" y="1332.8" font-size="25.5" text-anchor="middle">6</text><text class="tk" x="908.91" y="1332.8" font-size="25.5" text-anchor="middle">8</text><text class="tk" x="991.9" y="1332.8" font-size="25.5" text-anchor="middle">10</text><text class="tk" x="566.9" y="988.3" font-size="25.5" text-anchor="end">10<tspan font-size="20.4" dy="-10.9">0</tspan></text><text class="tk" x="566.9" y="1096.4" font-size="25.5" text-anchor="end">10<tspan font-size="20.4" dy="-10.9">-1</tspan></text><text class="tk" x="566.9" y="1204.5" font-size="25.5" text-anchor="end">10<tspan font-size="20.4" dy="-10.9">-2</tspan></text><text class="tk" x="566.9" y="1312.6" font-size="25.5" text-anchor="end">10<tspan font-size="20.4" dy="-10.9">-3</tspan></text><text class="tk tx" x="931.27" y="1372.6" font-size="23.4" textLength="19.55" lengthAdjust="spacingAndGlyphs">×</text><text class="tk" x="991.6" y="1371.4" font-size="25.5" text-anchor="end">10<tspan font-size="21" dy="-11">3</tspan></text><text class="tt" x="608.71" y="961.7" font-size="26.66" textLength="87.87" lengthAdjust="spacingAndGlyphs">relative</text><text class="tt" x="705.25" y="961.7" font-size="26.66" textLength="58.55" lengthAdjust="spacingAndGlyphs">noise</text><text class="tt" x="772.52" y="961.7" font-size="26.66" textLength="52.95" lengthAdjust="spacingAndGlyphs">level</text><text class="tt it" x="834.29" y="962.32" font-size="27.38" textLength="11.85" lengthAdjust="spacingAndGlyphs">δ</text><text class="tt it" x="845.4" y="966.25" font-size="19.42" textLength="24.6" lengthAdjust="spacingAndGlyphs">rel</text><text class="tt" x="878.85" y="963.97" font-size="26.66" textLength="21.08" lengthAdjust="spacingAndGlyphs">=</text><text class="tt" x="907.07" y="961.7" font-size="26.66" textLength="27.55" lengthAdjust="spacingAndGlyphs">10</text><text class="tt" x="935.09" y="953.95" font-size="19.73" textLength="13.76" lengthAdjust="spacingAndGlyphs">−</text><text class="tt" x="950.07" y="952.4" font-size="19.73" textLength="8.78" lengthAdjust="spacingAndGlyphs">2</text><rect x="737.9" y="986" width="241.8" height="89.3" fill="#fff" stroke="#262626" stroke-width="1.1"/><path d="M745.03 1003.47H802.41" stroke="#ff0000" stroke-width="3.82"/><text class="tt it" x="807.63" y="1009.36" font-size="24.19" textLength="13.62" lengthAdjust="spacingAndGlyphs">α</text><text class="tt" x="827.76" y="1011.43" font-size="24.19" textLength="18.36" lengthAdjust="spacingAndGlyphs">=</text><text class="tt" x="851.3" y="1009.36" font-size="24.19" textLength="35.11" lengthAdjust="spacingAndGlyphs">0.5,</text><text class="tt it" x="890.18" y="1009.36" font-size="24.19" textLength="12.87" lengthAdjust="spacingAndGlyphs">β</text><text class="tt" x="909.02" y="1011.43" font-size="24.19" textLength="18.36" lengthAdjust="spacingAndGlyphs">=</text><text class="tt" x="932.57" y="1009.36" font-size="24.19" textLength="40.19" lengthAdjust="spacingAndGlyphs">0.99</text><path d="M745.03 1031.49H802.41" stroke="#0000ff" stroke-width="3.82"/><text class="tt it" x="807.63" y="1037.38" font-size="24.19" textLength="13.62" lengthAdjust="spacingAndGlyphs">α</text><text class="tt" x="827.76" y="1039.45" font-size="24.19" textLength="18.36" lengthAdjust="spacingAndGlyphs">=</text><text class="tt" x="851.3" y="1037.38" font-size="24.19" textLength="35.11" lengthAdjust="spacingAndGlyphs">1.0,</text><text class="tt it" x="890.18" y="1037.38" font-size="24.19" textLength="12.87" lengthAdjust="spacingAndGlyphs">β</text><text class="tt" x="909.02" y="1039.45" font-size="24.19" textLength="18.36" lengthAdjust="spacingAndGlyphs">=</text><text class="tt" x="932.57" y="1037.38" font-size="24.19" textLength="40.19" lengthAdjust="spacingAndGlyphs">0.99</text><path d="M745.03 1059.29H802.41" stroke="#00ff00" stroke-width="3.82"/><text class="tt it" x="807.63" y="1065.19" font-size="24.19" textLength="13.62" lengthAdjust="spacingAndGlyphs">α</text><text class="tt" x="827.76" y="1067.25" font-size="24.19" textLength="18.36" lengthAdjust="spacingAndGlyphs">=</text><text class="tt" x="851.3" y="1065.19" font-size="24.19" textLength="35.11" lengthAdjust="spacingAndGlyphs">1.9,</text><text class="tt it" x="890.18" y="1065.19" font-size="24.19" textLength="12.87" lengthAdjust="spacingAndGlyphs">β</text><text class="tt" x="909.02" y="1067.25" font-size="24.19" textLength="18.36" lengthAdjust="spacingAndGlyphs">=</text><text class="tt" x="932.57" y="1065.19" font-size="24.19" textLength="40.19" lengthAdjust="spacingAndGlyphs">0.99</text></g>
<g><rect x="1084" y="975.2" width="415" height="324.3" fill="none" stroke="#262626" stroke-width="1.1"/><path d="M1166.99 1299.5v-4.4M1166.99 975.2v4.4M1249.99 1299.5v-4.4M1249.99 975.2v4.4M1332.99 1299.5v-4.4M1332.99 975.2v4.4M1416 1299.5v-4.4M1416 975.2v4.4M1499 1299.5v-4.4M1499 975.2v4.4M1084 975.2h4.4M1499 975.2h-4.4M1084 1050.76h2.5M1499 1050.76h-2.5M1084 1031.72h2.5M1499 1031.72h-2.5M1084 1018.22h2.5M1499 1018.22h-2.5M1084 1007.74h2.5M1499 1007.74h-2.5M1084 999.18h2.5M1499 999.18h-2.5M1084 991.94h2.5M1499 991.94h-2.5M1084 985.68h2.5M1499 985.68h-2.5M1084 980.15h2.5M1499 980.15h-2.5M1084 1083.3h4.4M1499 1083.3h-4.4M1084 1158.86h2.5M1499 1158.86h-2.5M1084 1139.82h2.5M1499 1139.82h-2.5M1084 1126.32h2.5M1499 1126.32h-2.5M1084 1115.84h2.5M1499 1115.84h-2.5M1084 1107.28h2.5M1499 1107.28h-2.5M1084 1100.04h2.5M1499 1100.04h-2.5M1084 1093.78h2.5M1499 1093.78h-2.5M1084 1088.25h2.5M1499 1088.25h-2.5M1084 1191.4h4.4M1499 1191.4h-4.4M1084 1266.96h2.5M1499 1266.96h-2.5M1084 1247.92h2.5M1499 1247.92h-2.5M1084 1234.42h2.5M1499 1234.42h-2.5M1084 1223.94h2.5M1499 1223.94h-2.5M1084 1215.38h2.5M1499 1215.38h-2.5M1084 1208.14h2.5M1499 1208.14h-2.5M1084 1201.88h2.5M1499 1201.88h-2.5M1084 1196.35h2.5M1499 1196.35h-2.5M1084 1299.5h4.4M1499 1299.5h-4.4" stroke="#262626" stroke-width="1.1" fill="none"/><path d="M1084.8 975.2L1084.8 979.26L1084.8 983.39L1084.8 987.57L1084.8 991.8L1084.8 996.08L1084.8 1000.4L1084.8 1004.75L1084.79 1009.11L1084.79 1013.5L1084.79 1017.9L1084.79 1022.29L1084.79 1026.68L1084.79 1031.07L1084.79 1035.43L1084.79 1039.76L1084.79 1044.07L1084.78 1048.33L1084.78 1052.55L1084.78 1056.72L1084.78 1060.82L1084.78 1064.86L1084.78 1068.82L1084.78 1072.7L1084.78 1076.5L1084.79 1080.2L1084.79 1083.79L1084.79 1087.28L1084.79 1090.65L1084.79 1093.9L1084.8 1097.02L1084.8 1100L1084.8 1104.98L1084.8 1109.71L1084.8 1114.21L1084.79 1118.48L1084.79 1122.54L1084.79 1126.4L1084.8 1130.06L1084.82 1133.54L1084.85 1136.85L1084.9 1140L1084.9 1145.7L1084.94 1150.59L1085.4 1155.6L1086.29 1160.1L1087.52 1164.67L1088.92 1169.33L1090.3 1174.1L1090.8 1176.65L1091.3 1178.92L1091.8 1180.99L1092.3 1182.91L1092.8 1184.72L1093.3 1186.45L1093.8 1188.11L1094.3 1189.71L1094.8 1191.26L1095.3 1192.77L1095.8 1194.25L1096.3 1195.69L1096.8 1197.1L1097.3 1198.48L1097.8 1199.84L1098.3 1201.18L1098.8 1202.5L1099.3 1203.79L1099.8 1205.07L1100.3 1206.33L1100.8 1207.57L1101.3 1208.8L1101.8 1210.01L1102.3 1211.21L1102.8 1212.4L1103.3 1213.57L1103.8 1214.72L1104.3 1215.87L1104.8 1217L1105.3 1218.12L1105.8 1219.21L1106.3 1220.29L1106.8 1221.35L1107.3 1222.39L1107.8 1223.41L1108.3 1224.41L1108.8 1225.38L1109.3 1226.33L1109.8 1227.26L1110.3 1228.17L1112.3 1231.58L1114.3 1234.65L1116.3 1237.41L1118.3 1239.89L1120.3 1242.12L1122.3 1244.13L1124.3 1245.94L1126.3 1247.57L1128.3 1249.04L1130.3 1250.35L1132.3 1251.53L1134.3 1252.58L1136.3 1253.52L1138.3 1254.35L1140.3 1255.09L1142.3 1255.74L1144.3 1256.33L1146.3 1256.85L1148.3 1257.32L1150.3 1257.74L1152.3 1258.12L1154.3 1258.46L1156.3 1258.77L1158.3 1259.05L1160.3 1259.31L1162.3 1259.54L1164.3 1259.75L1166.3 1259.94L1168.3 1260.12L1170.3 1260.28L1172.3 1260.42L1174.3 1260.55L1176.3 1260.68L1178.3 1260.79L1180.3 1260.89L1182.3 1260.98L1184.3 1261.06L1186.3 1261.14L1188.3 1261.21L1190.3 1261.27L1192.3 1261.33L1194.3 1261.39L1196.3 1261.44L1198.3 1261.48L1200.3 1261.53L1202.3 1261.56L1204.3 1261.6L1206.3 1261.63L1208.3 1261.66L1210.3 1261.69L1212.3 1261.72L1214.3 1261.75L1216.3 1261.77L1218.3 1261.79L1220.3 1261.81L1222.3 1261.83L1224.3 1261.85L1226.3 1261.87L1228.3 1261.89L1230.3 1261.91L1232.3 1261.92L1234.3 1261.94L1236.3 1261.96L1238.3 1261.97L1240.3 1261.99L1242.3 1262.01L1244.3 1262.02L1246.3 1262.04L1248.3 1262.06L1250.3 1262.08L1252.3 1262.09L1254.3 1262.11L1256.3 1262.13L1258.3 1262.15L1260.3 1262.17L1262.3 1262.19L1264.3 1262.21L1266.3 1262.23L1268.3 1262.25L1270.3 1262.27L1272.3 1262.29L1274.3 1262.31L1276.3 1262.34L1278.3 1262.36L1280.3 1262.38L1282.3 1262.4L1284.3 1262.42L1286.3 1262.45L1288.3 1262.47L1290.3 1262.49L1292.3 1262.51L1294.3 1262.53L1296.3 1262.56L1298.3 1262.58L1300.3 1262.6L1302.3 1262.62L1304.3 1262.64L1306.3 1262.67L1308.3 1262.69L1310.3 1262.71L1312.3 1262.73L1314.3 1262.75L1316.3 1262.77L1318.3 1262.79L1320.3 1262.81L1322.3 1262.83L1324.3 1262.85L1326.3 1262.87L1328.3 1262.89L1330.3 1262.91L1332.3 1262.93L1334.3 1262.95L1336.3 1262.97L1338.3 1262.99L1340.3 1263.01L1342.3 1263.03L1344.3 1263.05L1346.3 1263.06L1348.3 1263.08L1350.3 1263.1L1352.3 1263.12L1354.3 1263.13L1356.3 1263.15L1358.3 1263.17L1360.3 1263.18L1362.3 1263.2L1364.3 1263.21L1366.3 1263.23L1368.3 1263.25L1370.3 1263.26L1372.3 1263.28L1374.3 1263.29L1376.3 1263.3L1378.3 1263.32L1380.3 1263.33L1382.3 1263.34L1384.3 1263.36L1386.3 1263.37L1388.3 1263.38L1390.3 1263.4L1392.3 1263.41L1394.3 1263.42L1396.3 1263.43L1398.3 1263.44L1400.3 1263.45L1402.3 1263.47L1404.3 1263.48L1406.3 1263.49L1408.3 1263.5L1410.3 1263.51L1412.3 1263.52L1414.3 1263.53L1416.3 1263.53L1418.3 1263.54L1420.3 1263.55L1422.3 1263.56L1424.3 1263.57L1426.3 1263.58L1428.3 1263.58L1430.3 1263.59L1432.3 1263.6L1434.3 1263.6L1436.3 1263.61L1438.3 1263.62L1440.3 1263.62L1442.3 1263.63L1444.3 1263.64L1446.3 1263.64L1448.3 1263.65L1450.3 1263.65L1452.3 1263.66L1454.3 1263.66L1456.3 1263.66L1458.3 1263.67L1460.3 1263.67L1462.3 1263.68L1464.3 1263.68L1466.3 1263.68L1468.3 1263.68L1470.3 1263.69L1472.3 1263.69L1474.3 1263.69L1476.3 1263.69L1478.3 1263.7L1480.3 1263.7L1482.3 1263.7L1484.3 1263.7L1486.3 1263.7L1488.3 1263.7L1490.3 1263.7L1492.3 1263.7L1494.3 1263.7L1496.3 1263.7L1498.3 1263.7L1499 1263.7" fill="none" stroke="#ff0000" stroke-width="4" stroke-linejoin="round"/><path d="M1084.8 975.2L1084.79 979.26L1084.79 983.39L1084.78 987.57L1084.78 991.8L1084.77 996.08L1084.77 1000.4L1084.76 1004.75L1084.76 1009.11L1084.75 1013.5L1084.75 1017.9L1084.75 1022.29L1084.74 1026.68L1084.74 1031.07L1084.73 1035.43L1084.73 1039.77L1084.72 1044.07L1084.72 1048.33L1084.71 1052.55L1084.71 1056.72L1084.7 1060.82L1084.7 1064.86L1084.69 1068.82L1084.68 1072.7L1084.67 1076.5L1084.67 1080.2L1084.66 1083.79L1084.65 1087.28L1084.64 1090.65L1084.62 1093.9L1084.61 1097.02L1084.6 1100L1084.57 1105L1084.55 1109.79L1084.52 1114.37L1084.48 1118.73L1084.45 1122.86L1084.42 1126.76L1084.38 1130.43L1084.35 1133.86L1084.32 1137.05L1084.3 1140L1084.06 1146.17L1084.2 1151.9L1084.79 1155.9L1085.69 1160.25L1086.79 1164.82L1087.97 1169.48L1089.1 1174.1L1089.6 1175.98L1090.1 1178.01L1090.6 1180.11L1091.1 1182.23L1091.6 1184.33L1092.1 1186.41L1092.6 1188.46L1093.1 1190.46L1093.6 1192.42L1094.1 1194.33L1094.6 1196.2L1095.1 1198.03L1095.6 1199.81L1096.1 1201.55L1096.6 1203.24L1097.1 1204.9L1097.6 1206.52L1098.1 1208.1L1098.6 1209.65L1099.1 1211.17L1099.6 1212.65L1100.1 1214.1L1100.6 1215.52L1101.1 1216.92L1101.6 1218.28L1102.1 1219.62L1102.6 1220.94L1103.1 1222.23L1103.6 1223.5L1104.1 1224.73L1104.6 1225.95L1105.1 1227.13L1105.6 1228.28L1106.1 1229.41L1106.6 1230.51L1107.1 1231.58L1107.6 1232.62L1108.1 1233.63L1108.6 1234.62L1109.1 1235.58L1111.1 1239.14L1113.1 1242.29L1115.1 1245.05L1117.1 1247.47L1119.1 1249.56L1121.1 1251.35L1123.1 1252.88L1125.1 1254.18L1127.1 1255.29L1129.1 1256.24L1131.1 1257.05L1133.1 1257.75L1135.1 1258.35L1137.1 1258.87L1139.1 1259.32L1141.1 1259.71L1143.1 1260.04L1145.1 1260.33L1147.1 1260.59L1149.1 1260.8L1151.1 1260.99L1153.1 1261.16L1155.1 1261.3L1157.1 1261.43L1159.1 1261.54L1161.1 1261.64L1163.1 1261.72L1165.1 1261.8L1167.1 1261.87L1169.1 1261.93L1171.1 1261.99L1173.1 1262.04L1175.1 1262.09L1177.1 1262.14L1179.1 1262.19L1181.1 1262.23L1183.1 1262.27L1185.1 1262.32L1187.1 1262.36L1189.1 1262.4L1191.1 1262.43L1193.1 1262.47L1195.1 1262.51L1197.1 1262.54L1199.1 1262.58L1201.1 1262.61L1203.1 1262.65L1205.1 1262.68L1207.1 1262.71L1209.1 1262.74L1211.1 1262.77L1213.1 1262.8L1215.1 1262.83L1217.1 1262.86L1219.1 1262.89L1221.1 1262.91L1223.1 1262.94L1225.1 1262.97L1227.1 1262.99L1229.1 1263.02L1231.1 1263.04L1233.1 1263.07L1235.1 1263.09L1237.1 1263.11L1239.1 1263.14L1241.1 1263.16L1243.1 1263.18L1245.1 1263.2L1247.1 1263.23L1249.1 1263.25L1251.1 1263.27L1253.1 1263.29L1255.1 1263.31L1257.1 1263.33L1259.1 1263.35L1261.1 1263.37L1263.1 1263.39L1265.1 1263.41L1267.1 1263.42L1269.1 1263.44L1271.1 1263.46L1273.1 1263.48L1275.1 1263.5L1277.1 1263.51L1279.1 1263.53L1281.1 1263.55L1283.1 1263.56L1285.1 1263.58L1287.1 1263.6L1289.1 1263.61L1291.1 1263.63L1293.1 1263.64L1295.1 1263.66L1297.1 1263.67L1299.1 1263.69L1301.1 1263.7L1303.1 1263.72L1305.1 1263.73L1307.1 1263.75L1309.1 1263.76L1311.1 1263.78L1313.1 1263.79L1315.1 1263.8L1317.1 1263.82L1319.1 1263.83L1321.1 1263.85L1323.1 1263.86L1325.1 1263.87L1327.1 1263.89L1329.1 1263.9L1331.1 1263.91L1333.1 1263.92L1335.1 1263.94L1337.1 1263.95L1339.1 1263.96L1341.1 1263.97L1343.1 1263.98L1345.1 1264L1347.1 1264.01L1349.1 1264.02L1351.1 1264.03L1353.1 1264.04L1355.1 1264.06L1357.1 1264.07L1359.1 1264.08L1361.1 1264.09L1363.1 1264.1L1365.1 1264.11L1367.1 1264.12L1369.1 1264.13L1371.1 1264.14L1373.1 1264.15L1375.1 1264.16L1377.1 1264.18L1379.1 1264.19L1381.1 1264.2L1383.1 1264.21L1385.1 1264.22L1387.1 1264.23L1389.1 1264.24L1391.1 1264.25L1393.1 1264.26L1395.1 1264.27L1397.1 1264.28L1399.1 1264.29L1401.1 1264.3L1403.1 1264.3L1405.1 1264.31L1407.1 1264.32L1409.1 1264.33L1411.1 1264.34L1413.1 1264.35L1415.1 1264.36L1417.1 1264.37L1419.1 1264.38L1421.1 1264.39L1423.1 1264.4L1425.1 1264.41L1427.1 1264.41L1429.1 1264.42L1431.1 1264.43L1433.1 1264.44L1435.1 1264.45L1437.1 1264.46L1439.1 1264.47L1441.1 1264.47L1443.1 1264.48L1445.1 1264.49L1447.1 1264.5L1449.1 1264.51L1451.1 1264.52L1453.1 1264.52L1455.1 1264.53L1457.1 1264.54L1459.1 1264.55L1461.1 1264.56L1463.1 1264.56L1465.1 1264.57L1467.1 1264.58L1469.1 1264.59L1471.1 1264.6L1473.1 1264.6L1475.1 1264.61L1477.1 1264.62L1479.1 1264.63L1481.1 1264.63L1483.1 1264.64L1485.1 1264.65L1487.1 1264.66L1489.1 1264.66L1491.1 1264.67L1493.1 1264.68L1495.1 1264.69L1497.1 1264.69L1499 1264.7" fill="none" stroke="#0000ff" stroke-width="4" stroke-linejoin="round"/><path d="M1084.8 975.2L1084.8 979.26L1084.8 983.38L1084.8 987.55L1084.8 991.77L1084.8 996.03L1084.8 1000.33L1084.8 1004.66L1084.8 1009L1084.8 1013.37L1084.8 1017.74L1084.8 1022.11L1084.8 1026.48L1084.8 1030.84L1084.8 1035.18L1084.8 1039.5L1084.8 1043.78L1084.8 1048.03L1084.8 1052.24L1084.8 1056.39L1084.8 1060.49L1084.8 1064.53L1084.8 1068.5L1084.8 1072.39L1084.8 1076.2L1084.8 1079.92L1084.8 1083.54L1084.8 1087.06L1084.8 1090.48L1084.8 1093.77L1084.8 1096.95L1084.8 1100L1084.77 1105.32L1084.7 1110.41L1084.6 1115.27L1084.5 1119.91L1084.41 1124.32L1084.35 1128.52L1084.34 1132.5L1084.4 1136.27L1084.55 1139.84L1084.8 1143.2L1085.37 1147.78L1086.1 1151.73L1086.96 1155.44L1087.9 1159.3L1088.4 1161.31L1088.9 1163.24L1089.4 1165.1L1089.9 1166.91L1090.4 1168.67L1090.9 1170.38L1091.4 1172.04L1091.9 1173.67L1092.4 1175.26L1092.9 1176.82L1093.4 1178.35L1093.9 1179.84L1094.4 1181.31L1094.9 1182.75L1095.4 1184.17L1095.9 1185.56L1096.4 1186.93L1096.9 1188.27L1097.4 1189.59L1097.9 1190.9L1098.4 1192.18L1098.9 1193.45L1099.4 1194.7L1099.9 1195.93L1100.4 1197.14L1100.9 1198.33L1101.4 1199.5L1101.9 1200.66L1102.4 1201.79L1102.9 1202.91L1103.4 1204.01L1103.9 1205.09L1104.4 1206.16L1104.9 1207.21L1105.4 1208.24L1105.9 1209.25L1106.4 1210.25L1106.9 1211.23L1107.4 1212.2L1107.9 1213.15L1109.9 1216.8L1111.9 1220.19L1113.9 1223.32L1115.9 1226.19L1117.9 1228.82L1119.9 1231.21L1121.9 1233.41L1123.9 1235.42L1125.9 1237.28L1127.9 1238.99L1129.9 1240.57L1131.9 1242.04L1133.9 1243.4L1135.9 1244.66L1137.9 1245.84L1139.9 1246.94L1141.9 1247.96L1143.9 1248.92L1145.9 1249.81L1147.9 1250.64L1149.9 1251.42L1151.9 1252.15L1153.9 1252.84L1155.9 1253.48L1157.9 1254.07L1159.9 1254.64L1161.9 1255.16L1163.9 1255.65L1165.9 1256.11L1167.9 1256.54L1169.9 1256.94L1171.9 1257.32L1173.9 1257.67L1175.9 1258L1177.9 1258.3L1179.9 1258.59L1181.9 1258.85L1183.9 1259.1L1185.9 1259.33L1187.9 1259.54L1189.9 1259.74L1191.9 1259.92L1193.9 1260.09L1195.9 1260.25L1197.9 1260.4L1199.9 1260.54L1201.9 1260.67L1203.9 1260.79L1205.9 1260.9L1207.9 1261L1209.9 1261.1L1211.9 1261.19L1213.9 1261.27L1215.9 1261.34L1217.9 1261.41L1219.9 1261.48L1221.9 1261.54L1223.9 1261.59L1225.9 1261.65L1227.9 1261.69L1229.9 1261.73L1231.9 1261.77L1233.9 1261.81L1235.9 1261.84L1237.9 1261.87L1239.9 1261.9L1241.9 1261.92L1243.9 1261.94L1245.9 1261.96L1247.9 1261.98L1249.9 1262L1251.9 1262.01L1253.9 1262.02L1255.9 1262.03L1257.9 1262.04L1259.9 1262.05L1261.9 1262.05L1263.9 1262.06L1265.9 1262.06L1267.9 1262.07L1269.9 1262.07L1271.9 1262.07L1273.9 1262.07L1275.9 1262.07L1277.9 1262.07L1279.9 1262.07L1281.9 1262.06L1283.9 1262.06L1285.9 1262.06L1287.9 1262.05L1289.9 1262.05L1291.9 1262.05L1293.9 1262.04L1295.9 1262.04L1297.9 1262.03L1299.9 1262.03L1301.9 1262.02L1303.9 1262.02L1305.9 1262.01L1307.9 1262.01L1309.9 1262L1311.9 1262L1313.9 1261.99L1315.9 1261.99L1317.9 1261.98L1319.9 1261.98L1321.9 1261.97L1323.9 1261.97L1325.9 1261.96L1327.9 1261.96L1329.9 1261.96L1331.9 1261.95L1333.9 1261.95L1335.9 1261.95L1337.9 1261.94L1339.9 1261.94L1341.9 1261.94L1343.9 1261.94L1345.9 1261.93L1347.9 1261.93L1349.9 1261.93L1351.9 1261.93L1353.9 1261.93L1355.9 1261.93L1357.9 1261.93L1359.9 1261.93L1361.9 1261.93L1363.9 1261.93L1365.9 1261.94L1367.9 1261.94L1369.9 1261.94L1371.9 1261.94L1373.9 1261.95L1375.9 1261.95L1377.9 1261.96L1379.9 1261.96L1381.9 1261.97L1383.9 1261.97L1385.9 1261.98L1387.9 1261.98L1389.9 1261.99L1391.9 1262L1393.9 1262.01L1395.9 1262.01L1397.9 1262.02L1399.9 1262.03L1401.9 1262.04L1403.9 1262.05L1405.9 1262.06L1407.9 1262.07L1409.9 1262.08L1411.9 1262.09L1413.9 1262.11L1415.9 1262.12L1417.9 1262.13L1419.9 1262.15L1421.9 1262.16L1423.9 1262.17L1425.9 1262.19L1427.9 1262.2L1429.9 1262.22L1431.9 1262.23L1433.9 1262.25L1435.9 1262.27L1437.9 1262.28L1439.9 1262.3L1441.9 1262.32L1443.9 1262.34L1445.9 1262.36L1447.9 1262.38L1449.9 1262.4L1451.9 1262.42L1453.9 1262.44L1455.9 1262.46L1457.9 1262.48L1459.9 1262.5L1461.9 1262.52L1463.9 1262.55L1465.9 1262.57L1467.9 1262.59L1469.9 1262.62L1471.9 1262.64L1473.9 1262.66L1475.9 1262.69L1477.9 1262.71L1479.9 1262.74L1481.9 1262.77L1483.9 1262.79L1485.9 1262.82L1487.9 1262.85L1489.9 1262.88L1491.9 1262.9L1493.9 1262.93L1495.9 1262.96L1497.9 1262.99L1499 1263.01" fill="none" stroke="#00ff00" stroke-width="4" stroke-linejoin="round"/><text class="tk" x="1166.99" y="1332.8" font-size="25.5" text-anchor="middle">5</text><text class="tk" x="1249.99" y="1332.8" font-size="25.5" text-anchor="middle">10</text><text class="tk" x="1332.99" y="1332.8" font-size="25.5" text-anchor="middle">15</text><text class="tk" x="1416" y="1332.8" font-size="25.5" text-anchor="middle">20</text><text class="tk" x="1499" y="1332.8" font-size="25.5" text-anchor="middle">25</text><text class="tk" x="1073.9" y="988.3" font-size="25.5" text-anchor="end">10<tspan font-size="20.4" dy="-10.9">0</tspan></text><text class="tk" x="1073.9" y="1096.4" font-size="25.5" text-anchor="end">10<tspan font-size="20.4" dy="-10.9">-1</tspan></text><text class="tk" x="1073.9" y="1204.5" font-size="25.5" text-anchor="end">10<tspan font-size="20.4" dy="-10.9">-2</tspan></text><text class="tk" x="1073.9" y="1312.6" font-size="25.5" text-anchor="end">10<tspan font-size="20.4" dy="-10.9">-3</tspan></text><text class="tk tx" x="1438.37" y="1372.6" font-size="23.4" textLength="19.55" lengthAdjust="spacingAndGlyphs">×</text><text class="tk" x="1498.7" y="1371.4" font-size="25.5" text-anchor="end">10<tspan font-size="21" dy="-11">3</tspan></text><text class="tt" x="1115.61" y="961.7" font-size="26.69" textLength="88" lengthAdjust="spacingAndGlyphs">relative</text><text class="tt" x="1212.28" y="961.7" font-size="26.69" textLength="58.63" lengthAdjust="spacingAndGlyphs">noise</text><text class="tt" x="1279.65" y="961.7" font-size="26.69" textLength="53.02" lengthAdjust="spacingAndGlyphs">level</text><text class="tt it" x="1341.51" y="962.32" font-size="27.42" textLength="11.86" lengthAdjust="spacingAndGlyphs">δ</text><text class="tt it" x="1352.64" y="966.25" font-size="19.45" textLength="24.64" lengthAdjust="spacingAndGlyphs">rel</text><text class="tt" x="1386.14" y="963.98" font-size="26.69" textLength="21.11" lengthAdjust="spacingAndGlyphs">=</text><text class="tt" x="1414.4" y="961.7" font-size="26.69" textLength="27.59" lengthAdjust="spacingAndGlyphs">10</text><text class="tt" x="1442.46" y="953.94" font-size="19.76" textLength="13.78" lengthAdjust="spacingAndGlyphs">−</text><text class="tt" x="1457.31" y="952.39" font-size="19.76" textLength="8.58" lengthAdjust="spacingAndGlyphs">3</text><rect x="1245.4" y="986" width="242.1" height="89.3" fill="#fff" stroke="#262626" stroke-width="1.1"/><path d="M1252.54 1003.49H1309.99" stroke="#ff0000" stroke-width="3.83"/><text class="tt it" x="1315.21" y="1009.39" font-size="24.22" textLength="13.64" lengthAdjust="spacingAndGlyphs">α</text><text class="tt" x="1335.37" y="1011.46" font-size="24.22" textLength="18.38" lengthAdjust="spacingAndGlyphs">=</text><text class="tt" x="1358.94" y="1009.39" font-size="24.22" textLength="35.15" lengthAdjust="spacingAndGlyphs">0.5,</text><text class="tt it" x="1397.86" y="1009.39" font-size="24.22" textLength="12.89" lengthAdjust="spacingAndGlyphs">β</text><text class="tt" x="1416.73" y="1011.46" font-size="24.22" textLength="18.38" lengthAdjust="spacingAndGlyphs">=</text><text class="tt" x="1440.31" y="1009.39" font-size="24.22" textLength="40.24" lengthAdjust="spacingAndGlyphs">0.99</text><path d="M1252.54 1031.54H1309.99" stroke="#0000ff" stroke-width="3.83"/><text class="tt it" x="1315.21" y="1037.44" font-size="24.22" textLength="13.64" lengthAdjust="spacingAndGlyphs">α</text><text class="tt" x="1335.37" y="1039.51" font-size="24.22" textLength="18.38" lengthAdjust="spacingAndGlyphs">=</text><text class="tt" x="1358.94" y="1037.44" font-size="24.22" textLength="35.15" lengthAdjust="spacingAndGlyphs">1.0,</text><text class="tt it" x="1397.86" y="1037.44" font-size="24.22" textLength="12.89" lengthAdjust="spacingAndGlyphs">β</text><text class="tt" x="1416.73" y="1039.51" font-size="24.22" textLength="18.38" lengthAdjust="spacingAndGlyphs">=</text><text class="tt" x="1440.31" y="1037.44" font-size="24.22" textLength="40.24" lengthAdjust="spacingAndGlyphs">0.99</text><path d="M1252.54 1059.39H1309.99" stroke="#00ff00" stroke-width="3.83"/><text class="tt it" x="1315.21" y="1065.29" font-size="24.22" textLength="13.64" lengthAdjust="spacingAndGlyphs">α</text><text class="tt" x="1335.37" y="1067.36" font-size="24.22" textLength="18.38" lengthAdjust="spacingAndGlyphs">=</text><text class="tt" x="1358.94" y="1065.29" font-size="24.22" textLength="35.15" lengthAdjust="spacingAndGlyphs">1.9,</text><text class="tt it" x="1397.86" y="1065.29" font-size="24.22" textLength="12.89" lengthAdjust="spacingAndGlyphs">β</text><text class="tt" x="1416.73" y="1067.36" font-size="24.22" textLength="18.38" lengthAdjust="spacingAndGlyphs">=</text><text class="tt" x="1440.31" y="1065.29" font-size="24.22" textLength="40.24" lengthAdjust="spacingAndGlyphs">0.99</text></g>
</svg></body></html>
